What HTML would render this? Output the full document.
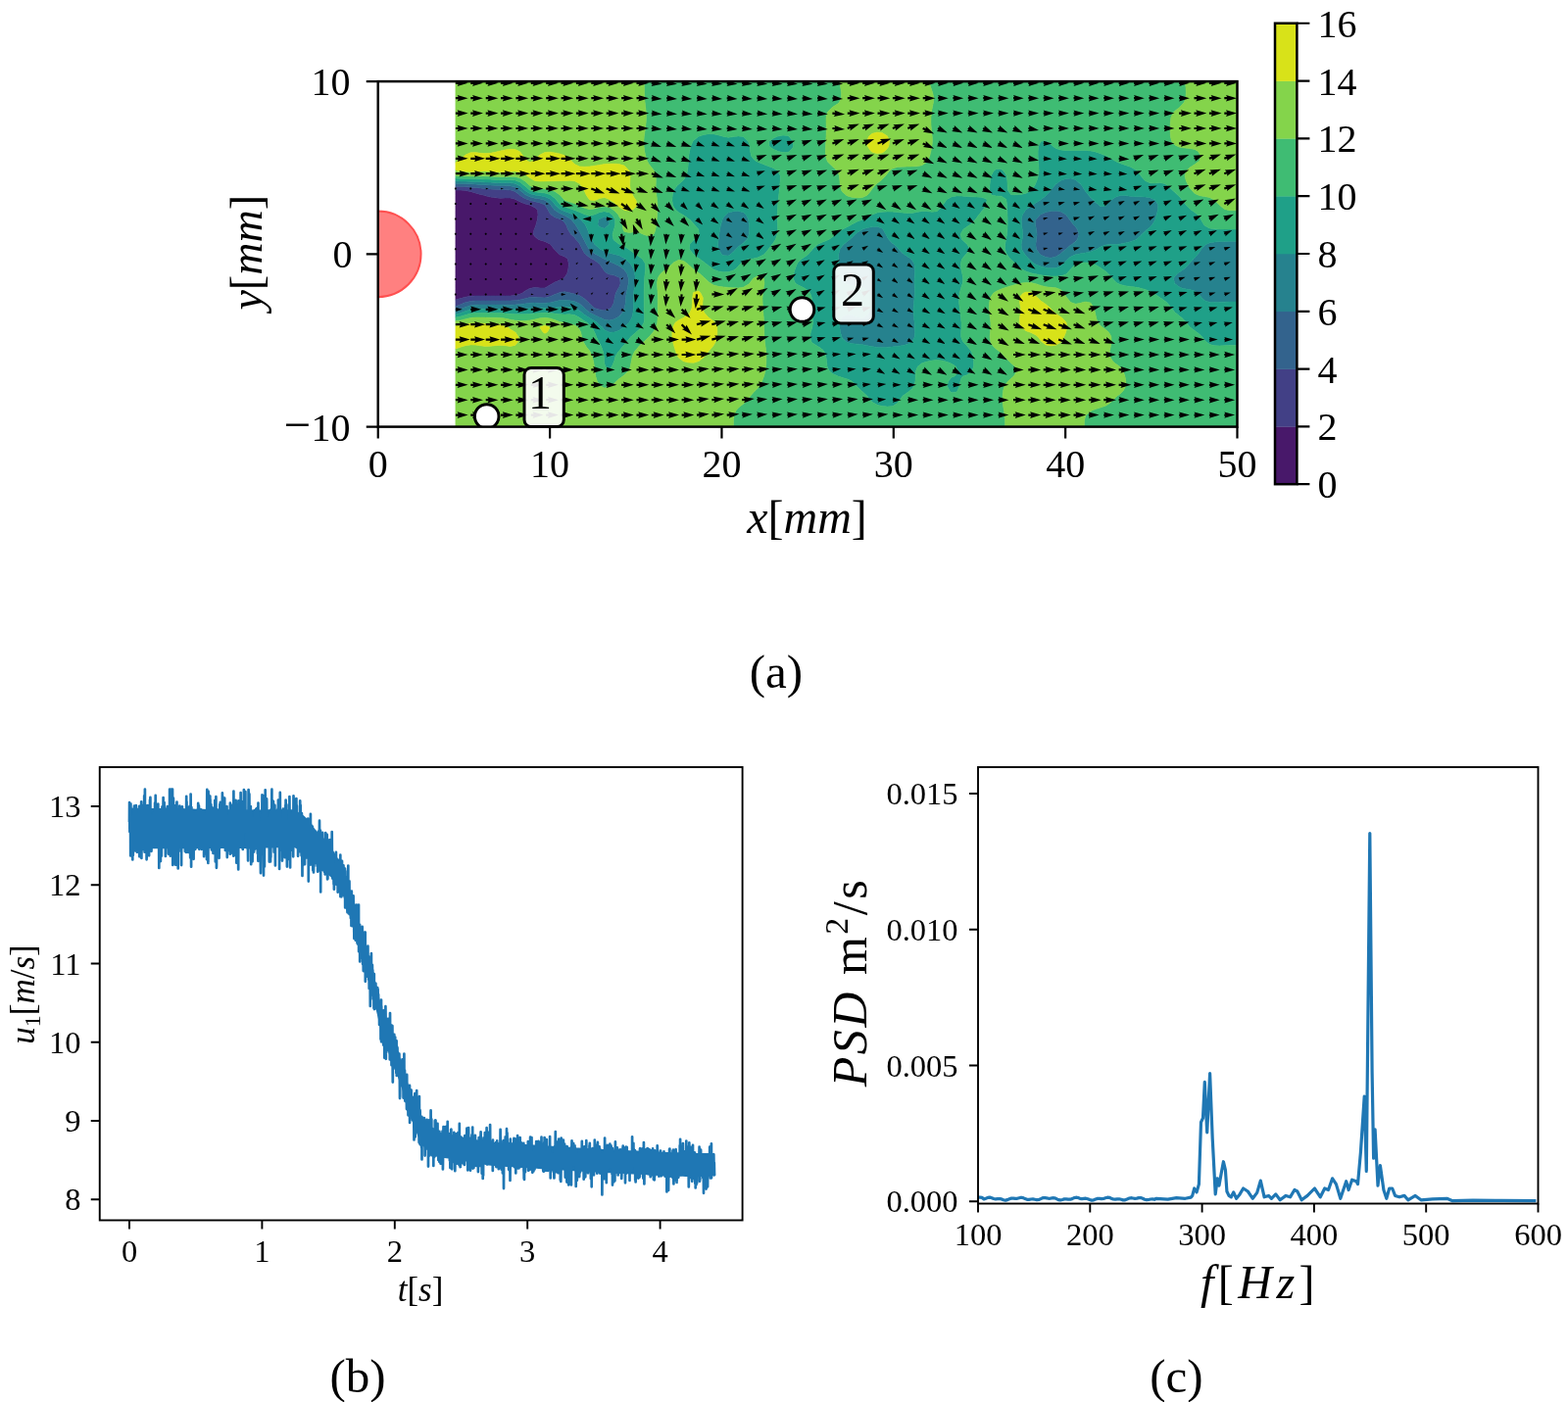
<!DOCTYPE html><html><head><meta charset="utf-8"><style>html,body{margin:0;padding:0;background:#fff;}svg{display:block;}text{font-family:'Liberation Serif','DejaVu Serif',serif;fill:#000;}</style></head><body>
<svg width="1600" height="1431" viewBox="0 0 1600 1431">
<rect width="1600" height="1431" fill="#fff"/>
<defs><clipPath id="ca"><rect x="385.75" y="83.10" width="876.75" height="352.50"/></clipPath></defs>
<g clip-path="url(#ca)">
<path fill="#48186a" stroke="#48186a" stroke-width="0.6" fill-rule="evenodd" d="M470.0 194.1L473.1 194.3L475.0 194.5L480.1 195.5L485.1 196.9L490.2 198.4L494.2 199.3L495.3 199.8L500.3 201.1L505.4 201.8L510.5 202.2L515.5 202.0L520.6 202.0L525.6 203.3L527.4 204.3L530.7 206.0L535.8 208.1L540.7 209.2L540.8 209.3L545.9 212.1L548.6 214.2L549.0 219.2L548.3 224.2L547.0 229.2L545.9 232.5L545.0 234.2L544.2 239.2L545.9 241.6L549.1 244.2L551.0 244.9L556.0 246.4L561.1 248.9L561.5 249.2L565.5 254.2L566.1 255.1L570.2 259.2L571.2 260.0L576.3 262.1L579.3 264.2L580.3 269.2L579.9 274.2L578.7 279.2L576.3 282.8L574.8 284.2L571.2 285.9L566.1 288.1L564.1 289.2L561.1 290.9L556.0 293.9L551.0 294.0L545.9 293.3L541.8 294.2L540.8 294.3L535.8 296.9L533.0 299.2L530.7 300.1L525.6 301.5L520.6 302.0L515.5 302.0L510.5 302.0L505.4 302.0L500.3 302.0L495.3 302.0L490.2 302.0L485.1 302.0L480.1 302.3L475.0 303.2L471.9 304.1L470.0 304.6L464.9 305.9L464.9 304.1L464.9 299.2L464.9 294.2L464.9 289.2L464.9 284.2L464.9 279.2L464.9 274.2L464.9 269.2L464.9 264.2L464.9 259.2L464.9 254.2L464.9 249.2L464.9 244.2L464.9 239.2L464.9 234.2L464.9 229.2L464.9 224.2L464.9 219.2L464.9 214.2L464.9 209.2L464.9 204.3L464.9 199.3L464.9 194.3L464.9 194.0Z"/><path fill="#424086" stroke="#424086" stroke-width="0.6" fill-rule="evenodd" d="M470.0 190.3L475.0 190.6L480.1 190.9L485.1 191.4L490.2 192.0L495.3 192.6L500.3 193.0L505.4 193.3L510.5 193.5L515.5 193.6L520.6 193.9L522.2 194.3L525.6 195.6L530.6 199.3L530.7 199.4L535.8 202.7L540.2 204.3L540.8 204.5L545.9 205.8L551.0 207.0L556.0 209.1L556.2 209.2L559.2 214.2L561.1 217.7L562.6 219.2L566.1 221.7L571.2 223.4L573.0 224.2L576.3 227.4L577.6 229.2L579.6 234.2L581.3 237.1L582.7 239.2L586.4 242.6L587.6 244.2L591.4 248.8L591.7 249.2L594.1 254.2L596.5 258.4L597.1 259.2L601.6 262.7L604.5 264.2L606.6 265.5L611.7 269.2L611.7 269.2L615.2 274.2L616.8 277.1L619.9 279.2L621.8 280.1L626.9 281.1L631.9 283.2L632.6 284.2L633.1 289.2L631.9 292.7L631.0 294.2L628.3 299.2L627.1 304.1L626.9 305.9L626.3 309.1L623.8 314.1L621.8 315.6L616.8 316.9L611.7 316.0L606.6 314.4L606.3 314.1L601.6 309.9L600.9 309.1L596.5 304.9L595.3 304.1L591.4 301.7L586.4 300.1L582.5 299.2L581.3 298.7L576.3 297.7L571.2 298.4L569.6 299.2L566.1 300.5L561.1 302.7L556.0 303.9L551.0 303.7L545.9 303.2L540.8 303.5L538.6 304.1L535.8 304.7L530.7 305.9L525.6 306.7L520.6 307.0L515.5 307.0L510.5 307.0L505.4 307.0L500.3 307.0L495.3 307.0L490.2 307.0L485.1 307.0L480.1 307.5L475.0 308.8L474.1 309.1L470.0 310.8L464.9 312.7L464.9 309.1L464.9 305.9L470.0 304.6L471.9 304.1L475.0 303.2L480.1 302.3L485.1 302.0L490.2 302.0L495.3 302.0L500.3 302.0L505.4 302.0L510.5 302.0L515.5 302.0L520.6 302.0L525.6 301.5L530.7 300.1L533.0 299.2L535.8 296.9L540.8 294.3L541.8 294.2L545.9 293.3L551.0 294.0L556.0 293.9L561.1 290.9L564.1 289.2L566.1 288.1L571.2 285.9L574.8 284.2L576.3 282.8L578.7 279.2L579.9 274.2L580.3 269.2L579.3 264.2L576.3 262.1L571.2 260.0L570.2 259.2L566.1 255.1L565.5 254.2L561.5 249.2L561.1 248.9L556.0 246.4L551.0 244.9L549.1 244.2L545.9 241.6L544.2 239.2L545.0 234.2L545.9 232.5L547.0 229.2L548.3 224.2L549.0 219.2L548.6 214.2L545.9 212.1L540.8 209.3L540.7 209.2L535.8 208.1L530.7 206.0L527.4 204.3L525.6 203.3L520.6 202.0L515.5 202.0L510.5 202.2L505.4 201.8L500.3 201.1L495.3 199.8L494.2 199.3L490.2 198.4L485.1 196.9L480.1 195.5L475.0 194.5L473.1 194.3L470.0 194.1L464.9 194.0L464.9 190.2Z"/><path fill="#33638d" stroke="#33638d" stroke-width="0.6" fill-rule="evenodd" d="M470.0 187.5L475.0 187.6L480.1 187.8L485.1 188.1L490.2 188.4L495.3 188.7L500.3 189.0L505.3 189.3L505.4 189.3L510.5 189.5L515.5 189.6L520.6 189.8L525.6 191.0L530.7 194.2L530.7 194.3L535.8 198.6L537.0 199.3L540.8 201.1L545.9 202.2L551.0 202.9L556.0 204.2L556.2 204.3L561.1 208.2L562.0 209.2L565.8 214.2L566.1 214.6L571.2 217.8L574.7 219.2L576.3 220.0L581.3 223.0L583.1 224.2L586.4 228.2L587.2 229.2L590.2 234.2L591.4 236.3L592.9 239.2L595.6 244.2L596.5 245.9L598.2 249.2L601.0 254.2L601.6 254.9L606.6 258.8L607.3 259.2L611.7 261.5L616.5 264.2L616.8 264.3L621.8 267.1L626.9 269.1L627.0 269.2L631.9 271.4L635.8 274.2L637.0 275.2L639.8 279.2L641.4 284.2L641.3 289.2L640.3 294.2L639.2 299.2L638.5 304.1L638.2 309.1L637.5 314.1L637.0 315.6L635.3 319.1L631.9 322.7L629.8 324.1L626.9 325.8L621.8 327.1L616.8 326.2L612.3 324.1L611.7 323.9L606.6 321.6L601.8 319.1L601.6 319.0L596.5 314.6L596.0 314.1L591.4 310.1L589.4 309.1L586.4 307.8L581.3 306.7L576.3 306.3L571.2 306.6L566.1 307.8L561.1 308.9L559.0 309.1L556.0 309.4L551.0 309.4L545.9 309.1L545.9 309.1L545.9 309.1L540.8 309.3L535.8 309.9L530.7 310.6L525.6 311.1L520.6 311.2L515.5 311.2L510.5 311.1L505.4 311.1L500.3 311.1L495.3 311.1L490.2 311.1L485.1 311.2L480.1 311.8L475.0 313.4L473.4 314.1L470.0 315.5L464.9 317.1L464.9 314.1L464.9 312.7L470.0 310.8L474.1 309.1L475.0 308.8L480.1 307.5L485.1 307.0L490.2 307.0L495.3 307.0L500.3 307.0L505.4 307.0L510.5 307.0L515.5 307.0L520.6 307.0L525.6 306.7L530.7 305.9L535.8 304.7L538.6 304.1L540.8 303.5L545.9 303.2L551.0 303.7L556.0 303.9L561.1 302.7L566.1 300.5L569.6 299.2L571.2 298.4L576.3 297.7L581.3 298.7L582.5 299.2L586.4 300.1L591.4 301.7L595.3 304.1L596.5 304.9L600.9 309.1L601.6 309.9L606.3 314.1L606.6 314.4L611.7 316.0L616.8 316.9L621.8 315.6L623.8 314.1L626.3 309.1L626.9 305.9L627.1 304.1L628.3 299.2L631.0 294.2L631.9 292.7L633.1 289.2L632.6 284.2L631.9 283.2L626.9 281.1L621.8 280.1L619.9 279.2L616.8 277.1L615.2 274.2L611.7 269.2L611.7 269.2L606.6 265.5L604.5 264.2L601.6 262.7L597.1 259.2L596.5 258.4L594.1 254.2L591.7 249.2L591.4 248.8L587.6 244.2L586.4 242.6L582.7 239.2L581.3 237.1L579.6 234.2L577.6 229.2L576.3 227.4L573.0 224.2L571.2 223.4L566.1 221.7L562.6 219.2L561.1 217.7L559.2 214.2L556.2 209.2L556.0 209.1L551.0 207.0L545.9 205.8L540.8 204.5L540.2 204.3L535.8 202.7L530.7 199.4L530.6 199.3L525.6 195.6L522.2 194.3L520.6 193.9L515.5 193.6L510.5 193.5L505.4 193.3L500.3 193.0L495.3 192.6L490.2 192.0L485.1 191.4L480.1 190.9L475.0 190.6L470.0 190.3L464.9 190.2L464.9 189.3L464.9 187.3ZM1062.2 218.7L1067.3 216.6L1072.3 215.6L1077.4 215.3L1082.4 216.0L1087.5 218.9L1087.8 219.2L1091.5 224.2L1092.6 225.8L1095.4 229.2L1097.6 231.7L1099.5 234.2L1101.0 239.2L1099.4 244.2L1097.6 246.2L1094.1 249.2L1092.6 250.1L1087.7 254.2L1087.5 254.3L1082.4 258.7L1081.8 259.2L1077.4 262.1L1072.3 263.2L1067.3 262.6L1062.2 260.3L1061.0 259.2L1057.5 254.2L1057.1 251.5L1056.9 249.2L1057.1 247.4L1057.6 244.2L1058.1 239.2L1057.5 234.2L1057.1 232.2L1056.6 229.2L1056.9 224.2L1057.1 223.9L1061.3 219.2Z"/><path fill="#26828e" stroke="#26828e" stroke-width="0.6" fill-rule="evenodd" d="M1082.4 184.2L1087.5 182.4L1092.6 182.1L1097.6 183.6L1098.4 184.3L1102.7 188.0L1103.7 189.3L1106.9 194.3L1107.7 195.6L1110.8 199.3L1112.8 201.5L1115.8 204.3L1117.9 206.5L1121.3 209.2L1122.9 210.7L1128.0 210.4L1128.9 209.2L1133.1 205.1L1133.8 204.3L1138.1 201.2L1143.2 199.6L1148.2 199.6L1153.3 200.2L1158.4 200.7L1163.4 200.8L1168.5 200.9L1173.5 201.7L1178.6 204.1L1178.8 204.3L1181.8 209.2L1181.5 214.2L1180.2 219.2L1178.7 224.2L1178.6 224.4L1175.9 229.2L1173.5 231.7L1170.4 234.2L1168.5 235.9L1165.1 239.2L1163.4 241.1L1159.5 244.2L1158.4 244.9L1153.3 246.8L1148.2 248.0L1143.2 249.1L1141.6 249.2L1138.1 249.6L1133.1 249.6L1128.0 250.1L1122.9 251.9L1119.4 254.2L1117.9 255.0L1112.8 256.9L1107.7 258.0L1102.7 258.8L1100.8 259.2L1097.6 259.8L1092.6 262.1L1089.9 264.2L1087.5 266.5L1084.9 269.2L1082.4 271.4L1077.4 273.5L1072.3 273.8L1067.3 273.2L1062.2 272.0L1057.1 270.0L1055.7 269.2L1052.1 266.3L1049.8 264.2L1047.0 260.9L1045.5 259.2L1042.4 254.2L1042.1 249.2L1043.1 244.2L1043.6 239.2L1043.2 234.2L1042.4 229.2L1042.2 224.2L1043.3 219.2L1046.7 214.2L1047.0 214.0L1052.1 210.4L1053.8 209.2L1057.1 207.1L1061.5 204.3L1062.2 203.7L1067.3 199.7L1067.8 199.3L1072.2 194.3L1072.3 194.1L1076.2 189.3L1077.4 188.0L1082.4 184.3ZM1061.3 219.2L1057.1 223.9L1056.9 224.2L1056.6 229.2L1057.1 232.2L1057.5 234.2L1058.1 239.2L1057.6 244.2L1057.1 247.4L1056.9 249.2L1057.1 251.5L1057.5 254.2L1061.0 259.2L1062.2 260.3L1067.3 262.6L1072.3 263.2L1077.4 262.1L1081.8 259.2L1082.4 258.7L1087.5 254.3L1087.7 254.2L1092.6 250.1L1094.1 249.2L1097.6 246.2L1099.4 244.2L1101.0 239.2L1099.5 234.2L1097.6 231.7L1095.4 229.2L1092.6 225.8L1091.5 224.2L1087.8 219.2L1087.5 218.9L1082.4 216.0L1077.4 215.3L1072.3 215.6L1067.3 216.6L1062.2 218.7ZM470.0 184.9L475.0 185.1L480.1 185.3L485.1 185.5L490.2 185.6L495.3 185.9L500.3 186.1L505.4 186.4L510.5 186.6L515.5 186.6L520.6 186.6L525.6 187.3L529.6 189.3L530.7 189.9L535.5 194.3L535.8 194.5L540.8 197.7L545.9 199.1L547.0 199.3L551.0 199.8L556.0 200.7L561.1 203.0L562.5 204.3L566.1 208.6L566.7 209.2L571.2 213.4L572.9 214.2L576.3 215.7L581.3 217.6L585.1 219.2L586.4 220.0L591.4 223.3L592.9 224.2L596.5 228.6L597.2 229.2L599.6 234.2L601.2 239.2L601.6 240.1L604.1 244.2L606.6 249.1L606.7 249.2L611.7 253.7L612.3 254.2L616.8 256.3L621.8 258.2L625.9 259.2L626.9 259.4L631.9 260.8L637.0 263.6L637.8 264.2L642.1 267.9L643.3 269.2L646.3 274.2L647.1 277.0L647.7 279.2L648.3 284.2L648.0 289.2L647.3 294.2L647.1 295.1L646.6 299.2L646.3 304.1L646.4 309.1L646.4 314.1L646.0 319.1L644.8 324.1L642.1 329.0L642.0 329.1L637.0 333.7L636.3 334.1L631.9 337.2L626.9 339.1L625.4 339.1L621.8 339.2L621.7 339.1L616.8 336.7L614.6 334.1L611.7 331.7L609.1 329.1L606.6 327.6L601.6 324.6L600.8 324.1L596.5 321.3L593.7 319.1L591.4 317.2L586.4 314.3L585.6 314.1L581.3 313.4L576.3 313.5L571.2 313.8L566.1 314.1L565.5 314.1L561.1 314.3L556.0 314.4L551.0 314.5L545.9 314.5L540.8 314.7L535.8 315.0L530.7 315.4L525.6 315.5L520.6 315.5L515.5 315.3L510.5 315.2L505.4 315.2L500.3 315.2L495.3 315.2L490.2 315.2L485.1 315.3L480.1 315.9L475.0 317.5L471.1 319.1L470.0 319.5L464.9 320.7L464.9 319.1L464.9 317.1L470.0 315.5L473.4 314.1L475.0 313.4L480.1 311.8L485.1 311.2L490.2 311.1L495.3 311.1L500.3 311.1L505.4 311.1L510.5 311.1L515.5 311.2L520.6 311.2L525.6 311.1L530.7 310.6L535.8 309.9L540.8 309.3L545.9 309.1L545.9 309.1L545.9 309.1L551.0 309.4L556.0 309.4L559.0 309.1L561.1 308.9L566.1 307.8L571.2 306.6L576.3 306.3L581.3 306.7L586.4 307.8L589.4 309.1L591.4 310.1L596.0 314.1L596.5 314.6L601.6 319.0L601.8 319.1L606.6 321.6L611.7 323.9L612.3 324.1L616.8 326.2L621.8 327.1L626.9 325.8L629.8 324.1L631.9 322.7L635.3 319.1L637.0 315.6L637.5 314.1L638.2 309.1L638.5 304.1L639.2 299.2L640.3 294.2L641.3 289.2L641.4 284.2L639.8 279.2L637.0 275.2L635.8 274.2L631.9 271.4L627.0 269.2L626.9 269.1L621.8 267.1L616.8 264.3L616.5 264.2L611.7 261.5L607.3 259.2L606.6 258.8L601.6 254.9L601.0 254.2L598.2 249.2L596.5 245.9L595.6 244.2L592.9 239.2L591.4 236.3L590.2 234.2L587.2 229.2L586.4 228.2L583.1 224.2L581.3 223.0L576.3 220.0L574.7 219.2L571.2 217.8L566.1 214.6L565.8 214.2L562.0 209.2L561.1 208.2L556.2 204.3L556.0 204.2L551.0 202.9L545.9 202.2L540.8 201.1L537.0 199.3L535.8 198.6L530.7 194.3L530.7 194.2L525.6 191.0L520.6 189.8L515.5 189.6L510.5 189.5L505.4 189.3L505.3 189.3L500.3 189.0L495.3 188.7L490.2 188.4L485.1 188.1L480.1 187.8L475.0 187.6L470.0 187.5L464.9 187.3L464.9 184.8ZM743.3 217.1L748.4 215.7L753.4 215.5L758.5 216.8L761.3 219.2L763.5 223.6L763.7 224.2L764.4 229.2L764.6 234.2L764.2 239.2L763.5 241.4L762.3 244.2L758.5 248.0L756.9 249.2L753.4 251.7L751.0 254.2L748.4 257.0L745.7 259.2L743.3 261.0L738.2 260.8L736.2 259.2L733.2 254.6L733.0 254.2L732.6 249.2L733.1 244.2L733.2 243.8L733.8 239.2L734.5 234.2L735.5 229.2L737.1 224.2L738.2 221.9L740.6 219.2ZM611.7 223.4L616.8 221.1L621.8 223.9L622.1 224.2L621.8 227.3L621.4 229.2L616.8 233.3L611.7 231.6L609.9 229.2L610.6 224.2ZM880.0 234.1L885.0 232.6L890.1 231.6L895.2 231.2L900.2 233.2L901.2 234.2L903.9 239.2L905.3 241.9L906.8 244.2L910.3 247.9L912.0 249.2L915.4 252.4L916.9 254.2L920.5 257.9L922.0 259.2L925.5 261.4L929.6 264.2L930.6 265.2L932.9 269.2L933.5 274.2L933.4 279.2L933.1 284.2L933.1 289.2L933.3 294.2L933.4 299.2L933.1 304.1L932.6 309.1L932.1 314.1L932.1 319.1L932.6 324.1L933.1 329.1L933.3 334.1L933.5 339.1L933.2 344.1L930.6 349.0L930.5 349.1L925.5 351.6L920.5 352.7L915.4 353.5L910.3 354.0L909.6 354.1L905.3 354.4L900.2 354.7L895.2 354.5L892.1 354.1L890.1 353.8L885.0 352.7L880.0 351.7L874.9 351.2L869.8 350.7L864.8 349.6L863.8 349.1L859.7 345.2L859.1 344.1L857.5 339.1L856.8 334.1L857.0 329.1L859.1 324.1L859.7 323.3L864.8 321.0L869.8 321.9L874.9 323.9L876.8 324.1L880.0 324.7L881.0 324.1L885.0 321.6L886.8 319.1L888.7 314.1L889.5 309.1L889.4 304.1L887.6 299.2L885.0 296.4L882.2 294.2L880.0 292.7L874.9 291.5L869.8 291.3L864.8 290.6L862.0 289.2L859.7 287.1L858.0 284.2L856.8 279.2L856.2 274.2L855.8 269.2L855.7 264.2L855.8 259.2L857.1 254.2L859.7 250.8L861.2 249.2L864.8 246.3L867.3 244.2L869.8 242.0L872.4 239.2L874.9 237.2L879.7 234.2ZM1234.3 247.8L1239.4 246.9L1244.4 246.6L1249.5 246.4L1254.5 246.3L1259.6 246.3L1264.7 246.3L1264.7 249.2L1264.7 254.2L1264.7 259.2L1264.7 264.2L1264.7 269.2L1264.7 274.2L1264.7 279.2L1264.7 284.2L1264.7 289.2L1264.7 294.2L1264.7 299.2L1264.7 304.1L1264.7 308.1L1259.6 308.1L1254.5 308.1L1249.5 308.2L1244.4 308.4L1239.4 308.6L1234.3 308.4L1229.2 306.7L1226.3 304.1L1224.2 301.5L1222.1 299.2L1219.1 297.0L1214.0 295.6L1209.0 294.8L1206.7 294.2L1203.9 293.3L1198.9 289.4L1198.7 289.2L1197.4 284.2L1198.9 282.1L1201.4 279.2L1203.9 277.5L1208.7 274.2L1209.0 273.9L1213.4 269.2L1214.0 268.4L1218.0 264.2L1219.1 263.2L1222.4 259.2L1224.2 256.9L1225.8 254.2L1229.2 250.5L1231.1 249.2Z"/><path fill="#1fa088" stroke="#1fa088" stroke-width="0.6" fill-rule="evenodd" d="M712.9 139.3L718.0 137.5L723.1 136.7L728.1 136.8L733.2 137.9L737.9 139.3L738.2 139.4L743.3 140.2L748.4 139.6L750.3 139.3L753.4 138.9L757.2 139.3L758.5 139.5L763.5 144.2L763.6 144.3L765.2 149.3L765.6 154.3L766.6 159.3L768.6 162.0L771.1 164.3L773.7 165.6L778.7 167.6L783.1 169.3L783.8 169.5L788.9 171.4L793.6 174.3L793.9 174.7L796.2 179.3L796.2 184.3L795.7 189.3L795.2 194.3L794.8 199.3L794.2 204.3L793.9 207.2L793.7 209.2L793.4 214.2L793.3 219.2L793.3 224.2L793.5 229.2L793.6 234.2L793.1 239.2L791.4 244.2L788.9 248.2L788.0 249.2L784.3 254.2L783.8 254.8L780.1 259.2L778.7 260.2L773.7 262.8L768.6 264.0L767.0 264.2L763.5 264.7L758.5 266.7L755.6 269.2L753.4 271.6L750.8 274.2L748.4 276.0L743.3 277.6L738.2 277.7L733.2 276.9L728.1 274.9L727.1 274.2L723.1 271.2L720.5 269.2L718.0 267.2L713.7 264.2L712.9 263.6L707.9 259.7L707.3 259.2L703.4 254.2L703.8 249.2L707.9 244.8L708.6 244.2L712.9 239.7L713.3 239.2L712.9 235.0L712.8 234.2L708.6 229.2L707.9 228.6L703.9 224.2L702.8 223.4L697.7 219.8L696.9 219.2L692.7 216.9L689.5 214.2L687.6 211.5L686.5 209.2L685.8 204.3L686.2 199.3L687.4 194.3L687.6 193.9L691.1 189.3L692.7 188.1L697.0 184.3L697.7 183.5L700.2 179.3L701.6 174.3L702.1 169.3L702.4 164.3L702.8 159.7L702.8 159.3L703.6 154.3L704.8 149.3L707.0 144.3L707.9 143.2L712.8 139.3ZM740.6 219.2L738.2 221.9L737.1 224.2L735.5 229.2L734.5 234.2L733.8 239.2L733.2 243.8L733.1 244.2L732.6 249.2L733.0 254.2L733.2 254.6L736.2 259.2L738.2 260.8L743.3 261.0L745.7 259.2L748.4 257.0L751.0 254.2L753.4 251.7L756.9 249.2L758.5 248.0L762.3 244.2L763.5 241.4L764.2 239.2L764.6 234.2L764.4 229.2L763.7 224.2L763.5 223.6L761.3 219.2L758.5 216.8L753.4 215.5L748.4 215.7L743.3 217.1ZM793.9 139.1L799.0 138.1L804.0 138.6L805.1 139.3L809.1 143.9L809.3 144.3L809.6 149.3L809.1 150.6L805.9 154.3L804.0 155.4L799.0 155.6L793.9 154.4L793.8 154.3L788.9 152.2L784.9 149.3L784.8 144.3L788.9 141.3L793.1 139.3ZM1062.2 144.2L1067.3 143.5L1068.6 144.3L1072.3 147.2L1074.5 149.3L1077.4 151.4L1082.4 153.1L1087.5 153.5L1092.6 153.5L1097.6 153.5L1102.7 153.4L1107.7 153.4L1112.8 153.9L1114.8 154.3L1117.9 155.0L1122.9 156.7L1128.0 158.7L1129.3 159.3L1133.1 161.5L1137.9 164.3L1138.1 164.4L1143.2 166.7L1148.2 168.5L1150.3 169.3L1153.3 170.3L1158.4 172.9L1159.9 174.3L1163.4 178.5L1164.0 179.3L1168.2 184.3L1168.5 184.5L1173.5 186.8L1178.6 187.0L1183.7 186.5L1188.7 187.4L1191.1 189.3L1193.8 191.4L1196.6 194.3L1198.9 196.3L1201.9 199.3L1203.9 201.1L1206.6 204.3L1209.0 207.4L1210.4 209.2L1214.0 213.1L1215.5 214.2L1219.1 216.7L1222.2 219.2L1224.2 221.8L1225.6 224.2L1228.4 229.2L1229.2 230.3L1234.3 233.1L1239.4 233.8L1244.4 233.9L1249.5 233.9L1254.5 233.9L1259.6 233.9L1264.7 233.9L1264.7 234.2L1264.7 239.2L1264.7 244.2L1264.7 246.3L1259.6 246.3L1254.5 246.3L1249.5 246.4L1244.4 246.6L1239.4 246.9L1234.3 247.8L1231.1 249.2L1229.2 250.5L1225.8 254.2L1224.2 256.9L1222.4 259.2L1219.1 263.2L1218.0 264.2L1214.0 268.4L1213.4 269.2L1209.0 273.9L1208.7 274.2L1203.9 277.5L1201.4 279.2L1198.9 282.1L1197.4 284.2L1198.7 289.2L1198.9 289.4L1203.9 293.3L1206.7 294.2L1209.0 294.8L1214.0 295.6L1219.1 297.0L1222.1 299.2L1224.2 301.5L1226.3 304.1L1229.2 306.7L1234.3 308.4L1239.4 308.6L1244.4 308.4L1249.5 308.2L1254.5 308.1L1259.6 308.1L1264.7 308.1L1264.7 309.1L1264.7 314.1L1264.7 319.1L1264.7 324.1L1264.7 329.1L1264.7 334.1L1264.7 339.1L1264.7 344.1L1264.7 349.1L1264.7 352.6L1259.6 352.6L1254.5 352.6L1249.5 352.7L1244.4 352.9L1239.4 352.8L1234.3 351.6L1231.1 349.1L1229.2 347.3L1226.8 344.1L1224.2 341.4L1221.3 339.1L1219.1 337.5L1214.4 334.1L1214.0 333.7L1210.4 329.1L1209.0 327.5L1205.5 324.1L1203.9 322.8L1199.2 319.1L1198.9 318.8L1195.1 314.1L1193.8 312.4L1190.9 309.1L1188.7 307.2L1184.2 304.1L1183.7 303.7L1178.6 300.3L1176.8 299.2L1173.5 297.4L1168.5 295.4L1164.0 294.2L1163.4 294.0L1158.4 293.1L1153.3 292.4L1148.2 291.7L1143.2 290.5L1140.5 289.2L1138.1 287.5L1135.1 284.2L1133.1 281.7L1130.7 279.2L1128.0 276.7L1124.2 274.2L1122.9 273.3L1117.9 270.3L1115.6 269.2L1112.8 268.5L1107.7 268.0L1102.7 268.2L1098.4 269.2L1097.6 269.5L1093.1 274.2L1092.6 274.8L1088.6 279.2L1087.5 279.9L1082.4 281.7L1077.4 282.1L1072.3 281.9L1067.3 281.5L1062.2 280.8L1057.1 279.8L1053.9 279.2L1052.1 278.7L1047.0 277.1L1041.9 274.5L1041.5 274.2L1036.9 270.0L1036.1 269.2L1031.8 265.1L1030.8 264.2L1027.1 259.2L1026.8 258.3L1025.5 254.2L1025.6 249.2L1026.5 244.2L1026.8 243.0L1027.4 239.2L1027.9 234.2L1028.1 229.2L1028.1 224.2L1028.0 219.2L1027.7 214.2L1027.4 209.2L1026.9 204.3L1026.8 203.4L1021.7 200.3L1016.6 200.0L1012.2 199.3L1011.6 199.0L1009.8 194.3L1009.9 189.3L1010.4 184.3L1011.3 179.3L1011.6 178.7L1014.2 174.3L1016.6 172.4L1021.7 172.6L1023.9 174.3L1026.8 178.6L1027.1 179.3L1027.9 184.3L1028.1 189.3L1028.4 194.3L1031.8 198.7L1036.9 198.8L1041.9 198.4L1047.0 197.3L1052.1 194.5L1052.3 194.3L1055.8 189.3L1057.1 186.4L1058.0 184.3L1059.5 179.3L1060.1 174.3L1059.9 169.3L1059.4 164.3L1059.1 159.3L1059.1 154.3L1059.6 149.3L1062.1 144.3ZM1082.4 184.3L1077.4 188.0L1076.2 189.3L1072.3 194.1L1072.2 194.3L1067.8 199.3L1067.3 199.7L1062.2 203.7L1061.5 204.3L1057.1 207.1L1053.8 209.2L1052.1 210.4L1047.0 214.0L1046.7 214.2L1043.3 219.2L1042.2 224.2L1042.4 229.2L1043.2 234.2L1043.6 239.2L1043.1 244.2L1042.1 249.2L1042.4 254.2L1045.5 259.2L1047.0 260.9L1049.8 264.2L1052.1 266.3L1055.7 269.2L1057.1 270.0L1062.2 272.0L1067.3 273.2L1072.3 273.8L1077.4 273.5L1082.4 271.4L1084.9 269.2L1087.5 266.5L1089.9 264.2L1092.6 262.1L1097.6 259.8L1100.8 259.2L1102.7 258.8L1107.7 258.0L1112.8 256.9L1117.9 255.0L1119.4 254.2L1122.9 251.9L1128.0 250.1L1133.1 249.6L1138.1 249.6L1141.6 249.2L1143.2 249.1L1148.2 248.0L1153.3 246.8L1158.4 244.9L1159.5 244.2L1163.4 241.1L1165.1 239.2L1168.5 235.9L1170.4 234.2L1173.5 231.7L1175.9 229.2L1178.6 224.4L1178.7 224.2L1180.2 219.2L1181.5 214.2L1181.8 209.2L1178.8 204.3L1178.6 204.1L1173.5 201.7L1168.5 200.9L1163.4 200.8L1158.4 200.7L1153.3 200.2L1148.2 199.6L1143.2 199.6L1138.1 201.2L1133.8 204.3L1133.1 205.1L1128.9 209.2L1128.0 210.4L1122.9 210.7L1121.3 209.2L1117.9 206.5L1115.8 204.3L1112.8 201.5L1110.8 199.3L1107.7 195.6L1106.9 194.3L1103.7 189.3L1102.7 188.0L1098.4 184.3L1097.6 183.6L1092.6 182.1L1087.5 182.4L1082.4 184.2ZM470.0 182.2L475.0 182.5L480.1 182.6L485.1 182.7L490.2 182.8L495.3 182.9L500.3 183.1L505.4 183.4L510.5 183.6L515.5 183.6L520.6 183.6L525.6 184.0L526.3 184.3L530.7 186.0L534.9 189.3L535.8 190.1L540.8 194.2L540.9 194.3L545.9 195.8L551.0 196.5L556.0 197.1L561.1 198.6L562.2 199.3L566.1 202.2L567.9 204.3L571.2 208.3L572.4 209.2L576.3 211.2L581.3 212.8L585.6 214.2L586.4 214.5L591.4 216.6L596.5 218.8L598.2 219.2L601.6 220.3L605.4 219.2L606.6 219.0L611.7 216.8L616.8 215.7L621.8 216.9L624.8 219.2L626.9 222.7L627.7 224.2L627.8 229.2L626.9 232.7L626.4 234.2L625.0 239.2L625.9 244.2L626.9 245.5L631.8 249.2L631.9 249.3L637.0 251.5L641.3 254.2L642.1 254.7L647.1 258.6L648.0 259.2L652.2 262.0L655.4 264.2L657.2 266.9L658.5 269.2L658.7 274.2L658.1 279.2L657.7 284.2L657.4 289.2L657.3 294.2L657.2 296.1L657.2 299.2L657.2 304.1L657.2 309.1L657.2 314.1L657.2 314.2L657.5 319.1L657.7 324.1L657.2 328.9L657.2 329.1L654.5 334.1L652.2 336.4L649.0 339.1L647.1 340.7L643.5 344.1L642.1 345.7L639.2 349.1L637.0 352.1L635.1 354.1L631.9 358.1L630.9 359.1L627.9 364.1L626.9 368.1L626.5 369.1L624.4 374.1L621.8 377.3L617.7 374.1L616.8 371.1L616.6 369.1L616.3 364.1L615.4 359.1L613.7 354.1L611.7 350.1L611.2 349.1L608.7 344.1L606.7 339.1L606.6 338.9L604.1 334.1L601.6 331.7L598.7 329.1L596.5 327.8L591.4 324.2L591.2 324.1L586.4 321.6L581.3 320.8L576.3 321.0L571.2 320.7L566.1 320.1L561.1 319.5L556.0 319.3L551.0 319.5L545.9 319.9L540.8 320.4L535.8 320.7L530.7 320.8L525.6 320.7L520.6 320.3L515.5 319.9L510.5 319.6L505.4 319.5L500.3 319.5L495.3 319.5L490.2 319.4L485.1 319.5L480.1 320.1L475.0 321.5L470.0 323.0L464.9 324.0L464.9 320.7L470.0 319.5L471.1 319.1L475.0 317.5L480.1 315.9L485.1 315.3L490.2 315.2L495.3 315.2L500.3 315.2L505.4 315.2L510.5 315.2L515.5 315.3L520.6 315.5L525.6 315.5L530.7 315.4L535.8 315.0L540.8 314.7L545.9 314.5L551.0 314.5L556.0 314.4L561.1 314.3L565.5 314.1L566.1 314.1L571.2 313.8L576.3 313.5L581.3 313.4L585.6 314.1L586.4 314.3L591.4 317.2L593.7 319.1L596.5 321.3L600.8 324.1L601.6 324.6L606.6 327.6L609.1 329.1L611.7 331.7L614.6 334.1L616.8 336.7L621.7 339.1L621.8 339.2L625.4 339.1L626.9 339.1L631.9 337.2L636.3 334.1L637.0 333.7L642.0 329.1L642.1 329.0L644.8 324.1L646.0 319.1L646.4 314.1L646.4 309.1L646.3 304.1L646.6 299.2L647.1 295.1L647.3 294.2L648.0 289.2L648.3 284.2L647.7 279.2L647.1 277.0L646.3 274.2L643.3 269.2L642.1 267.9L637.8 264.2L637.0 263.6L631.9 260.8L626.9 259.4L625.9 259.2L621.8 258.2L616.8 256.3L612.3 254.2L611.7 253.7L606.7 249.2L606.6 249.1L604.1 244.2L601.6 240.1L601.2 239.2L599.6 234.2L597.2 229.2L596.5 228.6L592.9 224.2L591.4 223.3L586.4 220.0L585.1 219.2L581.3 217.6L576.3 215.7L572.9 214.2L571.2 213.4L566.7 209.2L566.1 208.6L562.5 204.3L561.1 203.0L556.0 200.7L551.0 199.8L547.0 199.3L545.9 199.1L540.8 197.7L535.8 194.5L535.5 194.3L530.7 189.9L529.6 189.3L525.6 187.3L520.6 186.6L515.5 186.6L510.5 186.6L505.4 186.4L500.3 186.1L495.3 185.9L490.2 185.6L485.1 185.5L480.1 185.3L475.0 185.1L470.0 184.9L464.9 184.8L464.9 184.3L464.9 182.1ZM610.6 224.2L609.9 229.2L611.7 231.6L616.8 233.3L621.4 229.2L621.8 227.3L622.1 224.2L621.8 223.9L616.8 221.1L611.7 223.4ZM966.0 203.8L971.1 200.7L976.1 199.9L981.2 200.1L986.3 200.5L991.3 200.8L996.4 201.0L1001.4 201.3L1006.5 203.1L1007.1 204.3L1006.5 207.5L1006.3 209.2L1003.1 214.2L1001.4 216.1L998.9 219.2L996.4 222.6L995.2 224.2L991.3 228.2L990.0 229.2L986.3 231.8L982.9 234.2L981.2 237.1L980.1 239.2L981.2 243.4L981.4 244.2L986.3 248.8L986.8 249.2L989.9 254.2L986.3 258.7L985.9 259.2L981.7 264.2L981.2 265.6L980.3 269.2L980.7 274.2L981.2 276.7L981.8 279.2L982.7 284.2L982.2 289.2L981.2 292.1L980.6 294.2L979.1 299.2L978.6 304.1L978.7 309.1L979.2 314.1L979.8 319.1L980.5 324.1L981.0 329.1L981.1 334.1L980.7 339.1L980.7 344.1L981.2 345.3L982.8 349.1L986.3 352.6L987.6 354.1L991.3 358.7L991.5 359.1L993.1 364.1L993.6 369.1L993.5 374.1L991.8 379.1L991.3 379.7L986.3 382.9L982.8 384.1L981.2 385.6L980.0 389.1L979.1 394.0L976.9 399.0L976.1 400.0L971.1 400.8L969.1 399.0L966.4 394.0L967.6 389.1L971.1 385.1L974.0 384.1L976.1 382.0L977.8 379.1L976.1 375.7L975.4 374.1L971.1 371.2L966.0 369.3L965.1 369.1L961.0 368.0L955.9 367.5L950.8 368.1L946.1 369.1L945.8 369.1L940.7 370.8L936.6 374.1L935.6 375.9L934.5 379.1L934.2 384.1L934.0 389.1L932.7 394.0L930.6 396.9L928.2 399.0L925.5 401.0L921.3 404.0L920.5 405.0L917.5 409.0L915.4 411.7L911.9 414.0L910.3 414.7L905.3 415.1L900.2 414.5L897.9 414.0L895.2 413.3L890.1 410.5L888.6 409.0L885.0 404.5L884.6 404.0L880.0 399.7L879.2 399.0L874.9 394.8L874.2 394.0L869.8 389.6L869.1 389.1L864.8 387.0L859.7 385.4L855.4 384.1L854.7 383.8L849.6 381.5L846.5 379.1L844.5 375.3L844.1 374.1L843.5 369.1L842.9 364.1L841.1 359.1L839.5 357.1L835.5 354.1L834.4 353.4L829.3 350.2L828.1 349.1L826.4 344.1L827.3 339.1L828.8 334.1L829.3 330.0L829.5 329.1L829.3 327.2L829.1 324.1L828.4 319.1L828.0 314.1L828.3 309.1L828.3 304.1L826.7 299.2L824.3 296.6L821.0 294.2L819.2 293.2L814.2 290.8L811.7 289.2L809.3 284.2L809.9 279.2L811.4 274.2L813.4 269.2L814.2 268.0L818.0 264.2L819.2 263.4L824.3 259.9L825.1 259.2L829.3 254.2L829.3 254.1L834.4 249.3L834.7 249.2L839.5 247.0L844.5 245.1L846.1 244.2L849.6 241.8L852.7 239.2L854.7 237.4L859.4 234.2L859.7 234.1L864.8 231.4L868.9 229.2L869.8 228.7L874.9 226.1L879.9 224.2L880.0 224.2L885.0 221.4L889.6 219.2L890.1 219.0L895.2 217.0L900.2 216.2L905.3 216.0L910.3 216.1L915.4 216.5L920.5 217.1L925.5 217.6L930.6 217.4L935.6 216.5L940.7 215.6L945.8 215.6L950.8 216.3L955.9 215.8L957.9 214.2L961.0 211.2L962.1 209.2L965.6 204.3ZM879.7 234.2L874.9 237.2L872.4 239.2L869.8 242.0L867.3 244.2L864.8 246.3L861.2 249.2L859.7 250.8L857.1 254.2L855.8 259.2L855.7 264.2L855.8 269.2L856.2 274.2L856.8 279.2L858.0 284.2L859.7 287.1L862.0 289.2L864.8 290.6L869.8 291.3L874.9 291.5L880.0 292.7L882.2 294.2L885.0 296.4L887.6 299.2L889.4 304.1L889.5 309.1L888.7 314.1L886.8 319.1L885.0 321.6L881.0 324.1L880.0 324.7L876.8 324.1L874.9 323.9L869.8 321.9L864.8 321.0L859.7 323.3L859.1 324.1L857.0 329.1L856.8 334.1L857.5 339.1L859.1 344.1L859.7 345.2L863.8 349.1L864.8 349.6L869.8 350.7L874.9 351.2L880.0 351.7L885.0 352.7L890.1 353.8L892.1 354.1L895.2 354.5L900.2 354.7L905.3 354.4L909.6 354.1L910.3 354.0L915.4 353.5L920.5 352.7L925.5 351.6L930.5 349.1L930.6 349.0L933.2 344.1L933.5 339.1L933.3 334.1L933.1 329.1L932.6 324.1L932.1 319.1L932.1 314.1L932.6 309.1L933.1 304.1L933.4 299.2L933.3 294.2L933.1 289.2L933.1 284.2L933.4 279.2L933.5 274.2L932.9 269.2L930.6 265.2L929.6 264.2L925.5 261.4L922.0 259.2L920.5 257.9L916.9 254.2L915.4 252.4L912.0 249.2L910.3 247.9L906.8 244.2L905.3 241.9L903.9 239.2L901.2 234.2L900.2 233.2L895.2 231.2L890.1 231.6L885.0 232.6L880.0 234.1Z"/><path fill="#3fbc73" stroke="#3fbc73" stroke-width="0.6" fill-rule="evenodd" d="M662.3 69.4L667.4 69.4L672.4 69.4L677.5 69.4L682.6 69.4L687.6 69.4L692.7 69.4L697.7 69.4L702.8 69.4L707.9 69.4L712.9 69.4L718.0 69.4L723.1 69.4L728.1 69.4L733.2 69.4L738.2 69.4L743.3 69.4L748.4 69.4L753.4 69.4L758.5 69.4L763.5 69.4L768.6 69.4L773.7 69.4L778.7 69.4L783.8 69.4L788.9 69.4L793.9 69.4L799.0 69.4L804.0 69.4L809.1 69.4L814.2 69.4L819.2 69.4L824.3 69.4L829.3 69.4L834.4 69.4L839.5 69.4L844.5 69.4L849.6 69.4L854.7 69.4L856.8 69.4L856.8 74.4L856.8 79.4L857.1 84.4L857.8 89.4L858.5 94.4L858.5 99.4L856.4 104.4L854.7 106.0L849.6 109.3L849.4 109.4L844.5 114.2L844.4 114.4L843.1 119.3L843.0 124.3L843.2 129.3L843.2 134.3L843.0 139.3L842.8 144.3L842.5 149.3L842.3 154.3L842.6 159.3L844.1 164.3L844.5 164.9L848.8 169.3L849.6 170.0L854.2 174.3L854.7 175.1L856.4 179.3L856.9 184.3L857.3 189.3L858.6 194.3L859.7 195.9L863.5 199.3L864.8 200.0L869.8 201.4L874.9 201.9L880.0 201.6L884.9 199.3L885.0 199.2L889.0 194.3L890.1 192.6L892.7 189.3L895.2 187.1L898.9 184.3L900.2 183.1L903.8 179.3L905.3 177.2L907.8 174.3L910.3 172.2L915.4 170.6L920.5 170.2L925.5 170.0L930.6 169.9L935.6 169.8L938.3 169.3L940.7 168.8L945.8 165.3L946.5 164.3L948.7 159.3L949.9 154.3L950.8 149.4L950.9 149.3L951.4 144.3L951.2 139.3L950.8 136.6L950.6 134.3L950.1 129.3L949.9 124.3L950.0 119.3L950.5 114.4L950.8 112.4L951.4 109.4L952.4 104.4L952.7 99.4L951.6 94.4L950.8 92.1L949.9 89.4L948.4 84.4L947.8 79.4L947.7 74.4L947.7 69.4L950.8 69.4L955.9 69.4L961.0 69.4L966.0 69.4L971.1 69.4L976.1 69.4L981.2 69.4L986.3 69.4L991.3 69.4L996.4 69.4L1001.4 69.4L1006.5 69.4L1011.6 69.4L1016.6 69.4L1021.7 69.4L1026.8 69.4L1031.8 69.4L1036.9 69.4L1041.9 69.4L1047.0 69.4L1052.1 69.4L1057.1 69.4L1062.2 69.4L1067.3 69.4L1072.3 69.4L1077.4 69.4L1082.4 69.4L1087.5 69.4L1092.6 69.4L1097.6 69.4L1102.7 69.4L1107.7 69.4L1112.8 69.4L1117.9 69.4L1122.9 69.4L1128.0 69.4L1133.1 69.4L1138.1 69.4L1143.2 69.4L1148.2 69.4L1153.3 69.4L1158.4 69.4L1163.4 69.4L1168.5 69.4L1173.5 69.4L1178.6 69.4L1183.7 69.4L1188.7 69.4L1193.8 69.4L1198.9 69.4L1203.9 69.4L1209.0 69.4L1209.4 69.4L1209.4 74.4L1209.5 79.4L1209.6 84.4L1210.0 89.4L1210.3 94.4L1210.0 99.4L1209.0 102.7L1208.3 104.4L1203.9 109.3L1203.8 109.4L1198.9 113.3L1197.7 114.4L1195.0 119.3L1194.3 124.3L1194.1 129.3L1194.1 134.3L1194.4 139.3L1195.6 144.3L1198.9 147.9L1201.4 149.3L1203.9 150.2L1209.0 151.0L1214.0 151.5L1219.1 152.5L1222.3 154.3L1224.2 156.9L1225.2 159.3L1224.2 163.0L1223.8 164.3L1219.1 167.7L1216.8 169.3L1214.0 171.1L1210.6 174.3L1209.0 179.3L1210.2 184.3L1212.6 189.3L1214.0 191.7L1216.1 194.3L1219.1 197.4L1223.1 199.3L1224.2 199.7L1229.2 200.5L1234.3 201.6L1239.4 204.2L1239.5 204.3L1244.4 209.2L1244.4 209.3L1249.5 213.5L1252.5 214.2L1254.5 214.7L1259.6 214.8L1264.7 214.8L1264.7 219.2L1264.7 224.2L1264.7 229.2L1264.7 233.9L1259.6 233.9L1254.5 233.9L1249.5 233.9L1244.4 233.9L1239.4 233.8L1234.3 233.1L1229.2 230.3L1228.4 229.2L1225.6 224.2L1224.2 221.8L1222.2 219.2L1219.1 216.7L1215.5 214.2L1214.0 213.1L1210.4 209.2L1209.0 207.4L1206.6 204.3L1203.9 201.1L1201.9 199.3L1198.9 196.3L1196.6 194.3L1193.8 191.4L1191.1 189.3L1188.7 187.4L1183.7 186.5L1178.6 187.0L1173.5 186.8L1168.5 184.5L1168.2 184.3L1164.0 179.3L1163.4 178.5L1159.9 174.3L1158.4 172.9L1153.3 170.3L1150.3 169.3L1148.2 168.5L1143.2 166.7L1138.1 164.4L1137.9 164.3L1133.1 161.5L1129.3 159.3L1128.0 158.7L1122.9 156.7L1117.9 155.0L1114.8 154.3L1112.8 153.9L1107.7 153.4L1102.7 153.4L1097.6 153.5L1092.6 153.5L1087.5 153.5L1082.4 153.1L1077.4 151.4L1074.5 149.3L1072.3 147.2L1068.6 144.3L1067.3 143.5L1062.2 144.2L1062.1 144.3L1059.6 149.3L1059.1 154.3L1059.1 159.3L1059.4 164.3L1059.9 169.3L1060.1 174.3L1059.5 179.3L1058.0 184.3L1057.1 186.4L1055.8 189.3L1052.3 194.3L1052.1 194.5L1047.0 197.3L1041.9 198.4L1036.9 198.8L1031.8 198.7L1028.4 194.3L1028.1 189.3L1027.9 184.3L1027.1 179.3L1026.8 178.6L1023.9 174.3L1021.7 172.6L1016.6 172.4L1014.2 174.3L1011.6 178.7L1011.3 179.3L1010.4 184.3L1009.9 189.3L1009.8 194.3L1011.6 199.0L1012.2 199.3L1016.6 200.0L1021.7 200.3L1026.8 203.4L1026.9 204.3L1027.4 209.2L1027.7 214.2L1028.0 219.2L1028.1 224.2L1028.1 229.2L1027.9 234.2L1027.4 239.2L1026.8 243.0L1026.5 244.2L1025.6 249.2L1025.5 254.2L1026.8 258.3L1027.1 259.2L1030.8 264.2L1031.8 265.1L1036.1 269.2L1036.9 270.0L1041.5 274.2L1041.9 274.5L1047.0 277.1L1052.1 278.7L1053.9 279.2L1057.1 279.8L1062.2 280.8L1067.3 281.5L1072.3 281.9L1077.4 282.1L1082.4 281.7L1087.5 279.9L1088.6 279.2L1092.6 274.8L1093.1 274.2L1097.6 269.5L1098.4 269.2L1102.7 268.2L1107.7 268.0L1112.8 268.5L1115.6 269.2L1117.9 270.3L1122.9 273.3L1124.2 274.2L1128.0 276.7L1130.7 279.2L1133.1 281.7L1135.1 284.2L1138.1 287.5L1140.5 289.2L1143.2 290.5L1148.2 291.7L1153.3 292.4L1158.4 293.1L1163.4 294.0L1164.0 294.2L1168.5 295.4L1173.5 297.4L1176.8 299.2L1178.6 300.3L1183.7 303.7L1184.2 304.1L1188.7 307.2L1190.9 309.1L1193.8 312.4L1195.1 314.1L1198.9 318.8L1199.2 319.1L1203.9 322.8L1205.5 324.1L1209.0 327.5L1210.4 329.1L1214.0 333.7L1214.4 334.1L1219.1 337.5L1221.3 339.1L1224.2 341.4L1226.8 344.1L1229.2 347.3L1231.1 349.1L1234.3 351.6L1239.4 352.8L1244.4 352.9L1249.5 352.7L1254.5 352.6L1259.6 352.6L1264.7 352.6L1264.7 354.1L1264.7 359.1L1264.7 364.1L1264.7 369.1L1264.7 374.1L1264.7 379.1L1264.7 384.1L1264.7 389.1L1264.7 394.0L1264.7 399.0L1264.7 404.0L1264.7 409.0L1264.7 414.0L1264.7 419.0L1264.7 424.0L1264.7 429.0L1264.7 434.0L1264.7 439.0L1259.6 439.0L1254.5 439.0L1249.5 439.0L1244.4 439.0L1239.4 439.0L1234.3 439.0L1229.2 439.0L1224.2 439.0L1219.1 439.0L1214.0 439.0L1209.0 439.0L1203.9 439.0L1198.9 439.0L1193.8 439.0L1188.7 439.0L1183.7 439.0L1178.6 439.0L1173.5 439.0L1168.5 439.0L1163.4 439.0L1158.4 439.0L1153.3 439.0L1148.2 439.0L1143.2 439.0L1138.1 439.0L1133.1 439.0L1128.0 439.0L1122.9 439.0L1117.9 439.0L1112.8 439.0L1107.7 439.0L1106.3 439.0L1106.3 434.0L1106.5 429.0L1107.7 424.5L1107.9 424.0L1112.8 419.8L1114.2 419.0L1117.9 417.6L1122.9 416.0L1128.0 414.3L1128.6 414.0L1133.1 411.1L1135.2 409.0L1138.1 405.9L1140.2 404.0L1143.2 401.9L1146.1 399.0L1148.2 395.1L1148.6 394.0L1148.8 389.1L1148.2 385.7L1147.9 384.1L1146.1 379.1L1143.2 374.7L1142.4 374.1L1138.1 371.0L1135.8 369.1L1133.1 365.0L1132.6 364.1L1132.2 359.1L1133.1 354.7L1133.2 354.1L1134.1 349.1L1133.9 344.1L1133.1 342.1L1131.3 339.1L1128.0 336.2L1124.9 334.1L1122.9 332.6L1120.1 329.1L1118.5 324.1L1117.9 321.1L1117.5 319.1L1116.1 314.1L1112.8 309.1L1112.8 309.1L1107.7 308.0L1103.2 309.1L1102.7 309.3L1097.6 310.2L1094.0 309.1L1092.6 308.6L1088.7 304.1L1087.5 302.3L1085.6 299.2L1082.4 295.8L1078.8 294.2L1077.4 293.7L1072.3 293.3L1067.3 292.8L1062.2 291.4L1057.1 289.7L1054.8 289.2L1052.1 288.6L1047.0 288.4L1041.9 289.1L1041.6 289.2L1036.9 290.3L1031.8 291.7L1026.8 293.2L1023.8 294.2L1021.7 295.0L1016.6 297.2L1013.7 299.2L1011.6 302.2L1010.6 304.1L1009.6 309.1L1009.3 314.1L1009.6 319.1L1010.3 324.1L1010.9 329.1L1011.0 334.1L1010.5 339.1L1010.1 344.1L1010.9 349.1L1011.6 350.5L1014.0 354.1L1016.6 356.3L1020.2 359.1L1021.7 360.3L1025.2 364.1L1026.8 365.7L1030.2 369.1L1031.8 370.7L1035.7 374.1L1036.9 377.5L1037.4 379.1L1036.9 380.1L1034.4 384.1L1031.8 386.3L1028.7 389.1L1026.8 391.6L1025.0 394.0L1023.6 399.0L1023.1 404.0L1023.1 409.0L1023.6 414.0L1024.5 419.0L1025.3 424.0L1025.6 429.0L1025.7 434.0L1025.7 439.0L1021.7 439.0L1016.6 439.0L1011.6 439.0L1006.5 439.0L1001.4 439.0L996.4 439.0L991.3 439.0L986.3 439.0L981.2 439.0L976.1 439.0L971.1 439.0L966.0 439.0L961.0 439.0L955.9 439.0L950.8 439.0L945.8 439.0L940.7 439.0L935.6 439.0L930.6 439.0L925.5 439.0L920.5 439.0L915.4 439.0L910.3 439.0L905.3 439.0L900.2 439.0L895.2 439.0L890.1 439.0L885.0 439.0L880.0 439.0L874.9 439.0L869.8 439.0L864.8 439.0L859.7 439.0L854.7 439.0L849.6 439.0L844.5 439.0L839.5 439.0L834.4 439.0L829.3 439.0L824.3 439.0L819.2 439.0L814.2 439.0L809.1 439.0L804.0 439.0L799.0 439.0L793.9 439.0L788.9 439.0L783.8 439.0L778.7 439.0L773.7 439.0L768.6 439.0L763.5 439.0L758.5 439.0L753.4 439.0L748.4 439.0L748.3 439.0L748.3 434.0L748.4 432.9L748.4 429.0L749.0 424.0L751.0 419.0L753.4 416.2L756.2 414.0L758.5 412.2L762.1 409.0L763.5 407.2L765.9 404.0L768.6 400.8L770.3 399.0L773.7 395.7L774.8 394.0L777.5 389.1L778.7 386.2L779.5 384.1L780.8 379.1L781.5 374.1L781.8 369.1L781.9 364.1L781.7 359.1L781.1 354.1L780.4 349.1L779.9 344.1L779.7 339.1L779.6 334.1L779.5 329.1L779.2 324.1L778.8 319.1L778.7 318.6L778.4 314.1L778.1 309.1L778.0 304.1L778.3 299.2L778.7 296.4L779.1 294.2L779.9 289.2L779.3 284.2L778.7 283.4L773.7 281.3L768.6 284.2L768.6 284.2L764.8 289.2L763.5 290.3L758.5 293.2L753.4 293.9L748.4 293.8L743.3 293.4L738.2 292.9L733.2 292.3L728.1 290.9L725.3 289.2L723.1 287.7L719.5 284.2L718.0 282.7L713.9 279.2L712.9 278.4L707.9 274.9L706.9 274.2L702.8 270.4L701.5 269.2L697.7 266.4L692.7 265.3L687.6 267.8L686.2 269.2L682.6 272.5L680.5 274.2L677.5 276.3L674.3 279.2L672.4 281.7L671.2 284.2L670.5 289.2L670.8 294.2L671.2 299.2L671.3 304.1L671.3 309.1L671.2 314.1L671.2 319.1L671.2 324.1L670.8 329.1L669.5 334.1L667.4 337.8L666.5 339.1L662.3 343.8L661.9 344.1L657.2 348.7L656.7 349.1L652.2 353.3L651.5 354.1L647.4 359.1L647.1 359.5L645.2 364.1L644.2 369.1L643.3 374.1L642.1 376.9L641.0 379.1L637.0 382.7L635.5 384.1L631.9 386.6L629.2 389.1L626.9 391.3L623.4 394.0L621.8 395.3L616.8 396.1L612.9 394.0L611.7 393.0L609.3 389.1L607.8 384.1L607.0 379.1L606.6 375.5L606.4 374.1L605.6 369.1L604.4 364.1L602.2 359.1L601.6 358.0L598.3 354.1L596.5 351.1L595.3 349.1L593.7 344.1L592.6 339.1L591.4 336.6L589.8 334.1L586.4 331.9L581.3 330.7L576.3 330.1L574.1 329.1L571.2 328.5L566.1 326.5L561.1 324.9L556.0 324.3L551.0 324.8L545.9 325.9L540.8 327.0L535.8 327.5L530.7 327.5L525.6 327.1L520.6 326.2L515.5 325.1L510.5 324.4L505.4 324.2L500.3 324.2L495.3 324.1L495.2 324.1L490.2 324.0L485.1 324.0L483.8 324.1L480.1 324.5L475.0 325.7L470.0 326.9L464.9 327.6L464.9 324.1L464.9 324.0L470.0 323.0L475.0 321.5L480.1 320.1L485.1 319.5L490.2 319.4L495.3 319.5L500.3 319.5L505.4 319.5L510.5 319.6L515.5 319.9L520.6 320.3L525.6 320.7L530.7 320.8L535.8 320.7L540.8 320.4L545.9 319.9L551.0 319.5L556.0 319.3L561.1 319.5L566.1 320.1L571.2 320.7L576.3 321.0L581.3 320.8L586.4 321.6L591.2 324.1L591.4 324.2L596.5 327.8L598.7 329.1L601.6 331.7L604.1 334.1L606.6 338.9L606.7 339.1L608.7 344.1L611.2 349.1L611.7 350.1L613.7 354.1L615.4 359.1L616.3 364.1L616.6 369.1L616.8 371.1L617.7 374.1L621.8 377.3L624.4 374.1L626.5 369.1L626.9 368.1L627.9 364.1L630.9 359.1L631.9 358.1L635.1 354.1L637.0 352.1L639.2 349.1L642.1 345.7L643.5 344.1L647.1 340.7L649.0 339.1L652.2 336.4L654.5 334.1L657.2 329.1L657.2 328.9L657.7 324.1L657.5 319.1L657.2 314.2L657.2 314.1L657.2 309.1L657.2 304.1L657.2 299.2L657.2 296.1L657.3 294.2L657.4 289.2L657.7 284.2L658.1 279.2L658.7 274.2L658.5 269.2L657.2 266.9L655.4 264.2L652.2 262.0L648.0 259.2L647.1 258.6L642.1 254.7L641.3 254.2L637.0 251.5L631.9 249.3L631.8 249.2L626.9 245.5L625.9 244.2L625.0 239.2L626.4 234.2L626.9 232.7L627.8 229.2L627.7 224.2L626.9 222.7L624.8 219.2L621.8 216.9L616.8 215.7L611.7 216.8L606.6 219.0L605.4 219.2L601.6 220.3L598.2 219.2L596.5 218.8L591.4 216.6L586.4 214.5L585.6 214.2L581.3 212.8L576.3 211.2L572.4 209.2L571.2 208.3L567.9 204.3L566.1 202.2L562.2 199.3L561.1 198.6L556.0 197.1L551.0 196.5L545.9 195.8L540.9 194.3L540.8 194.2L535.8 190.1L534.9 189.3L530.7 186.0L526.3 184.3L525.6 184.0L520.6 183.6L515.5 183.6L510.5 183.6L505.4 183.4L500.3 183.1L495.3 182.9L490.2 182.8L485.1 182.7L480.1 182.6L475.0 182.5L470.0 182.2L464.9 182.1L464.9 179.3L470.0 179.5L475.0 179.7L480.1 179.9L485.1 179.9L490.2 179.8L495.3 179.8L500.3 180.0L505.4 180.3L510.5 180.5L515.5 180.4L520.6 180.2L525.6 180.4L530.7 181.8L534.7 184.3L535.8 185.0L540.5 189.3L540.8 189.5L545.9 191.7L551.0 192.4L556.0 192.9L561.1 193.8L562.8 194.3L566.1 195.2L571.2 198.9L571.7 199.3L576.0 204.3L576.3 204.5L581.3 206.1L586.4 207.7L589.2 209.2L591.4 210.0L596.5 212.2L601.6 213.7L606.6 213.1L611.7 211.5L616.8 210.7L621.8 211.6L625.9 214.2L626.9 215.0L631.0 219.2L631.9 221.2L634.1 224.2L635.3 229.2L635.9 234.2L637.0 236.4L642.1 237.5L647.1 236.7L652.2 237.2L656.5 239.2L657.2 239.6L662.3 241.0L666.6 239.2L667.4 238.5L668.9 234.2L669.6 229.2L670.1 224.2L670.6 219.2L670.8 214.2L670.9 209.2L670.5 204.3L669.9 199.3L669.2 194.3L669.1 189.3L669.3 184.3L669.2 179.3L667.4 174.3L667.4 174.2L663.6 169.3L662.3 167.7L660.4 164.3L658.7 159.3L657.7 154.3L657.2 150.7L657.1 149.3L656.9 144.3L657.2 139.5L657.3 139.3L658.0 134.3L658.7 129.3L659.2 124.3L659.5 119.3L659.3 114.4L658.7 109.4L658.1 104.4L657.7 99.4L657.5 94.4L657.4 89.4L657.3 84.4L657.3 79.4L657.3 74.4L657.3 69.4ZM712.8 139.3L707.9 143.2L707.0 144.3L704.8 149.3L703.6 154.3L702.8 159.3L702.8 159.7L702.4 164.3L702.1 169.3L701.6 174.3L700.2 179.3L697.7 183.5L697.0 184.3L692.7 188.1L691.1 189.3L687.6 193.9L687.4 194.3L686.2 199.3L685.8 204.3L686.5 209.2L687.6 211.5L689.5 214.2L692.7 216.9L696.9 219.2L697.7 219.8L702.8 223.4L703.9 224.2L707.9 228.6L708.6 229.2L712.8 234.2L712.9 235.0L713.3 239.2L712.9 239.7L708.6 244.2L707.9 244.8L703.8 249.2L703.4 254.2L707.3 259.2L707.9 259.7L712.9 263.6L713.7 264.2L718.0 267.2L720.5 269.2L723.1 271.2L727.1 274.2L728.1 274.9L733.2 276.9L738.2 277.7L743.3 277.6L748.4 276.0L750.8 274.2L753.4 271.6L755.6 269.2L758.5 266.7L763.5 264.7L767.0 264.2L768.6 264.0L773.7 262.8L778.7 260.2L780.1 259.2L783.8 254.8L784.3 254.2L788.0 249.2L788.9 248.2L791.4 244.2L793.1 239.2L793.6 234.2L793.5 229.2L793.3 224.2L793.3 219.2L793.4 214.2L793.7 209.2L793.9 207.2L794.2 204.3L794.8 199.3L795.2 194.3L795.7 189.3L796.2 184.3L796.2 179.3L793.9 174.7L793.6 174.3L788.9 171.4L783.8 169.5L783.1 169.3L778.7 167.6L773.7 165.6L771.1 164.3L768.6 162.0L766.6 159.3L765.6 154.3L765.2 149.3L763.6 144.3L763.5 144.2L758.5 139.5L757.2 139.3L753.4 138.9L750.3 139.3L748.4 139.6L743.3 140.2L738.2 139.4L737.9 139.3L733.2 137.9L728.1 136.8L723.1 136.7L718.0 137.5L712.9 139.3ZM793.1 139.3L788.9 141.3L784.8 144.3L784.9 149.3L788.9 152.2L793.8 154.3L793.9 154.4L799.0 155.6L804.0 155.4L805.9 154.3L809.1 150.6L809.6 149.3L809.3 144.3L809.1 143.9L805.1 139.3L804.0 138.6L799.0 138.1L793.9 139.1ZM965.6 204.3L962.1 209.2L961.0 211.2L957.9 214.2L955.9 215.8L950.8 216.3L945.8 215.6L940.7 215.6L935.6 216.5L930.6 217.4L925.5 217.6L920.5 217.1L915.4 216.5L910.3 216.1L905.3 216.0L900.2 216.2L895.2 217.0L890.1 219.0L889.6 219.2L885.0 221.4L880.0 224.2L879.9 224.2L874.9 226.1L869.8 228.7L868.9 229.2L864.8 231.4L859.7 234.1L859.4 234.2L854.7 237.4L852.7 239.2L849.6 241.8L846.1 244.2L844.5 245.1L839.5 247.0L834.7 249.2L834.4 249.3L829.3 254.1L829.3 254.2L825.1 259.2L824.3 259.9L819.2 263.4L818.0 264.2L814.2 268.0L813.4 269.2L811.4 274.2L809.9 279.2L809.3 284.2L811.7 289.2L814.2 290.8L819.2 293.2L821.0 294.2L824.3 296.6L826.7 299.2L828.3 304.1L828.3 309.1L828.0 314.1L828.4 319.1L829.1 324.1L829.3 327.2L829.5 329.1L829.3 330.0L828.8 334.1L827.3 339.1L826.4 344.1L828.1 349.1L829.3 350.2L834.4 353.4L835.5 354.1L839.5 357.1L841.1 359.1L842.9 364.1L843.5 369.1L844.1 374.1L844.5 375.3L846.5 379.1L849.6 381.5L854.7 383.8L855.4 384.1L859.7 385.4L864.8 387.0L869.1 389.1L869.8 389.6L874.2 394.0L874.9 394.8L879.2 399.0L880.0 399.7L884.6 404.0L885.0 404.5L888.6 409.0L890.1 410.5L895.2 413.3L897.9 414.0L900.2 414.5L905.3 415.1L910.3 414.7L911.9 414.0L915.4 411.7L917.5 409.0L920.5 405.0L921.3 404.0L925.5 401.0L928.2 399.0L930.6 396.9L932.7 394.0L934.0 389.1L934.2 384.1L934.5 379.1L935.6 375.9L936.6 374.1L940.7 370.8L945.8 369.1L946.1 369.1L950.8 368.1L955.9 367.5L961.0 368.0L965.1 369.1L966.0 369.3L971.1 371.2L975.4 374.1L976.1 375.7L977.8 379.1L976.1 382.0L974.0 384.1L971.1 385.1L967.6 389.1L966.4 394.0L969.1 399.0L971.1 400.8L976.1 400.0L976.9 399.0L979.1 394.0L980.0 389.1L981.2 385.6L982.8 384.1L986.3 382.9L991.3 379.7L991.8 379.1L993.5 374.1L993.6 369.1L993.1 364.1L991.5 359.1L991.3 358.7L987.6 354.1L986.3 352.6L982.8 349.1L981.2 345.3L980.7 344.1L980.7 339.1L981.1 334.1L981.0 329.1L980.5 324.1L979.8 319.1L979.2 314.1L978.7 309.1L978.6 304.1L979.1 299.2L980.6 294.2L981.2 292.1L982.2 289.2L982.7 284.2L981.8 279.2L981.2 276.7L980.7 274.2L980.3 269.2L981.2 265.6L981.7 264.2L985.9 259.2L986.3 258.7L989.9 254.2L986.8 249.2L986.3 248.8L981.4 244.2L981.2 243.4L980.1 239.2L981.2 237.1L982.9 234.2L986.3 231.8L990.0 229.2L991.3 228.2L995.2 224.2L996.4 222.6L998.9 219.2L1001.4 216.1L1003.1 214.2L1006.3 209.2L1006.5 207.5L1007.1 204.3L1006.5 203.1L1001.4 201.3L996.4 201.0L991.3 200.8L986.3 200.5L981.2 200.1L976.1 199.9L971.1 200.7L966.0 203.8Z"/><path fill="#84d44b" stroke="#84d44b" stroke-width="0.6" fill-rule="evenodd" d="M470.0 69.4L475.0 69.4L480.1 69.4L485.1 69.4L490.2 69.4L495.3 69.4L500.3 69.4L505.4 69.4L510.5 69.4L515.5 69.4L520.6 69.4L525.6 69.4L530.7 69.4L535.8 69.4L540.8 69.4L545.9 69.4L551.0 69.4L556.0 69.4L561.1 69.4L566.1 69.4L571.2 69.4L576.3 69.4L581.3 69.4L586.4 69.4L591.4 69.4L596.5 69.4L601.6 69.4L606.6 69.4L611.7 69.4L616.8 69.4L621.8 69.4L626.9 69.4L631.9 69.4L637.0 69.4L642.1 69.4L647.1 69.4L652.2 69.4L657.2 69.4L657.3 69.4L657.3 74.4L657.3 79.4L657.3 84.4L657.4 89.4L657.5 94.4L657.7 99.4L658.1 104.4L658.7 109.4L659.3 114.4L659.5 119.3L659.2 124.3L658.7 129.3L658.0 134.3L657.3 139.3L657.2 139.5L656.9 144.3L657.1 149.3L657.2 150.7L657.7 154.3L658.7 159.3L660.4 164.3L662.3 167.7L663.6 169.3L667.4 174.2L667.4 174.3L669.2 179.3L669.3 184.3L669.1 189.3L669.2 194.3L669.9 199.3L670.5 204.3L670.9 209.2L670.8 214.2L670.6 219.2L670.1 224.2L669.6 229.2L668.9 234.2L667.4 238.5L666.6 239.2L662.3 241.0L657.2 239.6L656.5 239.2L652.2 237.2L647.1 236.7L642.1 237.5L637.0 236.4L635.9 234.2L635.3 229.2L634.1 224.2L631.9 221.2L631.0 219.2L626.9 215.0L625.9 214.2L621.8 211.6L616.8 210.7L611.7 211.5L606.6 213.1L601.6 213.7L596.5 212.2L591.4 210.0L589.2 209.2L586.4 207.7L581.3 206.1L576.3 204.5L576.0 204.3L571.7 199.3L571.2 198.9L566.1 195.2L562.8 194.3L561.1 193.8L556.0 192.9L551.0 192.4L545.9 191.7L540.8 189.5L540.5 189.3L535.8 185.0L534.7 184.3L530.7 181.8L525.6 180.4L520.6 180.2L515.5 180.4L510.5 180.5L505.4 180.3L500.3 180.0L495.3 179.8L490.2 179.8L485.1 179.9L480.1 179.9L475.0 179.7L470.0 179.5L464.9 179.3L464.9 179.3L464.9 174.3L464.9 173.2L466.7 174.3L470.0 174.6L475.0 175.1L480.1 175.4L485.1 175.2L490.2 174.9L495.3 174.7L500.3 174.9L505.4 175.4L510.5 175.8L515.5 175.6L520.6 175.2L525.6 175.0L530.7 175.5L535.8 177.9L537.3 179.3L540.8 181.6L545.3 184.3L545.9 184.5L551.0 185.0L556.0 184.9L561.1 184.8L566.1 184.7L571.2 184.6L576.3 184.5L581.3 184.3L586.4 184.8L591.4 187.6L592.9 189.3L596.1 194.3L596.5 195.3L598.3 199.3L601.6 203.9L603.0 204.3L606.6 204.6L607.9 204.3L611.7 202.6L616.8 201.6L621.8 203.6L622.5 204.3L626.9 207.0L629.2 209.2L631.9 211.3L636.6 214.2L637.0 214.5L642.1 215.1L644.9 214.2L647.1 212.9L650.1 209.2L649.0 204.3L647.1 201.7L645.7 199.3L643.4 194.3L642.6 189.3L642.8 184.3L643.0 179.3L642.1 174.7L642.0 174.3L637.3 169.3L637.0 169.1L631.9 167.6L626.9 167.2L621.8 167.2L616.8 167.6L611.7 168.4L606.6 169.2L606.2 169.3L601.6 169.9L596.5 170.2L591.4 169.9L590.0 169.3L586.4 167.6L583.0 164.3L581.3 162.6L577.4 159.3L576.3 158.7L571.2 156.9L566.1 155.9L561.1 155.2L556.0 155.5L551.0 158.0L549.5 159.3L545.9 163.5L544.2 164.3L540.8 165.5L538.3 164.3L535.8 162.3L533.8 159.3L530.7 155.0L529.6 154.3L525.6 152.5L520.6 152.3L515.5 152.9L510.5 154.0L509.3 154.3L505.4 155.3L500.3 156.3L495.3 156.6L490.2 156.3L485.1 155.6L480.1 155.8L475.0 158.1L473.5 159.3L470.0 162.3L467.0 164.3L464.9 165.9L464.9 164.3L464.9 159.3L464.9 154.3L464.9 149.3L464.9 144.3L464.9 139.3L464.9 134.3L464.9 129.3L464.9 124.3L464.9 119.3L464.9 114.4L464.9 109.4L464.9 104.4L464.9 99.4L464.9 94.4L464.9 89.4L464.9 84.4L464.9 79.4L464.9 74.4L464.9 69.4ZM859.7 69.4L864.8 69.4L869.8 69.4L874.9 69.4L880.0 69.4L885.0 69.4L890.1 69.4L895.2 69.4L900.2 69.4L905.3 69.4L910.3 69.4L915.4 69.4L920.5 69.4L925.5 69.4L930.6 69.4L935.6 69.4L940.7 69.4L945.8 69.4L947.7 69.4L947.7 74.4L947.8 79.4L948.4 84.4L949.9 89.4L950.8 92.1L951.6 94.4L952.7 99.4L952.4 104.4L951.4 109.4L950.8 112.4L950.5 114.4L950.0 119.3L949.9 124.3L950.1 129.3L950.6 134.3L950.8 136.6L951.2 139.3L951.4 144.3L950.9 149.3L950.8 149.4L949.9 154.3L948.7 159.3L946.5 164.3L945.8 165.3L940.7 168.8L938.3 169.3L935.6 169.8L930.6 169.9L925.5 170.0L920.5 170.2L915.4 170.6L910.3 172.2L907.8 174.3L905.3 177.2L903.8 179.3L900.2 183.1L898.9 184.3L895.2 187.1L892.7 189.3L890.1 192.6L889.0 194.3L885.0 199.2L884.9 199.3L880.0 201.6L874.9 201.9L869.8 201.4L864.8 200.0L863.5 199.3L859.7 195.9L858.6 194.3L857.3 189.3L856.9 184.3L856.4 179.3L854.7 175.1L854.2 174.3L849.6 170.0L848.8 169.3L844.5 164.9L844.1 164.3L842.6 159.3L842.3 154.3L842.5 149.3L842.8 144.3L843.0 139.3L843.2 134.3L843.2 129.3L843.0 124.3L843.1 119.3L844.4 114.4L844.5 114.2L849.4 109.4L849.6 109.3L854.7 106.0L856.4 104.4L858.5 99.4L858.5 94.4L857.8 89.4L857.1 84.4L856.8 79.4L856.8 74.4L856.8 69.4ZM886.5 139.3L885.0 143.3L884.7 144.3L885.0 146.8L885.3 149.3L888.7 154.3L890.1 155.3L895.2 156.8L900.2 155.9L902.8 154.3L905.3 151.7L906.9 149.3L907.6 144.3L905.7 139.3L905.3 138.8L900.2 135.6L895.2 135.0L890.1 136.3ZM1214.0 69.4L1219.1 69.4L1224.2 69.4L1229.2 69.4L1234.3 69.4L1239.4 69.4L1244.4 69.4L1249.5 69.4L1254.5 69.4L1259.6 69.4L1264.7 69.4L1264.7 74.4L1264.7 79.4L1264.7 84.4L1264.7 89.4L1264.7 94.4L1264.7 99.4L1264.7 104.4L1264.7 109.4L1264.7 114.4L1264.7 119.3L1264.7 124.3L1264.7 129.3L1264.7 134.3L1264.7 139.3L1264.7 144.3L1264.7 149.3L1264.7 154.3L1264.7 159.3L1264.7 164.3L1264.7 169.3L1264.7 174.3L1264.7 179.3L1264.7 184.3L1264.7 189.3L1264.7 194.3L1264.7 199.3L1264.7 204.3L1264.7 209.2L1264.7 214.2L1264.7 214.8L1259.6 214.8L1254.5 214.7L1252.5 214.2L1249.5 213.5L1244.4 209.3L1244.4 209.2L1239.5 204.3L1239.4 204.2L1234.3 201.6L1229.2 200.5L1224.2 199.7L1223.1 199.3L1219.1 197.4L1216.1 194.3L1214.0 191.7L1212.6 189.3L1210.2 184.3L1209.0 179.3L1210.6 174.3L1214.0 171.1L1216.8 169.3L1219.1 167.7L1223.8 164.3L1224.2 163.0L1225.2 159.3L1224.2 156.9L1222.3 154.3L1219.1 152.5L1214.0 151.5L1209.0 151.0L1203.9 150.2L1201.4 149.3L1198.9 147.9L1195.6 144.3L1194.4 139.3L1194.1 134.3L1194.1 129.3L1194.3 124.3L1195.0 119.3L1197.7 114.4L1198.9 113.3L1203.8 109.4L1203.9 109.3L1208.3 104.4L1209.0 102.7L1210.0 99.4L1210.3 94.4L1210.0 89.4L1209.6 84.4L1209.5 79.4L1209.4 74.4L1209.4 69.4ZM687.6 267.8L692.7 265.3L697.7 266.4L701.5 269.2L702.8 270.4L706.9 274.2L707.9 274.9L712.9 278.4L713.9 279.2L718.0 282.7L719.5 284.2L723.1 287.7L725.3 289.2L728.1 290.9L733.2 292.3L738.2 292.9L743.3 293.4L748.4 293.8L753.4 293.9L758.5 293.2L763.5 290.3L764.8 289.2L768.6 284.2L768.6 284.2L773.7 281.3L778.7 283.4L779.3 284.2L779.9 289.2L779.1 294.2L778.7 296.4L778.3 299.2L778.0 304.1L778.1 309.1L778.4 314.1L778.7 318.6L778.8 319.1L779.2 324.1L779.5 329.1L779.6 334.1L779.7 339.1L779.9 344.1L780.4 349.1L781.1 354.1L781.7 359.1L781.9 364.1L781.8 369.1L781.5 374.1L780.8 379.1L779.5 384.1L778.7 386.2L777.5 389.1L774.8 394.0L773.7 395.7L770.3 399.0L768.6 400.8L765.9 404.0L763.5 407.2L762.1 409.0L758.5 412.2L756.2 414.0L753.4 416.2L751.0 419.0L749.0 424.0L748.4 429.0L748.4 432.9L748.3 434.0L748.3 439.0L743.3 439.0L738.2 439.0L733.2 439.0L728.1 439.0L723.1 439.0L718.0 439.0L712.9 439.0L707.9 439.0L702.8 439.0L697.7 439.0L692.7 439.0L687.6 439.0L682.6 439.0L677.5 439.0L672.4 439.0L667.4 439.0L662.3 439.0L657.2 439.0L652.2 439.0L647.1 439.0L642.1 439.0L637.0 439.0L631.9 439.0L626.9 439.0L621.8 439.0L616.8 439.0L611.7 439.0L606.6 439.0L601.6 439.0L596.5 439.0L591.4 439.0L586.4 439.0L581.3 439.0L576.3 439.0L571.2 439.0L566.1 439.0L561.1 439.0L556.0 439.0L551.0 439.0L545.9 439.0L540.8 439.0L535.8 439.0L530.7 439.0L525.6 439.0L520.6 439.0L515.5 439.0L510.5 439.0L505.4 439.0L500.3 439.0L495.3 439.0L490.2 439.0L485.1 439.0L480.1 439.0L475.0 439.0L470.0 439.0L464.9 439.0L464.9 434.0L464.9 429.0L464.9 424.0L464.9 419.0L464.9 414.0L464.9 409.0L464.9 404.0L464.9 399.0L464.9 394.0L464.9 389.1L464.9 384.1L464.9 379.1L464.9 374.1L464.9 369.1L464.9 364.1L464.9 359.1L464.9 355.9L470.0 354.3L470.5 354.1L475.0 352.7L480.1 351.9L485.1 352.1L490.2 352.8L495.3 353.4L500.3 353.3L505.4 352.7L510.5 352.4L515.5 352.7L520.6 353.4L525.6 352.4L528.5 349.1L529.1 344.1L525.9 339.1L525.6 339.0L520.6 335.9L518.5 334.1L515.5 332.9L510.5 331.4L505.4 330.7L500.3 330.6L495.3 330.5L490.2 330.2L485.1 330.0L480.1 330.2L475.0 331.3L470.0 332.2L464.9 332.8L464.9 329.1L464.9 327.6L470.0 326.9L475.0 325.7L480.1 324.5L483.8 324.1L485.1 324.0L490.2 324.0L495.2 324.1L495.3 324.1L500.3 324.2L505.4 324.2L510.5 324.4L515.5 325.1L520.6 326.2L525.6 327.1L530.7 327.5L535.8 327.5L540.8 327.0L545.9 325.9L551.0 324.8L556.0 324.3L561.1 324.9L566.1 326.5L571.2 328.5L574.1 329.1L576.3 330.1L581.3 330.7L586.4 331.9L589.8 334.1L591.4 336.6L592.6 339.1L593.7 344.1L595.3 349.1L596.5 351.1L598.3 354.1L601.6 358.0L602.2 359.1L604.4 364.1L605.6 369.1L606.4 374.1L606.6 375.5L607.0 379.1L607.8 384.1L609.3 389.1L611.7 393.0L612.9 394.0L616.8 396.1L621.8 395.3L623.4 394.0L626.9 391.3L629.2 389.1L631.9 386.6L635.5 384.1L637.0 382.7L641.0 379.1L642.1 376.9L643.3 374.1L644.2 369.1L645.2 364.1L647.1 359.5L647.4 359.1L651.5 354.1L652.2 353.3L656.7 349.1L657.2 348.7L661.9 344.1L662.3 343.8L666.5 339.1L667.4 337.8L669.5 334.1L670.8 329.1L671.2 324.1L671.2 319.1L671.2 314.1L671.3 309.1L671.3 304.1L671.2 299.2L670.8 294.2L670.5 289.2L671.2 284.2L672.4 281.7L674.3 279.2L677.5 276.3L680.5 274.2L682.6 272.5L686.2 269.2ZM707.4 299.2L706.6 304.1L706.5 309.1L706.1 314.1L704.0 319.1L702.8 320.4L697.9 324.1L697.7 324.2L692.7 326.7L689.3 329.1L687.6 331.8L686.7 334.1L685.9 339.1L685.9 344.1L686.7 349.1L687.6 352.4L688.1 354.1L689.6 359.1L691.8 364.1L692.7 365.3L697.7 368.9L698.3 369.1L702.8 370.1L707.9 370.2L711.8 369.1L712.9 368.7L718.0 364.8L718.6 364.1L722.5 359.1L723.1 358.4L727.0 354.1L728.1 352.5L730.1 349.1L731.4 344.1L731.9 339.1L731.6 334.1L729.5 329.1L728.1 327.8L723.1 324.1L723.0 324.1L718.5 319.1L718.0 317.6L716.7 314.1L716.9 309.1L717.3 304.1L715.0 299.2L712.9 297.1L707.9 298.3ZM550.8 334.1L551.0 334.4L554.1 339.1L556.0 340.2L558.4 339.1L561.1 334.4L561.1 334.1L561.1 334.1L556.0 332.1L551.0 334.0ZM1041.9 289.1L1047.0 288.4L1052.1 288.6L1054.8 289.2L1057.1 289.7L1062.2 291.4L1067.3 292.8L1072.3 293.3L1077.4 293.7L1078.8 294.2L1082.4 295.8L1085.6 299.2L1087.5 302.3L1088.7 304.1L1092.6 308.6L1094.0 309.1L1097.6 310.2L1102.7 309.3L1103.2 309.1L1107.7 308.0L1112.8 309.1L1112.8 309.1L1116.1 314.1L1117.5 319.1L1117.9 321.1L1118.5 324.1L1120.1 329.1L1122.9 332.6L1124.9 334.1L1128.0 336.2L1131.3 339.1L1133.1 342.1L1133.9 344.1L1134.1 349.1L1133.2 354.1L1133.1 354.7L1132.2 359.1L1132.6 364.1L1133.1 365.0L1135.8 369.1L1138.1 371.0L1142.4 374.1L1143.2 374.7L1146.1 379.1L1147.9 384.1L1148.2 385.7L1148.8 389.1L1148.6 394.0L1148.2 395.1L1146.1 399.0L1143.2 401.9L1140.2 404.0L1138.1 405.9L1135.2 409.0L1133.1 411.1L1128.6 414.0L1128.0 414.3L1122.9 416.0L1117.9 417.6L1114.2 419.0L1112.8 419.8L1107.9 424.0L1107.7 424.5L1106.5 429.0L1106.3 434.0L1106.3 439.0L1102.7 439.0L1097.6 439.0L1092.6 439.0L1087.5 439.0L1082.4 439.0L1077.4 439.0L1072.3 439.0L1067.3 439.0L1062.2 439.0L1057.1 439.0L1052.1 439.0L1047.0 439.0L1041.9 439.0L1036.9 439.0L1031.8 439.0L1026.8 439.0L1025.7 439.0L1025.7 434.0L1025.6 429.0L1025.3 424.0L1024.5 419.0L1023.6 414.0L1023.1 409.0L1023.1 404.0L1023.6 399.0L1025.0 394.0L1026.8 391.6L1028.7 389.1L1031.8 386.3L1034.4 384.1L1036.9 380.1L1037.4 379.1L1036.9 377.5L1035.7 374.1L1031.8 370.7L1030.2 369.1L1026.8 365.7L1025.2 364.1L1021.7 360.3L1020.2 359.1L1016.6 356.3L1014.0 354.1L1011.6 350.5L1010.9 349.1L1010.1 344.1L1010.5 339.1L1011.0 334.1L1010.9 329.1L1010.3 324.1L1009.6 319.1L1009.3 314.1L1009.6 309.1L1010.6 304.1L1011.6 302.2L1013.7 299.2L1016.6 297.2L1021.7 295.0L1023.8 294.2L1026.8 293.2L1031.8 291.7L1036.9 290.3L1041.6 289.2ZM1044.1 299.2L1041.9 301.4L1040.2 304.1L1040.6 309.1L1041.5 314.1L1041.4 319.1L1040.6 324.1L1040.3 329.1L1041.9 333.7L1042.1 334.1L1047.0 337.7L1050.8 339.1L1052.1 339.6L1057.1 342.1L1059.4 344.1L1062.2 347.9L1063.3 349.1L1067.3 352.0L1072.3 352.9L1077.4 352.3L1082.4 349.3L1082.6 349.1L1085.5 344.1L1087.5 339.5L1087.6 339.1L1088.9 334.1L1088.0 329.1L1087.5 328.5L1083.4 324.1L1082.4 323.4L1077.4 320.1L1076.0 319.1L1072.3 315.2L1071.4 314.1L1067.3 310.7L1065.1 309.1L1062.2 307.3L1059.0 304.1L1057.1 302.5L1053.3 299.2L1052.1 298.5L1047.0 298.1Z"/><path fill="#d8e219" stroke="#d8e219" stroke-width="0.6" fill-rule="evenodd" d="M890.1 136.3L895.2 135.0L900.2 135.6L905.3 138.8L905.7 139.3L907.6 144.3L906.9 149.3L905.3 151.7L902.8 154.3L900.2 155.9L895.2 156.8L890.1 155.3L888.7 154.3L885.3 149.3L885.0 146.8L884.7 144.3L885.0 143.3L886.5 139.3ZM510.5 154.0L515.5 152.9L520.6 152.3L525.6 152.5L529.6 154.3L530.7 155.0L533.8 159.3L535.8 162.3L538.3 164.3L540.8 165.5L544.2 164.3L545.9 163.5L549.5 159.3L551.0 158.0L556.0 155.5L561.1 155.2L566.1 155.9L571.2 156.9L576.3 158.7L577.4 159.3L581.3 162.6L583.0 164.3L586.4 167.6L590.0 169.3L591.4 169.9L596.5 170.2L601.6 169.9L606.2 169.3L606.6 169.2L611.7 168.4L616.8 167.6L621.8 167.2L626.9 167.2L631.9 167.6L637.0 169.1L637.3 169.3L642.0 174.3L642.1 174.7L643.0 179.3L642.8 184.3L642.6 189.3L643.4 194.3L645.7 199.3L647.1 201.7L649.0 204.3L650.1 209.2L647.1 212.9L644.9 214.2L642.1 215.1L637.0 214.5L636.6 214.2L631.9 211.3L629.2 209.2L626.9 207.0L622.5 204.3L621.8 203.6L616.8 201.6L611.7 202.6L607.9 204.3L606.6 204.6L603.0 204.3L601.6 203.9L598.3 199.3L596.5 195.3L596.1 194.3L592.9 189.3L591.4 187.6L586.4 184.8L581.3 184.3L576.3 184.5L571.2 184.6L566.1 184.7L561.1 184.8L556.0 184.9L551.0 185.0L545.9 184.5L545.3 184.3L540.8 181.6L537.3 179.3L535.8 177.9L530.7 175.5L525.6 175.0L520.6 175.2L515.5 175.6L510.5 175.8L505.4 175.4L500.3 174.9L495.3 174.7L490.2 174.9L485.1 175.2L480.1 175.4L475.0 175.1L470.0 174.6L466.7 174.3L464.9 173.2L464.9 169.3L464.9 165.9L467.0 164.3L470.0 162.3L473.5 159.3L475.0 158.1L480.1 155.8L485.1 155.6L490.2 156.3L495.3 156.6L500.3 156.3L505.4 155.3L509.3 154.3ZM707.9 298.3L712.9 297.1L715.0 299.2L717.3 304.1L716.9 309.1L716.7 314.1L718.0 317.6L718.5 319.1L723.0 324.1L723.1 324.1L728.1 327.8L729.5 329.1L731.6 334.1L731.9 339.1L731.4 344.1L730.1 349.1L728.1 352.5L727.0 354.1L723.1 358.4L722.5 359.1L718.6 364.1L718.0 364.8L712.9 368.7L711.8 369.1L707.9 370.2L702.8 370.1L698.3 369.1L697.7 368.9L692.7 365.3L691.8 364.1L689.6 359.1L688.1 354.1L687.6 352.4L686.7 349.1L685.9 344.1L685.9 339.1L686.7 334.1L687.6 331.8L689.3 329.1L692.7 326.7L697.7 324.2L697.9 324.1L702.8 320.4L704.0 319.1L706.1 314.1L706.5 309.1L706.6 304.1L707.4 299.2ZM1047.0 298.1L1052.1 298.5L1053.3 299.2L1057.1 302.5L1059.0 304.1L1062.2 307.3L1065.1 309.1L1067.3 310.7L1071.4 314.1L1072.3 315.2L1076.0 319.1L1077.4 320.1L1082.4 323.4L1083.4 324.1L1087.5 328.5L1088.0 329.1L1088.9 334.1L1087.6 339.1L1087.5 339.5L1085.5 344.1L1082.6 349.1L1082.4 349.3L1077.4 352.3L1072.3 352.9L1067.3 352.0L1063.3 349.1L1062.2 347.9L1059.4 344.1L1057.1 342.1L1052.1 339.6L1050.8 339.1L1047.0 337.7L1042.1 334.1L1041.9 333.7L1040.3 329.1L1040.6 324.1L1041.4 319.1L1041.5 314.1L1040.6 309.1L1040.2 304.1L1041.9 301.4L1044.1 299.2ZM470.0 332.2L475.0 331.3L480.1 330.2L485.1 330.0L490.2 330.2L495.3 330.5L500.3 330.6L505.4 330.7L510.5 331.4L515.5 332.9L518.5 334.1L520.6 335.9L525.6 339.0L525.9 339.1L529.1 344.1L528.5 349.1L525.6 352.4L520.6 353.4L515.5 352.7L510.5 352.4L505.4 352.7L500.3 353.3L495.3 353.4L490.2 352.8L485.1 352.1L480.1 351.9L475.0 352.7L470.5 354.1L470.0 354.3L464.9 355.9L464.9 354.1L464.9 349.1L464.9 344.1L464.9 339.1L464.9 334.1L464.9 332.8ZM551.0 334.0L556.0 332.1L561.1 334.1L561.1 334.1L561.1 334.4L558.4 339.1L556.0 340.2L554.1 339.1L551.0 334.4L550.8 334.1Z"/>
<path fill="#000" d="M464.9 70.5L467.7 70.5L466.6 72.7L477.6 69.4L466.6 66.1L467.7 68.3L464.9 68.3ZM480.3 70.5L483.1 70.5L482.0 72.7L493.0 69.4L482.0 66.1L483.1 68.3L480.3 68.3ZM495.7 70.5L498.5 70.5L497.4 72.7L508.4 69.4L497.4 66.1L498.5 68.3L495.7 68.3ZM511.0 70.5L513.9 70.5L512.8 72.7L523.8 69.4L512.8 66.1L513.9 68.3L511.0 68.3ZM526.4 70.5L529.3 70.5L528.2 72.7L539.2 69.4L528.2 66.1L529.3 68.3L526.4 68.3ZM541.8 70.5L544.6 70.5L543.5 72.7L554.5 69.4L543.5 66.1L544.6 68.3L541.8 68.3ZM557.2 70.5L560.0 70.5L558.9 72.7L569.9 69.4L558.9 66.1L560.0 68.3L557.2 68.3ZM572.6 70.5L575.4 70.5L574.3 72.7L585.3 69.4L574.3 66.1L575.4 68.3L572.6 68.3ZM587.9 70.5L590.8 70.5L589.7 72.7L600.7 69.4L589.7 66.1L590.8 68.3L587.9 68.3ZM603.3 70.5L606.2 70.5L605.1 72.7L616.1 69.4L605.1 66.1L606.2 68.3L603.3 68.3ZM618.7 70.5L621.5 70.5L620.4 72.7L631.4 69.4L620.4 66.1L621.5 68.3L618.7 68.3ZM634.1 70.5L636.9 70.5L635.8 72.7L646.8 69.4L635.8 66.1L636.9 68.3L634.1 68.3ZM649.5 70.5L652.3 70.5L651.2 72.7L662.2 69.4L651.2 66.1L652.3 68.3L649.5 68.3ZM664.7 70.5L665.8 70.6L664.6 72.6L675.6 70.3L665.1 66.2L666.0 68.4L664.9 68.3ZM680.1 70.5L681.2 70.6L679.9 72.6L691.0 70.3L680.5 66.2L681.4 68.4L680.3 68.3ZM695.5 70.5L696.6 70.6L695.3 72.6L706.3 70.3L695.9 66.2L696.8 68.4L695.7 68.3ZM710.9 70.5L712.0 70.6L710.7 72.6L721.7 70.3L711.3 66.2L712.1 68.4L711.1 68.3ZM726.3 70.5L727.3 70.6L726.1 72.6L737.1 70.3L726.6 66.2L727.5 68.4L726.5 68.3ZM741.6 70.5L742.7 70.6L741.5 72.6L752.5 70.3L742.0 66.2L742.9 68.4L741.8 68.3ZM757.0 70.5L758.1 70.6L756.8 72.6L767.9 70.3L757.4 66.2L758.3 68.4L757.2 68.3ZM772.4 70.5L773.5 70.6L772.2 72.6L783.2 70.3L772.8 66.2L773.7 68.4L772.6 68.3ZM787.8 70.5L788.9 70.6L787.6 72.6L798.6 70.3L788.2 66.2L789.0 68.4L788.0 68.3ZM803.2 70.5L804.2 70.6L803.0 72.6L814.0 70.3L803.5 66.2L804.4 68.4L803.4 68.3ZM818.5 70.5L819.6 70.6L818.4 72.6L829.4 70.3L818.9 66.2L819.8 68.4L818.7 68.3ZM833.9 70.5L835.0 70.6L833.7 72.6L844.8 70.3L834.3 66.2L835.2 68.4L834.1 68.3ZM849.3 70.5L850.4 70.6L849.1 72.6L860.1 70.3L849.7 66.2L850.6 68.4L849.5 68.3ZM864.8 70.5L867.6 70.5L866.5 72.7L877.5 69.4L866.5 66.1L867.6 68.3L864.8 68.3ZM880.2 70.5L883.0 70.5L881.9 72.7L892.9 69.4L881.9 66.1L883.0 68.3L880.2 68.3ZM895.5 70.5L898.4 70.5L897.3 72.7L908.3 69.4L897.3 66.1L898.4 68.3L895.5 68.3ZM910.9 70.5L913.8 70.5L912.7 72.7L923.7 69.4L912.7 66.1L913.8 68.3L910.9 68.3ZM926.3 70.5L929.1 70.5L928.0 72.7L939.0 69.4L928.0 66.1L929.1 68.3L926.3 68.3ZM941.7 70.5L944.5 70.5L943.4 72.7L954.4 69.4L943.4 66.1L944.5 68.3L941.7 68.3ZM957.1 70.5L958.1 70.5L957.1 72.6L967.8 69.4L957.1 66.2L958.1 68.3L957.1 68.3ZM972.4 70.5L973.5 70.5L972.4 72.6L983.2 69.4L972.4 66.2L973.5 68.3L972.4 68.3ZM987.8 70.5L988.9 70.5L987.8 72.6L998.6 69.4L987.8 66.2L988.9 68.3L987.8 68.3ZM1003.2 70.5L1004.3 70.5L1003.2 72.6L1014.0 69.4L1003.2 66.2L1004.3 68.3L1003.2 68.3ZM1018.6 70.5L1019.7 70.5L1018.6 72.6L1029.4 69.4L1018.6 66.2L1019.7 68.3L1018.6 68.3ZM1034.0 70.5L1035.0 70.5L1034.0 72.6L1044.7 69.4L1034.0 66.2L1035.0 68.3L1034.0 68.3ZM1049.3 70.5L1050.4 70.5L1049.3 72.6L1060.1 69.4L1049.3 66.2L1050.4 68.3L1049.3 68.3ZM1064.7 70.5L1065.8 70.5L1064.7 72.6L1075.5 69.4L1064.7 66.2L1065.8 68.3L1064.7 68.3ZM1080.1 70.5L1081.2 70.5L1080.1 72.6L1090.9 69.4L1080.1 66.2L1081.2 68.3L1080.1 68.3ZM1095.5 70.5L1096.6 70.5L1095.5 72.6L1106.3 69.4L1095.5 66.2L1096.6 68.3L1095.5 68.3ZM1110.9 70.5L1111.9 70.5L1110.9 72.6L1121.6 69.4L1110.9 66.2L1111.9 68.3L1110.9 68.3ZM1126.2 70.5L1127.3 70.5L1126.2 72.6L1137.0 69.4L1126.2 66.2L1127.3 68.3L1126.2 68.3ZM1141.6 70.5L1142.7 70.5L1141.6 72.6L1152.4 69.4L1141.6 66.2L1142.7 68.3L1141.6 68.3ZM1157.0 70.5L1158.1 70.5L1157.0 72.6L1167.8 69.4L1157.0 66.2L1158.1 68.3L1157.0 68.3ZM1172.4 70.5L1173.5 70.5L1172.4 72.6L1183.2 69.4L1172.4 66.2L1173.5 68.3L1172.4 68.3ZM1187.8 70.5L1188.8 70.5L1187.8 72.6L1198.5 69.4L1187.8 66.2L1188.8 68.3L1187.8 68.3ZM1203.1 70.5L1204.2 70.5L1203.1 72.6L1213.9 69.4L1203.1 66.2L1204.2 68.3L1203.1 68.3ZM1218.5 70.5L1221.4 70.5L1220.3 72.7L1231.3 69.4L1220.3 66.1L1221.4 68.3L1218.5 68.3ZM1233.9 70.5L1236.7 70.5L1235.6 72.7L1246.6 69.4L1235.6 66.1L1236.7 68.3L1233.9 68.3ZM1249.3 70.5L1252.1 70.5L1251.0 72.7L1262.0 69.4L1251.0 66.1L1252.1 68.3L1249.3 68.3ZM1264.7 70.5L1267.5 70.5L1266.4 72.7L1277.4 69.4L1266.4 66.1L1267.5 68.3L1264.7 68.3ZM464.9 85.9L467.7 85.9L466.6 88.1L477.6 84.8L466.6 81.5L467.7 83.7L464.9 83.7ZM480.3 85.9L483.1 85.9L482.0 88.1L493.0 84.8L482.0 81.5L483.1 83.7L480.3 83.7ZM495.7 85.9L498.5 85.9L497.4 88.1L508.4 84.8L497.4 81.5L498.5 83.7L495.7 83.7ZM511.0 85.9L513.9 85.9L512.8 88.1L523.8 84.8L512.8 81.5L513.9 83.7L511.0 83.7ZM526.4 85.9L529.3 85.9L528.2 88.1L539.2 84.8L528.2 81.5L529.3 83.7L526.4 83.7ZM541.8 85.9L544.6 85.9L543.5 88.1L554.5 84.8L543.5 81.5L544.6 83.7L541.8 83.7ZM557.2 85.9L560.0 85.9L558.9 88.1L569.9 84.8L558.9 81.5L560.0 83.7L557.2 83.7ZM572.6 85.9L575.4 85.9L574.3 88.1L585.3 84.8L574.3 81.5L575.4 83.7L572.6 83.7ZM587.9 85.9L590.8 85.9L589.7 88.1L600.7 84.8L589.7 81.5L590.8 83.7L587.9 83.7ZM603.3 85.9L606.2 85.9L605.1 88.1L616.1 84.8L605.1 81.5L606.2 83.7L603.3 83.7ZM618.7 85.9L621.5 85.9L620.4 88.1L631.4 84.8L620.4 81.5L621.5 83.7L618.7 83.7ZM634.1 85.9L636.9 85.9L635.8 88.1L646.8 84.8L635.8 81.5L636.9 83.7L634.1 83.7ZM649.5 85.9L652.3 85.9L651.2 88.1L662.2 84.8L651.2 81.5L652.3 83.7L649.5 83.7ZM664.7 85.9L665.8 86.0L664.6 88.0L675.6 85.7L665.1 81.6L666.0 83.8L664.9 83.7ZM680.1 85.9L681.2 86.0L679.9 88.0L691.0 85.7L680.5 81.6L681.4 83.8L680.3 83.7ZM695.5 85.9L696.6 86.0L695.3 88.0L706.3 85.7L695.9 81.6L696.8 83.8L695.7 83.7ZM710.9 85.9L712.0 86.0L710.7 88.0L721.7 85.7L711.3 81.6L712.1 83.8L711.1 83.7ZM726.3 85.9L727.3 86.0L726.1 88.0L737.1 85.7L726.6 81.6L727.5 83.8L726.5 83.7ZM741.6 85.9L742.7 86.0L741.5 88.0L752.5 85.7L742.0 81.6L742.9 83.8L741.8 83.7ZM757.0 85.9L758.1 86.0L756.8 88.0L767.9 85.7L757.4 81.6L758.3 83.8L757.2 83.7ZM772.4 85.9L773.5 86.0L772.2 88.0L783.2 85.7L772.8 81.6L773.7 83.8L772.6 83.7ZM787.8 85.9L788.9 86.0L787.6 88.0L798.6 85.7L788.2 81.6L789.0 83.8L788.0 83.7ZM803.2 85.9L804.2 86.0L803.0 88.0L814.0 85.7L803.5 81.6L804.4 83.8L803.4 83.7ZM818.5 85.9L819.6 86.0L818.4 88.0L829.4 85.7L818.9 81.6L819.8 83.8L818.7 83.7ZM833.9 85.9L835.0 86.0L833.7 88.0L844.8 85.7L834.3 81.6L835.2 83.8L834.1 83.7ZM849.3 85.9L850.4 86.0L849.1 88.0L860.1 85.7L849.7 81.6L850.6 83.8L849.5 83.7ZM864.8 85.9L867.6 85.9L866.5 88.1L877.5 84.8L866.5 81.5L867.6 83.7L864.8 83.7ZM880.2 85.9L883.0 85.9L881.9 88.1L892.9 84.8L881.9 81.5L883.0 83.7L880.2 83.7ZM895.5 85.9L898.4 85.9L897.3 88.1L908.3 84.8L897.3 81.5L898.4 83.7L895.5 83.7ZM910.9 85.9L913.8 85.9L912.7 88.1L923.7 84.8L912.7 81.5L913.8 83.7L910.9 83.7ZM926.3 85.9L929.1 85.9L928.0 88.1L939.0 84.8L928.0 81.5L929.1 83.7L926.3 83.7ZM941.7 85.9L944.5 85.9L943.4 88.1L954.4 84.8L943.4 81.5L944.5 83.7L941.7 83.7ZM957.1 85.9L958.1 85.9L957.1 88.0L967.8 84.8L957.1 81.6L958.1 83.7L957.1 83.7ZM972.4 85.9L973.5 85.9L972.4 88.0L983.2 84.8L972.4 81.6L973.5 83.7L972.4 83.7ZM987.8 85.9L988.9 85.9L987.8 88.0L998.6 84.8L987.8 81.6L988.9 83.7L987.8 83.7ZM1003.2 85.9L1004.3 85.9L1003.2 88.0L1014.0 84.8L1003.2 81.6L1004.3 83.7L1003.2 83.7ZM1018.6 85.9L1019.7 85.9L1018.6 88.0L1029.4 84.8L1018.6 81.6L1019.7 83.7L1018.6 83.7ZM1034.0 85.9L1035.0 85.9L1034.0 88.0L1044.7 84.8L1034.0 81.6L1035.0 83.7L1034.0 83.7ZM1049.3 85.9L1050.4 85.9L1049.3 88.0L1060.1 84.8L1049.3 81.6L1050.4 83.7L1049.3 83.7ZM1064.7 85.9L1065.8 85.9L1064.7 88.0L1075.5 84.8L1064.7 81.6L1065.8 83.7L1064.7 83.7ZM1080.1 85.9L1081.2 85.9L1080.1 88.0L1090.9 84.8L1080.1 81.6L1081.2 83.7L1080.1 83.7ZM1095.5 85.9L1096.6 85.9L1095.5 88.0L1106.3 84.8L1095.5 81.6L1096.6 83.7L1095.5 83.7ZM1110.9 85.9L1111.9 85.9L1110.9 88.0L1121.6 84.8L1110.9 81.6L1111.9 83.7L1110.9 83.7ZM1126.2 85.9L1127.3 85.9L1126.2 88.0L1137.0 84.8L1126.2 81.6L1127.3 83.7L1126.2 83.7ZM1141.6 85.9L1142.7 85.9L1141.6 88.0L1152.4 84.8L1141.6 81.6L1142.7 83.7L1141.6 83.7ZM1157.0 85.9L1158.1 85.9L1157.0 88.0L1167.8 84.8L1157.0 81.6L1158.1 83.7L1157.0 83.7ZM1172.4 85.9L1173.5 85.9L1172.4 88.0L1183.2 84.8L1172.4 81.6L1173.5 83.7L1172.4 83.7ZM1187.8 85.9L1188.8 85.9L1187.8 88.0L1198.5 84.8L1187.8 81.6L1188.8 83.7L1187.8 83.7ZM1203.1 85.9L1204.2 85.9L1203.1 88.0L1213.9 84.8L1203.1 81.6L1204.2 83.7L1203.1 83.7ZM1218.5 85.9L1221.4 85.9L1220.3 88.1L1231.3 84.8L1220.3 81.5L1221.4 83.7L1218.5 83.7ZM1233.9 85.9L1236.7 85.9L1235.6 88.1L1246.6 84.8L1235.6 81.5L1236.7 83.7L1233.9 83.7ZM1249.3 85.9L1252.1 85.9L1251.0 88.1L1262.0 84.8L1251.0 81.5L1252.1 83.7L1249.3 83.7ZM1264.7 85.9L1267.5 85.9L1266.4 88.1L1277.4 84.8L1266.4 81.5L1267.5 83.7L1264.7 83.7ZM464.9 101.3L467.7 101.3L466.6 103.5L477.6 100.2L466.6 96.9L467.7 99.1L464.9 99.1ZM480.3 101.3L483.1 101.3L482.0 103.5L493.0 100.2L482.0 96.9L483.1 99.1L480.3 99.1ZM495.7 101.3L498.5 101.3L497.4 103.5L508.4 100.2L497.4 96.9L498.5 99.1L495.7 99.1ZM511.0 101.3L513.9 101.3L512.8 103.5L523.8 100.2L512.8 96.9L513.9 99.1L511.0 99.1ZM526.4 101.3L529.3 101.3L528.2 103.5L539.2 100.2L528.2 96.9L529.3 99.1L526.4 99.1ZM541.8 101.3L544.6 101.3L543.5 103.5L554.5 100.2L543.5 96.9L544.6 99.1L541.8 99.1ZM557.2 101.3L560.0 101.3L558.9 103.5L569.9 100.2L558.9 96.9L560.0 99.1L557.2 99.1ZM572.6 101.3L575.4 101.3L574.3 103.5L585.3 100.2L574.3 96.9L575.4 99.1L572.6 99.1ZM587.9 101.3L590.8 101.3L589.7 103.5L600.7 100.2L589.7 96.9L590.8 99.1L587.9 99.1ZM603.3 101.3L606.2 101.3L605.1 103.5L616.1 100.2L605.1 96.9L606.2 99.1L603.3 99.1ZM618.7 101.3L621.5 101.3L620.4 103.5L631.4 100.2L620.4 96.9L621.5 99.1L618.7 99.1ZM634.1 101.3L636.9 101.3L635.8 103.5L646.8 100.2L635.8 96.9L636.9 99.1L634.1 99.1ZM649.5 101.3L652.3 101.3L651.2 103.5L662.2 100.2L651.2 96.9L652.3 99.1L649.5 99.1ZM664.7 101.3L665.8 101.4L664.6 103.4L675.6 101.1L665.1 97.0L666.0 99.2L664.9 99.1ZM680.1 101.3L681.2 101.4L679.9 103.4L691.0 101.1L680.5 97.0L681.4 99.2L680.3 99.1ZM695.5 101.3L696.6 101.4L695.3 103.4L706.3 101.1L695.9 97.0L696.8 99.2L695.7 99.1ZM710.9 101.3L712.0 101.4L710.7 103.4L721.7 101.1L711.3 97.0L712.1 99.2L711.1 99.1ZM726.3 101.3L727.3 101.4L726.1 103.4L737.1 101.1L726.6 97.0L727.5 99.2L726.5 99.1ZM741.6 101.3L742.7 101.4L741.5 103.4L752.5 101.1L742.0 97.0L742.9 99.2L741.8 99.1ZM757.0 101.3L758.1 101.4L756.8 103.4L767.9 101.1L757.4 97.0L758.3 99.2L757.2 99.1ZM772.4 101.3L773.5 101.4L772.2 103.4L783.2 101.1L772.8 97.0L773.7 99.2L772.6 99.1ZM787.8 101.3L788.9 101.4L787.6 103.4L798.6 101.1L788.2 97.0L789.0 99.2L788.0 99.1ZM803.2 101.3L804.2 101.4L803.0 103.4L814.0 101.1L803.5 97.0L804.4 99.2L803.4 99.1ZM818.5 101.3L819.6 101.4L818.4 103.4L829.4 101.1L818.9 97.0L819.8 99.2L818.7 99.1ZM833.9 101.3L835.0 101.4L833.7 103.4L844.8 101.1L834.3 97.0L835.2 99.2L834.1 99.1ZM849.3 101.3L850.4 101.4L849.1 103.4L860.1 101.1L849.7 97.0L850.6 99.2L849.5 99.1ZM864.8 101.3L867.6 101.3L866.5 103.5L877.5 100.2L866.5 96.9L867.6 99.1L864.8 99.1ZM880.2 101.3L883.0 101.3L881.9 103.5L892.9 100.2L881.9 96.9L883.0 99.1L880.2 99.1ZM895.5 101.3L898.4 101.3L897.3 103.5L908.3 100.2L897.3 96.9L898.4 99.1L895.5 99.1ZM910.9 101.3L913.8 101.3L912.7 103.5L923.7 100.2L912.7 96.9L913.8 99.1L910.9 99.1ZM926.3 101.3L929.1 101.3L928.0 103.5L939.0 100.2L928.0 96.9L929.1 99.1L926.3 99.1ZM941.7 101.3L944.5 101.3L943.4 103.5L954.4 100.2L943.4 96.9L944.5 99.1L941.7 99.1ZM957.1 101.3L958.1 101.3L957.1 103.4L967.8 100.2L957.1 97.0L958.1 99.1L957.1 99.1ZM972.4 101.3L973.5 101.3L972.4 103.4L983.2 100.2L972.4 97.0L973.5 99.1L972.4 99.1ZM987.8 101.3L988.9 101.3L987.8 103.4L998.6 100.2L987.8 97.0L988.9 99.1L987.8 99.1ZM1003.2 101.3L1004.3 101.3L1003.2 103.4L1014.0 100.2L1003.2 97.0L1004.3 99.1L1003.2 99.1ZM1018.6 101.3L1019.7 101.3L1018.6 103.4L1029.4 100.2L1018.6 97.0L1019.7 99.1L1018.6 99.1ZM1034.0 101.3L1035.0 101.3L1034.0 103.4L1044.7 100.2L1034.0 97.0L1035.0 99.1L1034.0 99.1ZM1049.3 101.3L1050.4 101.3L1049.3 103.4L1060.1 100.2L1049.3 97.0L1050.4 99.1L1049.3 99.1ZM1064.7 101.3L1065.8 101.3L1064.7 103.4L1075.5 100.2L1064.7 97.0L1065.8 99.1L1064.7 99.1ZM1080.1 101.3L1081.2 101.3L1080.1 103.4L1090.9 100.2L1080.1 97.0L1081.2 99.1L1080.1 99.1ZM1095.5 101.3L1096.6 101.3L1095.5 103.4L1106.3 100.2L1095.5 97.0L1096.6 99.1L1095.5 99.1ZM1110.9 101.3L1111.9 101.3L1110.9 103.4L1121.6 100.2L1110.9 97.0L1111.9 99.1L1110.9 99.1ZM1126.2 101.3L1127.3 101.3L1126.2 103.4L1137.0 100.2L1126.2 97.0L1127.3 99.1L1126.2 99.1ZM1141.6 101.3L1142.7 101.3L1141.6 103.4L1152.4 100.2L1141.6 97.0L1142.7 99.1L1141.6 99.1ZM1157.0 101.3L1158.1 101.3L1157.0 103.4L1167.8 100.2L1157.0 97.0L1158.1 99.1L1157.0 99.1ZM1172.4 101.3L1173.5 101.3L1172.4 103.4L1183.2 100.2L1172.4 97.0L1173.5 99.1L1172.4 99.1ZM1187.8 101.3L1188.8 101.3L1187.8 103.4L1198.5 100.2L1187.8 97.0L1188.8 99.1L1187.8 99.1ZM1203.1 101.3L1204.2 101.3L1203.1 103.4L1213.9 100.2L1203.1 97.0L1204.2 99.1L1203.1 99.1ZM1218.5 101.3L1221.4 101.3L1220.3 103.5L1231.3 100.2L1220.3 96.9L1221.4 99.1L1218.5 99.1ZM1233.9 101.3L1236.7 101.3L1235.6 103.5L1246.6 100.2L1235.6 96.9L1236.7 99.1L1233.9 99.1ZM1249.3 101.3L1252.1 101.3L1251.0 103.5L1262.0 100.2L1251.0 96.9L1252.1 99.1L1249.3 99.1ZM1264.7 101.3L1267.5 101.3L1266.4 103.5L1277.4 100.2L1266.4 96.9L1267.5 99.1L1264.7 99.1ZM464.9 116.7L467.7 116.7L466.6 118.9L477.6 115.6L466.6 112.3L467.7 114.5L464.9 114.5ZM480.3 116.7L483.1 116.7L482.0 118.9L493.0 115.6L482.0 112.3L483.1 114.5L480.3 114.5ZM495.7 116.7L498.5 116.7L497.4 118.9L508.4 115.6L497.4 112.3L498.5 114.5L495.7 114.5ZM511.0 116.7L513.9 116.7L512.8 118.9L523.8 115.6L512.8 112.3L513.9 114.5L511.0 114.5ZM526.4 116.7L529.3 116.7L528.2 118.9L539.2 115.6L528.2 112.3L529.3 114.5L526.4 114.5ZM541.8 116.7L544.6 116.7L543.5 118.9L554.5 115.6L543.5 112.3L544.6 114.5L541.8 114.5ZM557.2 116.7L560.0 116.7L558.9 118.9L569.9 115.6L558.9 112.3L560.0 114.5L557.2 114.5ZM572.6 116.7L575.4 116.7L574.3 118.9L585.3 115.6L574.3 112.3L575.4 114.5L572.6 114.5ZM587.9 116.7L590.8 116.7L589.7 118.9L600.7 115.6L589.7 112.3L590.8 114.5L587.9 114.5ZM603.3 116.7L606.2 116.7L605.1 118.9L616.1 115.6L605.1 112.3L606.2 114.5L603.3 114.5ZM618.7 116.7L621.5 116.7L620.4 118.9L631.4 115.6L620.4 112.3L621.5 114.5L618.7 114.5ZM634.1 116.7L636.9 116.7L635.8 118.9L646.8 115.6L635.8 112.3L636.9 114.5L634.1 114.5ZM649.5 116.7L652.3 116.7L651.2 118.9L662.2 115.6L651.2 112.3L652.3 114.5L649.5 114.5ZM664.7 116.7L665.8 116.8L664.6 118.8L675.6 116.5L665.1 112.4L666.0 114.6L664.9 114.5ZM680.1 116.7L681.2 116.8L679.9 118.8L691.0 116.5L680.5 112.4L681.4 114.6L680.3 114.5ZM695.5 116.7L696.6 116.8L695.3 118.8L706.3 116.5L695.9 112.4L696.8 114.6L695.7 114.5ZM710.9 116.7L712.0 116.8L710.7 118.8L721.7 116.5L711.3 112.4L712.1 114.6L711.1 114.5ZM726.3 116.7L727.3 116.8L726.1 118.8L737.1 116.5L726.6 112.4L727.5 114.6L726.5 114.5ZM741.6 116.7L742.7 116.8L741.5 118.8L752.5 116.5L742.0 112.4L742.9 114.6L741.8 114.5ZM757.0 116.7L758.1 116.8L756.8 118.8L767.9 116.5L757.4 112.4L758.3 114.6L757.2 114.5ZM772.4 116.7L773.5 116.8L772.2 118.8L783.2 116.5L772.8 112.4L773.7 114.6L772.6 114.5ZM787.8 116.7L788.9 116.8L787.6 118.8L798.6 116.5L788.2 112.4L789.0 114.6L788.0 114.5ZM803.2 116.7L804.2 116.8L803.0 118.8L814.0 116.5L803.5 112.4L804.4 114.6L803.4 114.5ZM818.5 116.7L819.6 116.8L818.4 118.8L829.4 116.5L818.9 112.4L819.8 114.6L818.7 114.5ZM833.9 116.7L835.0 116.8L833.7 118.8L844.8 116.5L834.3 112.4L835.2 114.6L834.1 114.5ZM849.3 116.7L852.1 116.9L850.8 119.0L862.1 116.7L851.4 112.5L852.3 114.8L849.5 114.5ZM864.8 116.7L867.6 116.7L866.5 118.9L877.5 115.6L866.5 112.3L867.6 114.5L864.8 114.5ZM880.2 116.7L883.0 116.7L881.9 118.9L892.9 115.6L881.9 112.3L883.0 114.5L880.2 114.5ZM895.5 116.7L898.4 116.7L897.3 118.9L908.3 115.6L897.3 112.3L898.4 114.5L895.5 114.5ZM910.9 116.7L913.8 116.7L912.7 118.9L923.7 115.6L912.7 112.3L913.8 114.5L910.9 114.5ZM926.3 116.7L929.1 116.7L928.0 118.9L939.0 115.6L928.0 112.3L929.1 114.5L926.3 114.5ZM941.7 116.7L944.5 116.7L943.4 118.9L954.4 115.6L943.4 112.3L944.5 114.5L941.7 114.5ZM957.1 116.7L958.1 116.7L957.1 118.8L967.8 115.6L957.1 112.4L958.1 114.5L957.1 114.5ZM972.4 116.7L973.5 116.7L972.4 118.8L983.2 115.6L972.4 112.4L973.5 114.5L972.4 114.5ZM987.8 116.7L988.9 116.7L987.8 118.8L998.6 115.6L987.8 112.4L988.9 114.5L987.8 114.5ZM1003.2 116.7L1004.3 116.7L1003.2 118.8L1014.0 115.6L1003.2 112.4L1004.3 114.5L1003.2 114.5ZM1018.6 116.7L1019.7 116.7L1018.6 118.8L1029.4 115.6L1018.6 112.4L1019.7 114.5L1018.6 114.5ZM1034.0 116.7L1035.0 116.7L1034.0 118.8L1044.7 115.6L1034.0 112.4L1035.0 114.5L1034.0 114.5ZM1049.3 116.7L1050.4 116.7L1049.3 118.8L1060.1 115.6L1049.3 112.4L1050.4 114.5L1049.3 114.5ZM1064.7 116.7L1065.8 116.7L1064.7 118.8L1075.5 115.6L1064.7 112.4L1065.8 114.5L1064.7 114.5ZM1080.1 116.7L1081.2 116.7L1080.1 118.8L1090.9 115.6L1080.1 112.4L1081.2 114.5L1080.1 114.5ZM1095.5 116.7L1096.6 116.7L1095.5 118.8L1106.3 115.6L1095.5 112.4L1096.6 114.5L1095.5 114.5ZM1110.9 116.7L1111.9 116.7L1110.9 118.8L1121.6 115.6L1110.9 112.4L1111.9 114.5L1110.9 114.5ZM1126.2 116.7L1127.3 116.7L1126.2 118.8L1137.0 115.6L1126.2 112.4L1127.3 114.5L1126.2 114.5ZM1141.6 116.7L1142.7 116.7L1141.6 118.8L1152.4 115.6L1141.6 112.4L1142.7 114.5L1141.6 114.5ZM1157.0 116.7L1158.1 116.7L1157.0 118.8L1167.8 115.6L1157.0 112.4L1158.1 114.5L1157.0 114.5ZM1172.4 116.7L1173.5 116.7L1172.4 118.8L1183.2 115.6L1172.4 112.4L1173.5 114.5L1172.4 114.5ZM1187.8 116.7L1188.8 116.7L1187.8 118.8L1198.5 115.6L1187.8 112.4L1188.8 114.5L1187.8 114.5ZM1203.1 116.7L1206.0 116.7L1204.9 118.9L1215.9 115.6L1204.9 112.3L1206.0 114.5L1203.1 114.5ZM1218.5 116.7L1221.4 116.7L1220.3 118.9L1231.3 115.6L1220.3 112.3L1221.4 114.5L1218.5 114.5ZM1233.9 116.7L1236.7 116.7L1235.6 118.9L1246.6 115.6L1235.6 112.3L1236.7 114.5L1233.9 114.5ZM1249.3 116.7L1252.1 116.7L1251.0 118.9L1262.0 115.6L1251.0 112.3L1252.1 114.5L1249.3 114.5ZM1264.7 116.7L1267.5 116.7L1266.4 118.9L1277.4 115.6L1266.4 112.3L1267.5 114.5L1264.7 114.5ZM464.9 132.1L467.7 132.1L466.6 134.3L477.6 131.0L466.6 127.7L467.7 129.9L464.9 129.9ZM480.3 132.1L483.1 132.1L482.0 134.3L493.0 131.0L482.0 127.7L483.1 129.9L480.3 129.9ZM495.7 132.1L498.5 132.1L497.4 134.3L508.4 131.0L497.4 127.7L498.5 129.9L495.7 129.9ZM511.0 132.1L513.9 132.1L512.8 134.3L523.8 131.0L512.8 127.7L513.9 129.9L511.0 129.9ZM526.4 132.1L529.3 132.1L528.2 134.3L539.2 131.0L528.2 127.7L529.3 129.9L526.4 129.9ZM541.8 132.1L544.6 132.1L543.5 134.3L554.5 131.0L543.5 127.7L544.6 129.9L541.8 129.9ZM557.2 132.1L560.0 132.1L558.9 134.3L569.9 131.0L558.9 127.7L560.0 129.9L557.2 129.9ZM572.6 132.1L575.4 132.1L574.3 134.3L585.3 131.0L574.3 127.7L575.4 129.9L572.6 129.9ZM587.9 132.1L590.8 132.1L589.7 134.3L600.7 131.0L589.7 127.7L590.8 129.9L587.9 129.9ZM603.3 132.1L606.2 132.1L605.1 134.3L616.1 131.0L605.1 127.7L606.2 129.9L603.3 129.9ZM618.7 132.1L621.5 132.1L620.4 134.3L631.4 131.0L620.4 127.7L621.5 129.9L618.7 129.9ZM634.1 132.1L636.9 132.1L635.8 134.3L646.8 131.0L635.8 127.7L636.9 129.9L634.1 129.9ZM649.5 132.1L652.3 132.1L651.2 134.3L662.2 131.0L651.2 127.7L652.3 129.9L649.5 129.9ZM664.7 132.1L665.8 132.2L664.6 134.2L675.6 131.9L665.1 127.8L666.0 130.0L664.9 129.9ZM680.1 132.1L681.2 132.2L679.9 134.2L691.0 131.9L680.5 127.8L681.4 130.0L680.3 129.9ZM695.5 132.1L696.6 132.2L695.3 134.2L706.3 131.9L695.9 127.8L696.8 130.0L695.7 129.9ZM710.9 132.1L712.0 132.2L710.7 134.2L721.7 131.9L711.3 127.8L712.1 130.0L711.1 129.9ZM726.3 132.1L727.3 132.2L726.1 134.2L737.1 131.9L726.6 127.8L727.5 130.0L726.5 129.9ZM741.6 132.1L742.7 132.2L741.5 134.2L752.5 131.9L742.0 127.8L742.9 130.0L741.8 129.9ZM757.0 132.1L758.1 132.2L756.8 134.2L767.9 131.9L757.4 127.8L758.3 130.0L757.2 129.9ZM772.4 132.1L773.5 132.2L772.2 134.2L783.2 131.9L772.8 127.8L773.7 130.0L772.6 129.9ZM787.8 132.1L788.9 132.2L787.6 134.2L798.6 131.9L788.2 127.8L789.0 130.0L788.0 129.9ZM803.2 132.1L804.2 132.2L803.0 134.2L814.0 131.9L803.5 127.8L804.4 130.0L803.4 129.9ZM818.5 132.1L819.6 132.2L818.4 134.2L829.4 131.9L818.9 127.8L819.8 130.0L818.7 129.9ZM833.9 132.1L835.0 132.2L833.7 134.2L844.8 131.9L834.3 127.8L835.2 130.0L834.1 129.9ZM849.3 132.1L852.1 132.3L850.8 134.4L862.1 132.1L851.4 127.9L852.3 130.2L849.5 129.9ZM865.2 132.0L867.8 131.1L867.5 133.5L876.8 126.6L865.3 127.3L867.1 129.0L864.4 130.0ZM880.5 132.0L883.2 131.1L882.9 133.5L892.1 126.6L880.7 127.3L882.5 129.0L879.8 130.0ZM895.9 132.0L898.6 131.1L898.3 133.5L907.5 126.6L896.0 127.3L897.8 129.0L895.2 130.0ZM911.3 132.0L914.0 131.1L913.7 133.5L922.9 126.6L911.4 127.3L913.2 129.0L910.5 130.0ZM926.7 132.0L929.3 131.1L929.1 133.5L938.3 126.6L926.8 127.3L928.6 129.0L925.9 130.0ZM941.2 132.0L943.8 133.2L941.9 134.7L953.2 136.4L944.7 128.7L944.7 131.2L942.1 130.0ZM956.6 132.0L957.6 132.4L955.7 133.9L966.8 135.6L958.4 128.1L958.5 130.5L957.5 130.0ZM972.0 132.0L973.0 132.4L971.1 133.9L982.2 135.6L973.8 128.1L973.9 130.5L972.9 130.0ZM987.4 132.0L988.3 132.4L986.5 133.9L997.6 135.6L989.2 128.1L989.3 130.5L988.3 130.0ZM1002.7 132.0L1003.7 132.4L1001.8 133.9L1013.0 135.6L1004.6 128.1L1004.6 130.5L1003.7 130.0ZM1018.1 132.0L1019.1 132.4L1017.2 133.9L1028.3 135.6L1019.9 128.1L1020.0 130.5L1019.0 130.0ZM1033.5 132.0L1034.5 132.4L1032.6 133.9L1043.7 135.6L1035.3 128.1L1035.4 130.5L1034.4 130.0ZM1049.2 132.1L1050.2 132.2L1048.8 134.2L1060.0 132.9L1049.9 127.8L1050.6 130.1L1049.5 129.9ZM1064.7 132.1L1065.8 132.1L1064.7 134.2L1075.5 131.0L1064.7 127.8L1065.8 129.9L1064.7 129.9ZM1080.1 132.1L1081.2 132.1L1080.1 134.2L1090.9 131.0L1080.1 127.8L1081.2 129.9L1080.1 129.9ZM1095.5 132.1L1096.6 132.1L1095.5 134.2L1106.3 131.0L1095.5 127.8L1096.6 129.9L1095.5 129.9ZM1110.9 132.1L1111.9 132.1L1110.9 134.2L1121.6 131.0L1110.9 127.8L1111.9 129.9L1110.9 129.9ZM1126.2 132.1L1127.3 132.1L1126.2 134.2L1137.0 131.0L1126.2 127.8L1127.3 129.9L1126.2 129.9ZM1141.6 132.1L1142.7 132.1L1141.6 134.2L1152.4 131.0L1141.6 127.8L1142.7 129.9L1141.6 129.9ZM1157.0 132.1L1158.1 132.1L1157.0 134.2L1167.8 131.0L1157.0 127.8L1158.1 129.9L1157.0 129.9ZM1172.4 132.1L1173.5 132.1L1172.4 134.2L1183.2 131.0L1172.4 127.8L1173.5 129.9L1172.4 129.9ZM1187.8 132.1L1188.8 132.1L1187.8 134.2L1198.5 131.0L1187.8 127.8L1188.8 129.9L1187.8 129.9ZM1203.1 132.1L1206.0 132.1L1204.9 134.3L1215.9 131.0L1204.9 127.7L1206.0 129.9L1203.1 129.9ZM1218.5 132.1L1221.4 132.1L1220.3 134.3L1231.3 131.0L1220.3 127.7L1221.4 129.9L1218.5 129.9ZM1233.9 132.1L1236.7 132.1L1235.6 134.3L1246.6 131.0L1235.6 127.7L1236.7 129.9L1233.9 129.9ZM1249.3 132.1L1252.1 132.1L1251.0 134.3L1262.0 131.0L1251.0 127.7L1252.1 129.9L1249.3 129.9ZM1264.7 132.1L1267.5 132.1L1266.4 134.3L1277.4 131.0L1266.4 127.7L1267.5 129.9L1264.7 129.9ZM464.9 147.5L467.7 147.5L466.6 149.7L477.6 146.4L466.6 143.1L467.7 145.3L464.9 145.3ZM480.3 147.5L483.1 147.5L482.0 149.7L493.0 146.4L482.0 143.1L483.1 145.3L480.3 145.3ZM495.7 147.5L498.5 147.5L497.4 149.7L508.4 146.4L497.4 143.1L498.5 145.3L495.7 145.3ZM511.0 147.5L513.9 147.5L512.8 149.7L523.8 146.4L512.8 143.1L513.9 145.3L511.0 145.3ZM526.4 147.5L529.3 147.5L528.2 149.7L539.2 146.4L528.2 143.1L529.3 145.3L526.4 145.3ZM541.8 147.5L544.6 147.5L543.5 149.7L554.5 146.4L543.5 143.1L544.6 145.3L541.8 145.3ZM557.2 147.5L560.0 147.5L558.9 149.7L569.9 146.4L558.9 143.1L560.0 145.3L557.2 145.3ZM572.6 147.5L575.4 147.5L574.3 149.7L585.3 146.4L574.3 143.1L575.4 145.3L572.6 145.3ZM587.9 147.5L590.8 147.5L589.7 149.7L600.7 146.4L589.7 143.1L590.8 145.3L587.9 145.3ZM603.3 147.5L606.2 147.5L605.1 149.7L616.1 146.4L605.1 143.1L606.2 145.3L603.3 145.3ZM618.7 147.5L621.5 147.5L620.4 149.7L631.4 146.4L620.4 143.1L621.5 145.3L618.7 145.3ZM634.1 147.5L636.9 147.5L635.8 149.7L646.8 146.4L635.8 143.1L636.9 145.3L634.1 145.3ZM649.5 147.5L652.3 147.5L651.2 149.7L662.2 146.4L651.2 143.1L652.3 145.3L649.5 145.3ZM664.5 147.4L665.5 147.8L663.7 149.4L675.0 150.1L665.9 143.4L666.2 145.8L665.2 145.4ZM679.9 147.4L680.9 147.8L679.1 149.4L690.3 150.1L681.3 143.4L681.6 145.8L680.6 145.4ZM695.2 147.4L696.2 147.8L694.5 149.4L705.7 150.1L696.7 143.4L697.0 145.8L696.0 145.4ZM710.7 147.2L711.5 147.5L710.1 148.9L719.3 149.4L711.9 143.9L712.1 145.9L711.3 145.6ZM726.1 147.2L726.9 147.5L725.5 148.9L734.6 149.4L727.3 143.9L727.5 145.9L726.7 145.6ZM741.4 147.2L742.3 147.5L740.8 148.9L750.0 149.4L742.6 143.9L742.9 145.9L742.0 145.6ZM756.8 147.2L757.6 147.5L756.2 148.9L765.4 149.4L758.0 143.9L758.3 145.9L757.4 145.6ZM772.9 147.4L773.9 147.0L773.6 149.4L782.6 142.7L771.4 143.4L773.1 145.0L772.1 145.4ZM788.2 147.4L789.3 147.0L789.0 149.4L798.0 142.7L786.8 143.4L788.5 145.0L787.5 145.4ZM803.6 147.2L804.4 146.9L804.2 148.9L811.5 143.4L802.4 143.9L803.8 145.3L803.0 145.6ZM819.0 147.4L820.0 147.0L819.7 149.4L828.8 142.7L817.5 143.4L819.3 145.0L818.3 145.4ZM834.4 147.4L835.4 147.0L835.1 149.4L844.1 142.7L832.9 143.4L834.7 145.0L833.7 145.4ZM849.8 147.4L852.4 146.5L852.2 148.9L861.4 142.0L849.9 142.7L851.7 144.4L849.0 145.4ZM865.2 147.4L867.8 146.5L867.5 148.9L876.8 142.0L865.3 142.7L867.1 144.4L864.4 145.4ZM880.5 147.4L883.2 146.5L882.9 148.9L892.1 142.0L880.7 142.7L882.5 144.4L879.8 145.4ZM895.9 147.4L900.4 145.8L900.1 148.2L909.4 141.4L897.9 142.0L899.7 143.7L895.2 145.4ZM911.3 147.4L914.0 146.5L913.7 148.9L922.9 142.0L911.4 142.7L913.2 144.4L910.5 145.4ZM926.7 147.4L929.3 146.5L929.1 148.9L938.3 142.0L926.8 142.7L928.6 144.4L925.9 145.4ZM941.2 147.4L943.8 148.6L941.9 150.1L953.2 151.8L944.7 144.1L944.7 146.6L942.1 145.4ZM956.6 147.4L957.6 147.8L955.7 149.3L966.8 151.0L958.4 143.5L958.5 145.9L957.5 145.4ZM972.0 147.4L973.0 147.8L971.1 149.3L982.2 151.0L973.8 143.5L973.9 145.9L972.9 145.4ZM987.4 147.4L988.3 147.8L986.5 149.3L997.6 151.0L989.2 143.5L989.3 145.9L988.3 145.4ZM1002.7 147.4L1003.7 147.8L1001.8 149.3L1013.0 151.0L1004.6 143.5L1004.6 145.9L1003.7 145.4ZM1018.1 147.4L1019.1 147.8L1017.2 149.3L1028.3 151.0L1019.9 143.5L1020.0 145.9L1019.0 145.4ZM1033.5 147.4L1034.5 147.8L1032.6 149.3L1043.7 151.0L1035.3 143.5L1035.4 145.9L1034.4 145.4ZM1049.2 147.5L1050.2 147.6L1048.8 149.6L1060.0 148.3L1049.9 143.2L1050.6 145.5L1049.5 145.3ZM1064.7 147.3L1065.6 147.3L1064.7 149.0L1073.5 146.4L1064.7 143.8L1065.6 145.5L1064.7 145.5ZM1080.1 147.5L1081.2 147.5L1080.1 149.6L1090.9 146.4L1080.1 143.2L1081.2 145.3L1080.1 145.3ZM1095.5 147.5L1096.6 147.5L1095.5 149.6L1106.3 146.4L1095.5 143.2L1096.6 145.3L1095.5 145.3ZM1110.9 147.5L1111.9 147.5L1110.9 149.6L1121.6 146.4L1110.9 143.2L1111.9 145.3L1110.9 145.3ZM1126.2 147.5L1127.3 147.5L1126.2 149.6L1137.0 146.4L1126.2 143.2L1127.3 145.3L1126.2 145.3ZM1141.6 147.5L1142.7 147.5L1141.6 149.6L1152.4 146.4L1141.6 143.2L1142.7 145.3L1141.6 145.3ZM1157.0 147.5L1158.1 147.5L1157.0 149.6L1167.8 146.4L1157.0 143.2L1158.1 145.3L1157.0 145.3ZM1172.4 147.5L1173.5 147.5L1172.4 149.6L1183.2 146.4L1172.4 143.2L1173.5 145.3L1172.4 145.3ZM1187.8 147.5L1188.8 147.5L1187.8 149.6L1198.5 146.4L1187.8 143.2L1188.8 145.3L1187.8 145.3ZM1203.1 147.5L1206.0 147.5L1204.9 149.7L1215.9 146.4L1204.9 143.1L1206.0 145.3L1203.1 145.3ZM1218.5 147.5L1221.4 147.5L1220.3 149.7L1231.3 146.4L1220.3 143.1L1221.4 145.3L1218.5 145.3ZM1233.9 147.5L1236.7 147.5L1235.6 149.7L1246.6 146.4L1235.6 143.1L1236.7 145.3L1233.9 145.3ZM1249.3 147.5L1252.1 147.5L1251.0 149.7L1262.0 146.4L1251.0 143.1L1252.1 145.3L1249.3 145.3ZM1264.7 147.5L1267.5 147.5L1266.4 149.7L1277.4 146.4L1266.4 143.1L1267.5 145.3L1264.7 145.3ZM464.9 162.9L467.7 162.9L466.6 165.1L477.6 161.8L466.6 158.5L467.7 160.7L464.9 160.7ZM480.3 162.9L485.1 162.9L484.0 165.1L495.0 161.8L484.0 158.5L485.1 160.7L480.3 160.7ZM495.7 162.9L500.5 162.9L499.4 165.1L510.4 161.8L499.4 158.5L500.5 160.7L495.7 160.7ZM511.0 162.9L515.8 162.9L514.7 165.1L525.7 161.8L514.7 158.5L515.8 160.7L511.0 160.7ZM526.4 162.9L531.2 162.9L530.1 165.1L541.1 161.8L530.1 158.5L531.2 160.7L526.4 160.7ZM541.8 162.9L544.6 162.9L543.5 165.1L554.5 161.8L543.5 158.5L544.6 160.7L541.8 160.7ZM557.2 162.9L562.0 162.9L560.9 165.1L571.9 161.8L560.9 158.5L562.0 160.7L557.2 160.7ZM572.6 162.9L577.4 162.9L576.3 165.1L587.3 161.8L576.3 158.5L577.4 160.7L572.6 160.7ZM587.9 162.9L590.8 162.9L589.7 165.1L600.7 161.8L589.7 158.5L590.8 160.7L587.9 160.7ZM603.3 162.9L606.2 162.9L605.1 165.1L616.1 161.8L605.1 158.5L606.2 160.7L603.3 160.7ZM618.7 162.9L621.5 162.9L620.4 165.1L631.4 161.8L620.4 158.5L621.5 160.7L618.7 160.7ZM634.1 162.9L636.9 162.9L635.8 165.1L646.8 161.8L635.8 158.5L636.9 160.7L634.1 160.7ZM649.5 162.9L652.3 162.9L651.2 165.1L662.2 161.8L651.2 158.5L652.3 160.7L649.5 160.7ZM664.5 162.8L665.5 163.2L663.7 164.8L675.0 165.5L665.9 158.8L666.2 161.2L665.2 160.8ZM679.9 162.8L680.9 163.2L679.1 164.8L690.3 165.5L681.3 158.8L681.6 161.2L680.6 160.8ZM695.2 162.8L696.2 163.2L694.5 164.8L705.7 165.5L696.7 158.8L697.0 161.2L696.0 160.8ZM710.7 162.6L711.5 162.9L710.1 164.3L719.3 164.8L711.9 159.3L712.1 161.3L711.3 161.0ZM726.1 162.6L726.9 162.9L725.5 164.3L734.6 164.8L727.3 159.3L727.5 161.3L726.7 161.0ZM741.4 162.6L742.3 162.9L740.8 164.3L750.0 164.8L742.6 159.3L742.9 161.3L742.0 161.0ZM756.8 162.6L757.6 162.9L756.2 164.3L765.4 164.8L758.0 159.3L758.3 161.3L757.4 161.0ZM772.9 162.8L773.9 162.4L773.6 164.8L782.6 158.1L771.4 158.8L773.1 160.4L772.1 160.8ZM788.2 162.8L789.3 162.4L789.0 164.8L798.0 158.1L786.8 158.8L788.5 160.4L787.5 160.8ZM803.6 162.8L804.6 162.4L804.4 164.8L813.4 158.1L802.2 158.8L803.9 160.4L802.9 160.8ZM819.0 162.8L820.0 162.4L819.7 164.8L828.8 158.1L817.5 158.8L819.3 160.4L818.3 160.8ZM834.4 162.8L835.4 162.4L835.1 164.8L844.1 158.1L832.9 158.8L834.7 160.4L833.7 160.8ZM849.8 162.8L852.4 161.9L852.2 164.3L861.4 157.4L849.9 158.1L851.7 159.8L849.0 160.8ZM865.2 162.8L867.8 161.9L867.5 164.3L876.8 157.4L865.3 158.1L867.1 159.8L864.4 160.8ZM880.5 162.8L883.2 161.9L882.9 164.3L892.1 157.4L880.7 158.1L882.5 159.8L879.8 160.8ZM895.9 162.8L898.6 161.9L898.3 164.3L907.5 157.4L896.0 158.1L897.8 159.8L895.2 160.8ZM911.3 162.8L914.0 161.9L913.7 164.3L922.9 157.4L911.4 158.1L913.2 159.8L910.5 160.8ZM926.7 162.8L929.3 161.9L929.1 164.3L938.3 157.4L926.8 158.1L928.6 159.8L925.9 160.8ZM941.2 162.8L943.8 164.0L941.9 165.5L953.2 167.2L944.7 159.5L944.7 162.0L942.1 160.8ZM956.6 162.8L957.6 163.2L955.7 164.7L966.8 166.4L958.4 158.9L958.5 161.3L957.5 160.8ZM972.0 162.8L973.0 163.2L971.1 164.7L982.2 166.4L973.8 158.9L973.9 161.3L972.9 160.8ZM987.4 162.8L988.3 163.2L986.5 164.7L997.6 166.4L989.2 158.9L989.3 161.3L988.3 160.8ZM1002.7 162.8L1003.7 163.2L1001.8 164.7L1013.0 166.4L1004.6 158.9L1004.6 161.3L1003.7 160.8ZM1018.1 162.8L1019.1 163.2L1017.2 164.7L1028.3 166.4L1019.9 158.9L1020.0 161.3L1019.0 160.8ZM1033.5 162.8L1034.5 163.2L1032.6 164.7L1043.7 166.4L1035.3 158.9L1035.4 161.3L1034.4 160.8ZM1049.2 162.9L1050.2 163.0L1048.8 165.0L1060.0 163.7L1049.9 158.6L1050.6 160.9L1049.5 160.7ZM1064.7 162.7L1065.6 162.7L1064.6 164.4L1073.5 162.3L1064.9 159.2L1065.6 161.0L1064.8 160.9ZM1080.1 162.7L1080.9 162.7L1080.0 164.4L1088.9 162.3L1080.2 159.2L1081.0 161.0L1080.1 160.9ZM1095.4 162.7L1096.3 162.7L1095.3 164.4L1104.3 162.3L1095.6 159.2L1096.4 161.0L1095.5 160.9ZM1110.8 162.7L1111.7 162.7L1110.7 164.4L1119.7 162.3L1111.0 159.2L1111.8 161.0L1110.9 160.9ZM1126.2 162.7L1127.1 162.7L1126.1 164.4L1135.0 162.3L1126.4 159.2L1127.2 161.0L1126.3 160.9ZM1141.6 162.9L1142.6 162.9L1141.5 165.0L1152.4 162.4L1141.8 158.6L1142.8 160.8L1141.7 160.7ZM1157.4 162.8L1158.4 162.4L1158.1 164.8L1167.1 158.1L1155.9 158.8L1157.6 160.4L1156.6 160.8ZM1172.7 162.8L1173.8 162.4L1173.5 164.8L1182.5 158.1L1171.3 158.8L1173.0 160.4L1172.0 160.8ZM1188.1 162.8L1189.1 162.4L1188.9 164.8L1197.9 158.1L1186.7 158.8L1188.4 160.4L1187.4 160.8ZM1203.5 162.8L1204.5 162.4L1204.2 164.8L1213.3 158.1L1202.0 158.8L1203.8 160.4L1202.8 160.8ZM1218.9 162.8L1219.9 162.4L1219.6 164.8L1228.6 158.1L1217.4 158.8L1219.2 160.4L1218.2 160.8ZM1234.3 162.8L1236.9 161.9L1236.7 164.3L1245.9 157.4L1234.4 158.1L1236.2 159.8L1233.5 160.8ZM1249.7 162.8L1252.3 161.9L1252.0 164.3L1261.3 157.4L1249.8 158.1L1251.6 159.8L1248.9 160.8ZM1265.0 162.8L1267.7 161.9L1267.4 164.3L1276.6 157.4L1265.2 158.1L1267.0 159.8L1264.3 160.8ZM464.9 178.3L469.7 178.3L468.6 180.5L479.6 177.2L468.6 173.9L469.7 176.1L464.9 176.1ZM480.3 178.3L485.1 178.3L484.0 180.5L495.0 177.2L484.0 173.9L485.1 176.1L480.3 176.1ZM495.7 178.3L500.5 178.3L499.4 180.5L510.4 177.2L499.4 173.9L500.5 176.1L495.7 176.1ZM511.0 178.3L515.8 178.3L514.7 180.5L525.7 177.2L514.7 173.9L515.8 176.1L511.0 176.1ZM526.4 178.3L531.2 178.3L530.1 180.5L541.1 177.2L530.1 173.9L531.2 176.1L526.4 176.1ZM541.8 178.3L546.6 178.3L545.5 180.5L556.5 177.2L545.5 173.9L546.6 176.1L541.8 176.1ZM557.2 178.3L562.0 178.3L560.9 180.5L571.9 177.2L560.9 173.9L562.0 176.1L557.2 176.1ZM572.6 178.3L577.4 178.3L576.3 180.5L587.3 177.2L576.3 173.9L577.4 176.1L572.6 176.1ZM587.9 178.3L592.7 178.3L591.6 180.5L602.6 177.2L591.6 173.9L592.7 176.1L587.9 176.1ZM603.3 178.3L608.1 178.3L607.0 180.5L618.0 177.2L607.0 173.9L608.1 176.1L603.3 176.1ZM618.7 178.3L623.5 178.3L622.4 180.5L633.4 177.2L622.4 173.9L623.5 176.1L618.7 176.1ZM634.1 178.3L638.9 178.3L637.8 180.5L648.8 177.2L637.8 173.9L638.9 176.1L634.1 176.1ZM649.5 178.3L652.3 178.3L651.2 180.5L662.2 177.2L651.2 173.9L652.3 176.1L649.5 176.1ZM664.5 178.2L667.1 179.2L665.3 180.9L676.8 181.6L667.6 174.7L667.9 177.1L665.2 176.2ZM679.9 178.2L680.9 178.6L679.1 180.2L690.3 180.9L681.3 174.2L681.6 176.6L680.6 176.2ZM695.2 178.2L696.2 178.6L694.5 180.2L705.7 180.9L696.7 174.2L697.0 176.6L696.0 176.2ZM710.7 178.0L711.5 178.3L710.1 179.7L719.3 180.2L711.9 174.7L712.1 176.7L711.3 176.4ZM726.1 178.0L726.9 178.3L725.5 179.7L734.6 180.2L727.3 174.7L727.5 176.7L726.7 176.4ZM741.4 178.0L742.3 178.3L740.8 179.7L750.0 180.2L742.6 174.7L742.9 176.7L742.0 176.4ZM756.8 178.0L757.6 178.3L756.2 179.7L765.4 180.2L758.0 174.7L758.3 176.7L757.4 176.4ZM772.8 178.0L773.6 177.7L773.4 179.7L780.8 174.2L771.6 174.7L773.0 176.1L772.2 176.4ZM788.2 178.0L789.0 177.7L788.8 179.7L796.2 174.2L787.0 174.7L788.4 176.1L787.6 176.4ZM803.6 178.2L804.6 177.8L804.4 180.2L813.4 173.5L802.2 174.2L803.9 175.8L802.9 176.2ZM819.0 178.2L820.0 177.8L819.7 180.2L828.8 173.5L817.5 174.2L819.3 175.8L818.3 176.2ZM834.4 178.2L835.4 177.8L835.1 180.2L844.1 173.5L832.9 174.2L834.7 175.8L833.7 176.2ZM849.8 178.2L850.8 177.8L850.5 180.2L859.5 173.5L848.3 174.2L850.0 175.8L849.0 176.2ZM865.2 178.2L867.8 177.3L867.5 179.7L876.8 172.8L865.3 173.5L867.1 175.2L864.4 176.2ZM880.5 178.2L883.2 177.3L882.9 179.7L892.1 172.8L880.7 173.5L882.5 175.2L879.8 176.2ZM895.9 178.2L898.6 177.3L898.3 179.7L907.5 172.8L896.0 173.5L897.8 175.2L895.2 176.2ZM911.3 178.2L912.3 177.8L912.0 180.2L921.0 173.5L909.8 174.2L911.6 175.8L910.6 176.2ZM926.7 178.2L927.7 177.8L927.4 180.2L936.4 173.5L925.2 174.2L926.9 175.8L925.9 176.2ZM941.2 178.2L942.2 178.6L940.3 180.1L951.4 181.8L943.0 174.3L943.1 176.7L942.1 176.2ZM956.6 178.2L957.6 178.6L955.7 180.1L966.8 181.8L958.4 174.3L958.5 176.7L957.5 176.2ZM972.0 178.2L973.0 178.6L971.1 180.1L982.2 181.8L973.8 174.3L973.9 176.7L972.9 176.2ZM987.4 178.2L988.3 178.6L986.5 180.1L997.6 181.8L989.2 174.3L989.3 176.7L988.3 176.2ZM1002.7 178.2L1003.7 178.6L1001.8 180.1L1013.0 181.8L1004.6 174.3L1004.6 176.7L1003.7 176.2ZM1018.2 178.0L1019.0 178.4L1017.5 179.6L1026.6 180.9L1019.7 174.8L1019.8 176.8L1019.0 176.4ZM1033.5 178.2L1034.5 178.6L1032.6 180.1L1043.7 181.8L1035.3 174.3L1035.4 176.7L1034.4 176.2ZM1049.2 178.3L1050.2 178.4L1048.8 180.4L1060.0 179.1L1049.9 174.0L1050.6 176.3L1049.5 176.1ZM1064.7 178.1L1065.6 178.1L1064.6 179.8L1073.5 177.7L1064.9 174.6L1065.6 176.4L1064.8 176.3ZM1080.1 178.1L1080.9 178.1L1080.0 179.8L1088.9 177.7L1080.2 174.6L1081.0 176.4L1080.1 176.3ZM1095.4 178.1L1096.3 178.1L1095.3 179.8L1104.3 177.7L1095.6 174.6L1096.4 176.4L1095.5 176.3ZM1110.8 178.1L1111.7 178.1L1110.7 179.8L1119.7 177.7L1111.0 174.6L1111.8 176.4L1110.9 176.3ZM1126.2 178.1L1127.1 178.1L1126.1 179.8L1135.0 177.7L1126.4 174.6L1127.2 176.4L1126.3 176.3ZM1141.6 178.1L1142.5 178.1L1141.5 179.8L1150.4 177.7L1141.8 174.6L1142.5 176.4L1141.7 176.3ZM1157.3 178.0L1158.1 177.7L1157.9 179.7L1165.3 174.2L1156.1 174.7L1157.5 176.1L1156.7 176.4ZM1172.7 178.2L1173.8 177.8L1173.5 180.2L1182.5 173.5L1171.3 174.2L1173.0 175.8L1172.0 176.2ZM1188.1 178.2L1189.1 177.8L1188.9 180.2L1197.9 173.5L1186.7 174.2L1188.4 175.8L1187.4 176.2ZM1203.5 178.2L1204.5 177.8L1204.2 180.2L1213.3 173.5L1202.0 174.2L1203.8 175.8L1202.8 176.2ZM1218.9 178.2L1221.6 177.3L1221.3 179.7L1230.5 172.8L1219.0 173.5L1220.8 175.2L1218.1 176.2ZM1234.3 178.2L1236.9 177.3L1236.7 179.7L1245.9 172.8L1234.4 173.5L1236.2 175.2L1233.5 176.2ZM1249.7 178.2L1252.3 177.3L1252.0 179.7L1261.3 172.8L1249.8 173.5L1251.6 175.2L1248.9 176.2ZM1265.0 178.2L1267.7 177.3L1267.4 179.7L1276.6 172.8L1265.2 173.5L1267.0 175.2L1264.3 176.2ZM466.0 192.6L465.4 193.6L464.3 193.6L463.8 192.6L464.3 191.6L465.4 191.6ZM481.4 192.6L480.8 193.6L479.7 193.6L479.2 192.6L479.7 191.6L480.8 191.6ZM495.7 192.9L496.0 192.9L495.7 193.5L498.6 192.6L495.7 191.7L496.0 192.3L495.7 192.3ZM511.0 192.9L511.3 192.9L511.0 193.5L514.0 192.6L511.0 191.7L511.3 192.3L511.0 192.3ZM526.4 192.9L526.7 192.9L526.4 193.5L529.4 192.6L526.4 191.7L526.7 192.3L526.4 192.3ZM541.8 193.7L544.6 193.7L543.5 195.9L554.5 192.6L543.5 189.3L544.6 191.5L541.8 191.5ZM557.2 193.7L560.0 193.7L558.9 195.9L569.9 192.6L558.9 189.3L560.0 191.5L557.2 191.5ZM572.6 193.7L575.4 193.7L574.3 195.9L585.3 192.6L574.3 189.3L575.4 191.5L572.6 191.5ZM587.9 193.7L590.8 193.7L589.7 195.9L600.7 192.6L589.7 189.3L590.8 191.5L587.9 191.5ZM602.9 193.6L607.5 195.3L605.7 197.0L617.1 197.6L607.9 190.8L608.2 193.2L603.7 191.6ZM618.3 193.6L622.8 195.3L621.0 197.0L632.5 197.6L623.3 190.8L623.6 193.2L619.1 191.6ZM633.7 193.6L638.2 195.3L636.4 197.0L647.9 197.6L638.7 190.8L639.0 193.2L634.5 191.6ZM649.1 193.6L651.8 194.6L650.0 196.3L661.4 197.0L652.2 190.1L652.5 192.5L649.8 191.6ZM664.5 193.6L667.1 194.6L665.3 196.3L676.8 197.0L667.6 190.1L667.9 192.5L665.2 191.6ZM679.9 193.6L680.9 194.0L679.1 195.6L690.3 196.3L681.3 189.6L681.6 192.0L680.6 191.6ZM695.3 193.4L696.1 193.7L694.7 195.1L703.9 195.6L696.5 190.1L696.7 192.1L695.9 191.8ZM710.7 193.4L711.5 193.7L710.1 195.1L719.3 195.6L711.9 190.1L712.1 192.1L711.3 191.8ZM726.1 193.4L726.9 193.7L725.5 195.1L734.6 195.6L727.3 190.1L727.5 192.1L726.7 191.8ZM741.4 193.4L742.3 193.7L740.8 195.1L750.0 195.6L742.6 190.1L742.9 192.1L742.0 191.8ZM756.8 193.4L757.6 193.7L756.2 195.1L765.4 195.6L758.0 190.1L758.3 192.1L757.4 191.8ZM772.8 193.4L773.6 193.1L773.4 195.1L780.8 189.6L771.6 190.1L773.0 191.5L772.2 191.8ZM788.2 193.4L789.0 193.1L788.8 195.1L796.2 189.6L787.0 190.1L788.4 191.5L787.6 191.8ZM803.6 193.6L804.6 193.2L804.4 195.6L813.4 188.9L802.2 189.6L803.9 191.2L802.9 191.6ZM819.0 193.6L820.0 193.2L819.7 195.6L828.8 188.9L817.5 189.6L819.3 191.2L818.3 191.6ZM834.4 193.6L835.4 193.2L835.1 195.6L844.1 188.9L832.9 189.6L834.7 191.2L833.7 191.6ZM849.8 193.6L850.8 193.2L850.5 195.6L859.5 188.9L848.3 189.6L850.0 191.2L849.0 191.6ZM865.2 193.6L867.8 192.7L867.5 195.1L876.8 188.2L865.3 188.9L867.1 190.6L864.4 191.6ZM880.5 193.6L883.2 192.7L882.9 195.1L892.1 188.2L880.7 188.9L882.5 190.6L879.8 191.6ZM895.9 193.6L896.9 193.2L896.6 195.6L905.7 188.9L894.4 189.6L896.2 191.2L895.2 191.6ZM911.3 193.6L912.3 193.2L912.0 195.6L921.0 188.9L909.8 189.6L911.6 191.2L910.6 191.6ZM926.7 193.6L927.7 193.2L927.4 195.6L936.4 188.9L925.2 189.6L926.9 191.2L925.9 191.6ZM941.2 193.6L942.2 194.0L940.3 195.5L951.4 197.2L943.0 189.7L943.1 192.1L942.1 191.6ZM956.6 193.6L957.6 194.0L955.7 195.5L966.8 197.2L958.4 189.7L958.5 192.1L957.5 191.6ZM972.0 193.6L973.0 194.0L971.1 195.5L982.2 197.2L973.8 189.7L973.9 192.1L972.9 191.6ZM987.4 193.6L988.3 194.0L986.5 195.5L997.6 197.2L989.2 189.7L989.3 192.1L988.3 191.6ZM1002.7 193.6L1003.7 194.0L1001.8 195.5L1013.0 197.2L1004.6 189.7L1004.6 192.1L1003.7 191.6ZM1018.2 193.4L1019.0 193.8L1017.5 195.0L1026.6 196.3L1019.7 190.2L1019.8 192.2L1019.0 191.8ZM1033.5 193.6L1034.5 194.0L1032.6 195.5L1043.7 197.2L1035.3 189.7L1035.4 192.1L1034.4 191.6ZM1049.2 193.7L1050.2 193.8L1048.8 195.8L1060.0 194.5L1049.9 189.4L1050.6 191.7L1049.5 191.5ZM1064.6 193.5L1065.4 193.6L1064.3 195.2L1073.4 194.1L1065.2 190.0L1065.7 191.9L1064.9 191.7ZM1080.0 193.3L1080.7 193.4L1079.7 194.6L1086.9 193.8L1080.5 190.6L1080.9 192.0L1080.2 191.9ZM1095.4 193.3L1096.0 193.4L1095.1 194.6L1102.2 193.8L1095.8 190.6L1096.3 192.0L1095.6 191.9ZM1110.7 193.5L1111.6 193.6L1110.4 195.2L1119.5 194.1L1111.3 190.0L1111.9 191.9L1111.0 191.7ZM1126.1 193.5L1127.0 193.6L1125.8 195.2L1134.9 194.1L1126.7 190.0L1127.3 191.9L1126.4 191.7ZM1141.5 193.5L1142.3 193.6L1141.2 195.2L1150.3 194.1L1142.1 190.0L1142.6 191.9L1141.8 191.7ZM1157.3 193.4L1158.1 193.1L1157.9 195.1L1165.3 189.6L1156.1 190.1L1157.5 191.5L1156.7 191.8ZM1172.7 193.4L1173.5 193.1L1173.3 195.1L1180.7 189.6L1171.5 190.1L1172.9 191.5L1172.1 191.8ZM1188.1 193.4L1188.9 193.1L1188.7 195.1L1196.0 189.6L1186.9 190.1L1188.3 191.5L1187.5 191.8ZM1203.5 193.6L1204.5 193.2L1204.2 195.6L1213.3 188.9L1202.0 189.6L1203.8 191.2L1202.8 191.6ZM1218.9 193.6L1221.6 192.7L1221.3 195.1L1230.5 188.2L1219.0 188.9L1220.8 190.6L1218.1 191.6ZM1234.3 193.6L1236.9 192.7L1236.7 195.1L1245.9 188.2L1234.4 188.9L1236.2 190.6L1233.5 191.6ZM1249.7 193.6L1252.3 192.7L1252.0 195.1L1261.3 188.2L1249.8 188.9L1251.6 190.6L1248.9 191.6ZM1265.0 193.6L1267.7 192.7L1267.4 195.1L1276.6 188.2L1265.2 188.9L1267.0 190.6L1264.3 191.6ZM466.0 208.0L465.4 209.0L464.3 209.0L463.8 208.0L464.3 207.0L465.4 207.0ZM481.4 208.0L480.8 209.0L479.7 209.0L479.2 208.0L479.7 207.0L480.8 207.0ZM496.8 208.0L496.2 209.0L495.1 209.0L494.6 208.0L495.1 207.0L496.2 207.0ZM512.1 208.0L511.6 209.0L510.5 209.0L509.9 208.0L510.5 207.0L511.6 207.0ZM527.5 208.0L527.0 209.0L525.9 209.0L525.3 208.0L525.9 207.0L527.0 207.0ZM542.9 208.0L542.3 209.0L541.2 209.0L540.7 208.0L541.2 207.0L542.3 207.0ZM557.2 208.3L557.5 208.3L557.2 208.9L560.1 208.0L557.2 207.1L557.5 207.7L557.2 207.7ZM572.4 209.1L575.2 209.6L573.7 211.6L585.1 210.2L574.8 205.1L575.5 207.4L572.8 206.9ZM587.7 209.1L590.5 209.6L589.1 211.6L600.5 210.2L590.2 205.1L590.9 207.4L588.1 206.9ZM603.1 209.1L607.9 209.9L606.4 211.9L617.8 210.6L607.5 205.4L608.2 207.8L603.5 206.9ZM618.5 209.1L621.3 209.6L619.8 211.6L631.2 210.2L621.0 205.1L621.7 207.4L618.9 206.9ZM633.4 208.9L637.4 211.7L635.2 212.8L646.1 216.4L639.0 207.4L638.6 209.9L634.7 207.1ZM648.8 208.9L651.2 210.5L649.0 211.7L659.9 215.3L652.8 206.3L652.4 208.7L650.1 207.1ZM664.1 208.8L666.1 210.8L663.7 211.6L673.8 217.0L668.4 206.9L667.6 209.2L665.6 207.2ZM679.5 208.8L680.2 209.5L677.9 210.3L687.8 215.6L682.5 205.7L681.7 208.0L681.0 207.2ZM695.0 208.6L695.6 209.2L693.7 209.9L701.8 214.2L697.5 206.1L696.8 208.0L696.2 207.4ZM710.4 208.6L711.0 209.2L709.1 209.9L717.2 214.2L712.9 206.1L712.2 208.0L711.6 207.4ZM725.9 208.7L726.6 209.2L724.8 210.2L733.6 213.1L727.9 205.8L727.6 207.8L726.9 207.3ZM741.2 208.7L742.0 209.2L740.2 210.2L749.0 213.1L743.3 205.8L743.0 207.8L742.2 207.3ZM756.6 208.7L757.3 209.2L755.6 210.2L764.3 213.1L758.6 205.8L758.3 207.8L757.6 207.3ZM772.0 208.7L772.7 209.2L771.0 210.2L779.7 213.1L774.0 205.8L773.7 207.8L773.0 207.3ZM788.3 208.8L789.1 208.4L789.0 210.4L795.9 204.3L786.8 205.6L788.3 206.8L787.5 207.2ZM803.7 209.0L804.7 208.5L804.6 210.9L813.0 203.4L801.9 205.1L803.8 206.6L802.8 207.0ZM819.1 209.0L820.1 208.5L820.0 210.9L828.4 203.4L817.3 205.1L819.2 206.6L818.2 207.0ZM834.5 209.0L835.5 208.5L835.4 210.9L843.8 203.4L832.7 205.1L834.5 206.6L833.6 207.0ZM849.9 209.0L850.8 208.5L850.8 210.9L859.2 203.4L848.0 205.1L849.9 206.6L848.9 207.0ZM865.2 209.0L866.2 208.5L866.1 210.9L874.5 203.4L863.4 205.1L865.3 206.6L864.3 207.0ZM880.6 209.0L881.6 208.5L881.5 210.9L889.9 203.4L878.8 205.1L880.7 206.6L879.7 207.0ZM894.9 208.9L895.8 209.5L893.7 210.6L904.4 214.2L897.4 205.4L897.0 207.7L896.2 207.1ZM910.3 208.9L911.2 209.5L909.1 210.6L919.8 214.2L912.8 205.4L912.4 207.7L911.5 207.1ZM925.7 208.9L926.6 209.5L924.4 210.6L935.1 214.2L928.2 205.4L927.8 207.7L926.9 207.1ZM941.1 208.9L941.9 209.5L939.8 210.6L950.5 214.2L943.5 205.4L943.2 207.7L942.3 207.1ZM956.4 208.9L957.3 209.5L955.2 210.6L965.9 214.2L958.9 205.4L958.6 207.7L957.7 207.1ZM971.9 208.7L972.7 209.2L970.9 210.2L979.7 213.1L974.0 205.8L973.7 207.8L972.9 207.3ZM987.3 208.7L988.0 209.2L986.3 210.2L995.0 213.1L989.3 205.8L989.0 207.8L988.3 207.3ZM1002.7 208.7L1003.4 209.2L1001.7 210.2L1010.4 213.1L1004.7 205.8L1004.4 207.8L1003.7 207.3ZM1018.0 208.9L1018.8 209.5L1016.7 210.6L1027.4 214.2L1020.4 205.4L1020.1 207.7L1019.2 207.1ZM1033.5 208.7L1034.2 209.2L1032.4 210.2L1041.2 213.1L1035.5 205.8L1035.2 207.8L1034.5 207.3ZM1048.8 208.7L1049.6 209.2L1047.8 210.2L1056.6 213.1L1050.9 205.8L1050.6 207.8L1049.8 207.3ZM1064.9 208.7L1065.6 208.5L1065.3 210.0L1071.3 206.2L1064.2 206.0L1065.2 207.2L1064.5 207.3ZM1080.3 208.7L1080.9 208.5L1080.6 210.0L1086.7 206.2L1079.6 206.0L1080.6 207.2L1079.9 207.3ZM1095.7 208.7L1096.3 208.5L1096.0 210.0L1102.1 206.2L1094.9 206.0L1096.0 207.2L1095.3 207.3ZM1111.1 208.6L1111.8 208.3L1111.7 209.9L1117.1 205.1L1110.0 206.1L1111.2 207.1L1110.6 207.4ZM1126.6 208.8L1127.4 208.4L1127.4 210.4L1134.2 204.3L1125.1 205.6L1126.7 206.8L1125.9 207.2ZM1141.9 208.6L1142.5 208.3L1142.5 209.9L1147.8 205.1L1140.8 206.1L1142.0 207.1L1141.3 207.4ZM1157.3 208.6L1157.9 208.3L1157.9 209.9L1163.2 205.1L1156.1 206.1L1157.3 207.1L1156.7 207.4ZM1172.7 208.6L1173.3 208.3L1173.2 209.9L1178.6 205.1L1171.5 206.1L1172.7 207.1L1172.1 207.4ZM1188.1 208.8L1188.9 208.4L1188.9 210.4L1195.8 204.3L1186.6 205.6L1188.2 206.8L1187.4 207.2ZM1203.5 208.8L1204.3 208.4L1204.3 210.4L1211.1 204.3L1202.0 205.6L1203.6 206.8L1202.8 207.2ZM1219.0 209.0L1220.0 208.5L1219.9 210.9L1228.3 203.4L1217.2 205.1L1219.0 206.6L1218.1 207.0ZM1234.4 209.0L1235.3 208.5L1235.3 210.9L1243.7 203.4L1232.5 205.1L1234.4 206.6L1233.4 207.0ZM1249.7 209.0L1252.3 207.8L1252.3 210.3L1260.8 202.6L1249.5 204.3L1251.4 205.8L1248.8 207.0ZM1265.1 209.0L1267.7 207.8L1267.6 210.3L1276.2 202.6L1264.8 204.3L1266.8 205.8L1264.2 207.0ZM466.0 223.4L465.4 224.4L464.3 224.4L463.8 223.4L464.3 222.4L465.4 222.4ZM481.4 223.4L480.8 224.4L479.7 224.4L479.2 223.4L479.7 222.4L480.8 222.4ZM496.8 223.4L496.2 224.4L495.1 224.4L494.6 223.4L495.1 222.4L496.2 222.4ZM512.1 223.4L511.6 224.4L510.5 224.4L509.9 223.4L510.5 222.4L511.6 222.4ZM527.5 223.4L527.0 224.4L525.9 224.4L525.3 223.4L525.9 222.4L527.0 222.4ZM542.9 223.4L542.3 224.4L541.2 224.4L540.7 223.4L541.2 222.4L542.3 222.4ZM557.2 223.7L557.5 223.7L557.2 224.3L560.1 223.4L557.2 222.5L557.5 223.1L557.2 223.1ZM572.6 223.7L572.9 223.7L572.6 224.3L575.5 223.4L572.6 222.5L572.9 223.1L572.6 223.1ZM588.5 223.1L588.2 222.5L589.7 222.4L584.5 217.5L586.2 224.4L587.0 223.1L587.3 223.7ZM603.3 222.5L602.4 222.5L603.3 220.8L594.5 223.4L603.3 226.0L602.4 224.3L603.3 224.3ZM618.7 224.1L619.4 224.1L618.7 225.5L625.6 223.4L618.7 221.3L619.4 222.7L618.7 222.7ZM633.1 223.9L634.5 226.4L632.1 226.6L640.4 234.4L637.8 223.3L636.5 225.3L635.0 222.8ZM648.5 223.9L649.9 226.4L647.5 226.6L655.8 234.4L653.2 223.3L651.8 225.3L650.4 222.8ZM664.1 224.2L666.1 226.2L663.7 227.0L673.8 232.4L668.4 222.3L667.6 224.6L665.6 222.6ZM679.5 224.2L680.2 224.9L677.9 225.7L687.8 231.0L682.5 221.1L681.7 223.4L681.0 222.6ZM694.8 224.2L695.6 224.9L693.3 225.7L703.2 231.0L697.9 221.1L697.1 223.4L696.4 222.6ZM710.4 224.0L711.0 224.6L709.1 225.3L717.2 229.6L712.9 221.5L712.2 223.4L711.6 222.8ZM725.9 224.1L726.6 224.6L724.8 225.6L733.6 228.5L727.9 221.2L727.6 223.2L726.9 222.7ZM741.3 224.0L741.9 224.4L740.6 225.1L747.4 227.3L742.9 221.7L742.7 223.2L742.1 222.8ZM756.7 224.0L757.3 224.4L755.9 225.1L762.7 227.3L758.3 221.7L758.1 223.2L757.5 222.8ZM772.0 224.1L772.7 224.6L771.0 225.6L779.7 228.5L774.0 221.2L773.7 223.2L773.0 222.7ZM788.3 224.2L789.1 223.8L789.0 225.8L795.9 219.7L786.8 221.0L788.3 222.2L787.5 222.6ZM803.7 224.4L804.7 223.9L804.6 226.3L813.0 218.8L801.9 220.5L803.8 222.0L802.8 222.4ZM819.1 224.4L820.1 223.9L820.0 226.3L828.4 218.8L817.3 220.5L819.2 222.0L818.2 222.4ZM834.5 224.4L835.5 223.9L835.4 226.3L843.8 218.8L832.7 220.5L834.5 222.0L833.6 222.4ZM849.9 224.4L850.8 223.9L850.8 226.3L859.2 218.8L848.0 220.5L849.9 222.0L848.9 222.4ZM865.2 224.4L866.2 223.9L866.1 226.3L874.5 218.8L863.4 220.5L865.3 222.0L864.3 222.4ZM880.6 224.4L881.6 223.9L881.5 226.3L889.9 218.8L878.8 220.5L880.7 222.0L879.7 222.4ZM895.0 224.1L895.8 224.6L894.0 225.6L902.8 228.5L897.1 221.2L896.8 223.2L896.0 222.7ZM910.4 224.1L911.1 224.6L909.4 225.6L918.1 228.5L912.4 221.2L912.1 223.2L911.4 222.7ZM925.8 224.1L926.5 224.6L924.8 225.6L933.5 228.5L927.8 221.2L927.5 223.2L926.8 222.7ZM941.2 224.1L941.9 224.6L940.2 225.6L948.9 228.5L943.2 221.2L942.9 223.2L942.2 222.7ZM956.6 224.1L957.3 224.6L955.5 225.6L964.3 228.5L958.6 221.2L958.3 223.2L957.6 222.7ZM971.9 224.1L972.7 224.6L970.9 225.6L979.7 228.5L974.0 221.2L973.7 223.2L972.9 222.7ZM987.3 224.1L988.0 224.6L986.3 225.6L995.0 228.5L989.3 221.2L989.0 223.2L988.3 222.7ZM1002.6 224.3L1003.5 224.9L1001.3 226.0L1012.0 229.6L1005.1 220.8L1004.7 223.1L1003.8 222.5ZM1018.0 224.3L1018.8 224.9L1016.7 226.0L1027.4 229.6L1020.4 220.8L1020.1 223.1L1019.2 222.5ZM1033.5 224.1L1034.2 224.6L1032.4 225.6L1041.2 228.5L1035.5 221.2L1035.2 223.2L1034.5 222.7ZM1048.9 224.0L1049.5 224.4L1048.2 225.1L1055.0 227.3L1050.5 221.7L1050.3 223.2L1049.7 222.8ZM1064.8 223.9L1065.3 223.7L1065.1 224.8L1069.5 222.1L1064.3 222.0L1065.1 222.8L1064.6 222.9ZM1080.2 223.9L1080.7 223.7L1080.5 224.8L1084.8 222.1L1079.7 222.0L1080.4 222.8L1080.0 222.9ZM1095.7 224.1L1096.3 223.9L1096.0 225.4L1102.1 221.6L1094.9 221.4L1096.0 222.6L1095.3 222.7ZM1111.1 224.0L1111.8 223.7L1111.7 225.3L1117.1 220.5L1110.0 221.5L1111.2 222.5L1110.6 222.8ZM1126.5 224.0L1127.2 223.7L1127.1 225.3L1132.5 220.5L1125.4 221.5L1126.6 222.5L1126.0 222.8ZM1141.9 224.0L1142.5 223.7L1142.5 225.3L1147.8 220.5L1140.8 221.5L1142.0 222.5L1141.3 222.8ZM1157.3 224.0L1157.9 223.7L1157.9 225.3L1163.2 220.5L1156.1 221.5L1157.3 222.5L1156.7 222.8ZM1172.7 224.0L1173.3 223.7L1173.2 225.3L1178.6 220.5L1171.5 221.5L1172.7 222.5L1172.1 222.8ZM1188.1 224.2L1188.9 223.8L1188.9 225.8L1195.8 219.7L1186.6 221.0L1188.2 222.2L1187.4 222.6ZM1203.5 224.2L1204.3 223.8L1204.3 225.8L1211.1 219.7L1202.0 221.0L1203.6 222.2L1202.8 222.6ZM1218.9 224.2L1219.7 223.8L1219.6 225.8L1226.5 219.7L1217.4 221.0L1218.9 222.2L1218.1 222.6ZM1234.4 224.4L1235.3 223.9L1235.3 226.3L1243.7 218.8L1232.5 220.5L1234.4 222.0L1233.4 222.4ZM1249.7 224.4L1250.7 223.9L1250.6 226.3L1259.0 218.8L1247.9 220.5L1249.8 222.0L1248.8 222.4ZM1265.1 224.4L1266.1 223.9L1266.0 226.3L1274.4 218.8L1263.3 220.5L1265.2 222.0L1264.2 222.4ZM466.0 238.8L465.4 239.8L464.3 239.8L463.8 238.8L464.3 237.8L465.4 237.8ZM481.4 238.8L480.8 239.8L479.7 239.8L479.2 238.8L479.7 237.8L480.8 237.8ZM496.8 238.8L496.2 239.8L495.1 239.8L494.6 238.8L495.1 237.8L496.2 237.8ZM512.1 238.8L511.6 239.8L510.5 239.8L509.9 238.8L510.5 237.8L511.6 237.8ZM527.5 238.8L527.0 239.8L525.9 239.8L525.3 238.8L525.9 237.8L527.0 237.8ZM542.9 238.8L542.3 239.8L541.2 239.8L540.7 238.8L541.2 237.8L542.3 237.8ZM557.2 239.1L557.5 239.1L557.2 239.7L560.1 238.8L557.2 237.9L557.5 238.5L557.2 238.5ZM572.6 239.1L572.9 239.1L572.6 239.7L575.5 238.8L572.6 237.9L572.9 238.5L572.6 238.5ZM588.4 238.6L588.1 238.1L589.2 238.1L585.5 234.6L586.7 239.5L587.3 238.6L587.5 239.0ZM602.4 238.8L602.4 239.7L600.7 238.8L603.3 247.6L606.0 238.8L604.2 239.7L604.2 238.8ZM617.8 238.8L617.8 239.7L616.1 238.8L618.7 247.6L621.3 238.8L619.6 239.7L619.6 238.8ZM633.0 239.0L633.5 241.8L631.1 241.1L636.3 251.3L637.6 239.9L635.7 241.4L635.2 238.6ZM650.5 238.4L650.1 237.4L652.5 237.7L645.8 228.7L646.4 239.9L648.1 238.2L648.4 239.2ZM663.7 238.7L663.5 241.5L661.4 240.2L663.7 251.5L668.0 240.8L665.7 241.7L665.9 238.9ZM679.1 238.7L679.1 239.8L677.0 238.5L679.3 249.5L683.4 239.1L681.2 240.0L681.3 238.9ZM694.5 238.7L694.4 239.8L692.4 238.5L694.7 249.5L698.8 239.1L696.6 240.0L696.7 238.9ZM709.9 238.7L709.8 239.8L707.8 238.5L710.0 249.5L714.2 239.1L712.0 240.0L712.1 238.9ZM725.9 239.5L726.6 240.0L724.8 241.0L733.6 243.9L727.9 236.6L727.6 238.6L726.9 238.1ZM741.3 239.4L741.9 239.8L740.6 240.5L747.4 242.7L742.9 237.1L742.7 238.6L742.1 238.2ZM756.7 239.4L757.3 239.8L755.9 240.5L762.7 242.7L758.3 237.1L758.1 238.6L757.5 238.2ZM772.0 239.5L772.7 240.0L771.0 241.0L779.7 243.9L774.0 236.6L773.7 238.6L773.0 238.1ZM788.3 239.6L789.1 239.2L789.0 241.2L795.9 235.1L786.8 236.4L788.3 237.6L787.5 238.0ZM803.7 239.8L804.7 239.3L804.6 241.7L813.0 234.2L801.9 235.9L803.8 237.4L802.8 237.8ZM819.1 239.8L820.1 239.3L820.0 241.7L828.4 234.2L817.3 235.9L819.2 237.4L818.2 237.8ZM834.5 239.8L835.5 239.3L835.4 241.7L843.8 234.2L832.7 235.9L834.5 237.4L833.6 237.8ZM849.9 239.8L850.8 239.3L850.8 241.7L859.2 234.2L848.0 235.9L849.9 237.4L848.9 237.8ZM865.2 239.6L866.0 239.2L865.9 241.2L872.8 235.1L863.7 236.4L865.2 237.6L864.4 238.0ZM880.4 239.4L881.1 239.1L881.0 240.7L886.4 235.9L879.3 236.9L880.5 237.9L879.9 238.2ZM895.1 239.4L895.7 239.8L894.4 240.5L901.2 242.7L896.7 237.1L896.5 238.6L895.9 238.2ZM910.4 239.5L911.1 240.0L909.4 241.0L918.1 243.9L912.4 236.6L912.1 238.6L911.4 238.1ZM925.8 239.5L926.5 240.0L924.8 241.0L933.5 243.9L927.8 236.6L927.5 238.6L926.8 238.1ZM941.2 239.5L941.9 240.0L940.2 241.0L948.9 243.9L943.2 236.6L942.9 238.6L942.2 238.1ZM956.6 239.5L957.3 240.0L955.5 241.0L964.3 243.9L958.6 236.6L958.3 238.6L957.6 238.1ZM971.9 239.5L972.7 240.0L970.9 241.0L979.7 243.9L974.0 236.6L973.7 238.6L972.9 238.1ZM987.2 239.7L988.1 240.3L986.0 241.4L996.7 245.0L989.7 236.2L989.3 238.5L988.4 237.9ZM1002.6 239.7L1003.5 240.3L1001.3 241.4L1012.0 245.0L1005.1 236.2L1004.7 238.5L1003.8 237.9ZM1018.0 239.7L1018.8 240.3L1016.7 241.4L1027.4 245.0L1020.4 236.2L1020.1 238.5L1019.2 237.9ZM1033.5 239.5L1034.2 240.0L1032.4 241.0L1041.2 243.9L1035.5 236.6L1035.2 238.6L1034.5 238.1ZM1048.9 239.4L1049.5 239.8L1048.2 240.5L1055.0 242.7L1050.5 237.1L1050.3 238.6L1049.7 238.2ZM1064.8 239.3L1065.3 239.1L1065.1 240.2L1069.5 237.5L1064.3 237.4L1065.1 238.2L1064.6 238.3ZM1080.2 239.3L1080.7 239.1L1080.5 240.2L1084.8 237.5L1079.7 237.4L1080.4 238.2L1080.0 238.3ZM1095.6 239.3L1096.1 239.1L1095.9 240.2L1100.2 237.5L1095.1 237.4L1095.8 238.2L1095.4 238.3ZM1111.1 239.4L1111.8 239.1L1111.7 240.7L1117.1 235.9L1110.0 236.9L1111.2 237.9L1110.6 238.2ZM1126.5 239.4L1127.2 239.1L1127.1 240.7L1132.5 235.9L1125.4 236.9L1126.6 237.9L1126.0 238.2ZM1141.9 239.4L1142.5 239.1L1142.5 240.7L1147.8 235.9L1140.8 236.9L1142.0 237.9L1141.3 238.2ZM1157.3 239.4L1157.9 239.1L1157.9 240.7L1163.2 235.9L1156.1 236.9L1157.3 237.9L1156.7 238.2ZM1172.8 239.6L1173.6 239.2L1173.5 241.2L1180.4 235.1L1171.3 236.4L1172.8 237.6L1172.0 238.0ZM1188.1 239.6L1188.9 239.2L1188.9 241.2L1195.8 235.1L1186.6 236.4L1188.2 237.6L1187.4 238.0ZM1203.5 239.6L1204.3 239.2L1204.3 241.2L1211.1 235.1L1202.0 236.4L1203.6 237.6L1202.8 238.0ZM1218.9 239.6L1219.7 239.2L1219.6 241.2L1226.5 235.1L1217.4 236.4L1218.9 237.6L1218.1 238.0ZM1234.3 239.6L1235.1 239.2L1235.0 241.2L1241.9 235.1L1232.8 236.4L1234.3 237.6L1233.5 238.0ZM1249.7 239.6L1250.5 239.2L1250.4 241.2L1257.3 235.1L1248.2 236.4L1249.7 237.6L1248.9 238.0ZM1265.0 239.6L1265.8 239.2L1265.8 241.2L1272.7 235.1L1263.5 236.4L1265.1 237.6L1264.3 238.0ZM466.0 254.2L465.4 255.2L464.3 255.2L463.8 254.2L464.3 253.2L465.4 253.2ZM481.4 254.2L480.8 255.2L479.7 255.2L479.2 254.2L479.7 253.2L480.8 253.2ZM496.8 254.2L496.2 255.2L495.1 255.2L494.6 254.2L495.1 253.2L496.2 253.2ZM512.1 254.2L511.6 255.2L510.5 255.2L509.9 254.2L510.5 253.2L511.6 253.2ZM527.5 254.2L527.0 255.2L525.9 255.2L525.3 254.2L525.9 253.2L527.0 253.2ZM542.9 254.2L542.3 255.2L541.2 255.2L540.7 254.2L541.2 253.2L542.3 253.2ZM558.3 254.2L557.7 255.2L556.6 255.2L556.1 254.2L556.6 253.2L557.7 253.2ZM572.6 254.5L572.9 254.5L572.6 255.1L575.5 254.2L572.6 253.3L572.9 253.9L572.6 253.9ZM589.0 254.2L588.5 255.2L587.4 255.2L586.8 254.2L587.4 253.2L588.5 253.2ZM602.6 254.2L602.6 254.9L601.3 254.2L603.3 261.1L605.4 254.2L604.0 254.9L604.0 254.2ZM617.8 254.2L617.8 255.1L616.1 254.2L618.7 263.0L621.3 254.2L619.6 255.1L619.6 254.2ZM634.8 254.6L635.3 253.9L636.4 255.5L638.5 246.6L631.8 252.9L633.8 253.0L633.3 253.8ZM648.4 254.0L648.2 255.1L646.3 253.6L647.6 264.8L652.6 254.8L650.3 255.4L650.5 254.4ZM663.8 254.1L663.7 255.2L661.6 253.9L663.9 264.9L668.1 254.5L665.8 255.4L665.9 254.3ZM679.1 254.1L679.1 255.2L677.0 253.9L679.3 264.9L683.4 254.5L681.2 255.4L681.3 254.3ZM694.5 254.1L694.4 255.2L692.4 253.9L694.7 264.9L698.8 254.5L696.6 255.4L696.7 254.3ZM710.1 254.1L710.0 255.0L708.3 254.0L710.2 263.0L713.6 254.4L711.8 255.2L711.9 254.3ZM726.4 255.1L727.2 255.1L726.4 256.8L735.2 254.2L726.4 251.6L727.2 253.3L726.4 253.3ZM742.1 254.8L742.7 254.5L742.8 256.0L747.7 250.8L740.7 252.4L742.0 253.3L741.4 253.6ZM757.6 255.0L758.3 254.5L758.4 256.5L764.8 249.8L755.8 251.9L757.4 253.0L756.7 253.4ZM772.9 255.0L773.7 254.5L773.8 256.5L780.1 249.8L771.2 251.9L772.8 253.0L772.1 253.4ZM788.4 255.1L789.4 254.6L789.5 257.0L797.2 248.8L786.3 251.4L788.3 252.7L787.3 253.3ZM803.8 255.1L804.7 254.6L804.9 257.0L812.6 248.8L801.6 251.4L803.7 252.7L802.7 253.3ZM819.2 255.1L820.1 254.6L820.3 257.0L828.0 248.8L817.0 251.4L819.0 252.7L818.1 253.3ZM834.5 255.0L835.2 254.5L835.3 256.5L841.7 249.8L832.7 251.9L834.3 253.0L833.6 253.4ZM849.8 255.0L850.6 254.5L850.7 256.5L857.0 249.8L848.1 251.9L849.7 253.0L849.0 253.4ZM865.1 254.8L865.7 254.5L865.8 256.0L870.7 250.8L863.8 252.4L865.0 253.3L864.4 253.6ZM880.5 254.8L881.1 254.5L881.2 256.0L886.1 250.8L879.1 252.4L880.4 253.3L879.8 253.6ZM895.1 254.8L895.7 255.2L894.4 255.9L901.2 258.1L896.7 252.5L896.5 254.0L895.9 253.6ZM910.5 254.8L911.1 255.2L909.7 255.9L916.5 258.1L912.1 252.5L911.9 254.0L911.3 253.6ZM925.8 254.9L926.5 255.4L924.8 256.4L933.5 259.3L927.8 252.0L927.5 254.0L926.8 253.5ZM941.2 254.9L941.9 255.4L940.2 256.4L948.9 259.3L943.2 252.0L942.9 254.0L942.2 253.5ZM956.6 254.9L957.3 255.4L955.5 256.4L964.3 259.3L958.6 252.0L958.3 254.0L957.6 253.5ZM971.9 254.9L972.7 255.4L970.9 256.4L979.7 259.3L974.0 252.0L973.7 254.0L972.9 253.5ZM987.3 254.9L988.0 255.4L986.3 256.4L995.0 259.3L989.3 252.0L989.0 254.0L988.3 253.5ZM1002.6 255.1L1003.5 255.7L1001.3 256.8L1012.0 260.4L1005.1 251.6L1004.7 253.9L1003.8 253.3ZM1018.0 255.1L1018.8 255.7L1016.7 256.8L1027.4 260.4L1020.4 251.6L1020.1 253.9L1019.2 253.3ZM1033.5 254.9L1034.2 255.4L1032.4 256.4L1041.2 259.3L1035.5 252.0L1035.2 254.0L1034.5 253.5ZM1048.9 254.8L1049.5 255.2L1048.2 255.9L1055.0 258.1L1050.5 252.5L1050.3 254.0L1049.7 253.6ZM1064.8 254.7L1065.3 254.5L1065.1 255.6L1069.5 252.9L1064.3 252.8L1065.1 253.6L1064.6 253.7ZM1080.2 254.7L1080.7 254.5L1080.5 255.6L1084.8 252.9L1079.7 252.8L1080.4 253.6L1080.0 253.7ZM1095.7 254.9L1096.3 254.7L1096.0 256.2L1102.1 252.4L1094.9 252.2L1096.0 253.4L1095.3 253.5ZM1111.1 254.8L1111.7 254.6L1111.6 256.1L1117.3 251.9L1110.2 252.3L1111.3 253.3L1110.6 253.6ZM1126.5 255.0L1127.4 254.7L1127.1 256.7L1134.5 251.2L1125.3 251.7L1126.8 253.1L1125.9 253.4ZM1141.9 255.0L1142.8 254.7L1142.5 256.7L1149.9 251.2L1140.7 251.7L1142.1 253.1L1141.3 253.4ZM1157.3 255.0L1158.1 254.7L1157.9 256.7L1165.3 251.2L1156.1 251.7L1157.5 253.1L1156.7 253.4ZM1172.7 255.0L1173.5 254.7L1173.3 256.7L1180.7 251.2L1171.5 251.7L1172.9 253.1L1172.1 253.4ZM1188.1 255.0L1188.9 254.7L1188.7 256.7L1196.0 251.2L1186.9 251.7L1188.3 253.1L1187.5 253.4ZM1203.4 255.0L1204.3 254.7L1204.0 256.7L1211.4 251.2L1202.2 251.7L1203.7 253.1L1202.8 253.4ZM1218.8 255.0L1219.7 254.7L1219.4 256.7L1226.8 251.2L1217.6 251.7L1219.0 253.1L1218.2 253.4ZM1234.1 254.8L1234.8 254.6L1234.6 256.1L1240.3 251.9L1233.2 252.3L1234.3 253.3L1233.7 253.6ZM1249.5 254.8L1250.2 254.6L1250.0 256.1L1255.7 251.9L1248.6 252.3L1249.7 253.3L1249.0 253.6ZM1264.9 254.8L1265.5 254.6L1265.4 256.1L1271.1 251.9L1264.0 252.3L1265.1 253.3L1264.4 253.6ZM466.0 269.6L465.4 270.6L464.3 270.6L463.8 269.6L464.3 268.6L465.4 268.6ZM481.4 269.6L480.8 270.6L479.7 270.6L479.2 269.6L479.7 268.6L480.8 268.6ZM496.8 269.6L496.2 270.6L495.1 270.6L494.6 269.6L495.1 268.6L496.2 268.6ZM512.1 269.6L511.6 270.6L510.5 270.6L509.9 269.6L510.5 268.6L511.6 268.6ZM527.5 269.6L527.0 270.6L525.9 270.6L525.3 269.6L525.9 268.6L527.0 268.6ZM542.9 269.6L542.3 270.6L541.2 270.6L540.7 269.6L541.2 268.6L542.3 268.6ZM558.3 269.6L557.7 270.6L556.6 270.6L556.1 269.6L556.6 268.6L557.7 268.6ZM573.7 269.6L573.1 270.6L572.0 270.6L571.5 269.6L572.0 268.6L573.1 268.6ZM588.1 269.8L588.4 269.6L588.6 270.2L590.0 267.5L587.3 269.0L587.9 269.2L587.7 269.4ZM604.1 268.8L604.4 269.9L603.6 270.7L602.5 270.4L602.3 269.3L603.0 268.5ZM619.0 269.9L619.4 269.6L619.7 270.6L622.2 266.1L617.7 268.6L618.7 268.9L618.4 269.3ZM634.6 270.1L635.1 269.6L635.5 271.1L638.9 264.7L632.6 268.1L634.1 268.6L633.6 269.1ZM648.6 269.4L648.4 270.3L646.9 269.1L647.9 278.3L652.1 270.1L650.2 270.6L650.3 269.8ZM663.8 269.5L663.7 270.6L661.6 269.3L663.9 280.3L668.1 269.9L665.8 270.8L665.9 269.7ZM679.1 269.5L679.1 270.6L677.0 269.3L679.3 280.3L683.4 269.9L681.2 270.8L681.3 269.7ZM694.5 269.5L694.3 272.3L692.2 271.0L694.5 282.3L698.7 271.6L696.4 272.5L696.7 269.7ZM709.9 269.5L709.8 270.6L707.8 269.3L710.0 280.3L714.2 269.9L712.0 270.8L712.1 269.7ZM726.4 270.5L727.2 270.5L726.4 272.2L735.2 269.6L726.4 267.0L727.2 268.7L726.4 268.7ZM742.2 270.4L742.9 269.9L743.1 271.9L749.4 265.2L740.4 267.3L742.1 268.4L741.3 268.8ZM757.7 270.5L758.6 270.0L758.7 272.4L766.5 264.2L755.5 266.8L757.5 268.1L756.6 268.7ZM773.0 270.5L774.0 270.0L774.1 272.4L781.8 264.2L770.9 266.8L772.9 268.1L772.0 268.7ZM788.4 270.5L789.4 270.0L789.5 272.4L797.2 264.2L786.3 266.8L788.3 268.1L787.3 268.7ZM803.8 270.5L804.7 270.0L804.9 272.4L812.6 264.2L801.6 266.8L803.7 268.1L802.7 268.7ZM819.1 270.4L819.8 269.9L820.0 271.9L826.3 265.2L817.3 267.3L819.0 268.4L818.2 268.8ZM834.5 270.4L835.2 269.9L835.3 271.9L841.7 265.2L832.7 267.3L834.3 268.4L833.6 268.8ZM849.8 270.4L850.6 269.9L850.7 271.9L857.0 265.2L848.1 267.3L849.7 268.4L849.0 268.8ZM865.1 270.2L865.7 269.9L865.8 271.4L870.7 266.2L863.8 267.8L865.0 268.7L864.4 269.0ZM880.5 270.2L881.1 269.9L881.2 271.4L886.1 266.2L879.1 267.8L880.4 268.7L879.8 269.0ZM895.1 270.2L895.7 270.6L894.4 271.3L901.2 273.5L896.7 267.9L896.5 269.4L895.9 269.0ZM910.5 270.2L911.1 270.6L909.7 271.3L916.5 273.5L912.1 267.9L911.9 269.4L911.3 269.0ZM925.9 270.2L926.5 270.6L925.1 271.3L931.9 273.5L927.5 267.9L927.3 269.4L926.7 269.0ZM941.2 270.3L941.9 270.8L940.2 271.8L948.9 274.7L943.2 267.4L942.9 269.4L942.2 268.9ZM956.6 270.3L957.3 270.8L955.5 271.8L964.3 274.7L958.6 267.4L958.3 269.4L957.6 268.9ZM971.9 270.3L972.7 270.8L970.9 271.8L979.7 274.7L974.0 267.4L973.7 269.4L972.9 268.9ZM987.2 270.5L988.1 271.1L986.0 272.2L996.7 275.8L989.7 267.0L989.3 269.3L988.4 268.7ZM1002.6 270.5L1003.5 271.1L1001.3 272.2L1012.0 275.8L1005.1 267.0L1004.7 269.3L1003.8 268.7ZM1018.0 270.5L1018.8 271.1L1016.7 272.2L1027.4 275.8L1020.4 267.0L1020.1 269.3L1019.2 268.7ZM1033.3 270.5L1034.2 271.1L1032.1 272.2L1042.8 275.8L1035.8 267.0L1035.5 269.3L1034.6 268.7ZM1048.8 270.3L1049.6 270.8L1047.8 271.8L1056.6 274.7L1050.9 267.4L1050.6 269.4L1049.8 268.9ZM1064.9 270.3L1065.6 270.1L1065.3 271.6L1071.3 267.8L1064.2 267.6L1065.2 268.8L1064.5 268.9ZM1080.3 270.3L1080.9 270.1L1080.6 271.6L1086.7 267.8L1079.6 267.6L1080.6 268.8L1079.9 268.9ZM1095.8 270.6L1096.8 270.4L1096.3 272.7L1105.9 266.8L1094.6 266.5L1096.2 268.3L1095.2 268.6ZM1111.2 270.6L1112.2 270.2L1112.0 272.6L1121.0 265.9L1109.8 266.6L1111.5 268.2L1110.5 268.6ZM1126.5 270.4L1127.4 270.1L1127.1 272.1L1134.5 266.6L1125.3 267.1L1126.8 268.5L1125.9 268.8ZM1141.9 270.4L1142.8 270.1L1142.5 272.1L1149.9 266.6L1140.7 267.1L1142.1 268.5L1141.3 268.8ZM1157.3 270.4L1158.1 270.1L1157.9 272.1L1165.3 266.6L1156.1 267.1L1157.5 268.5L1156.7 268.8ZM1172.7 270.4L1173.5 270.1L1173.3 272.1L1180.7 266.6L1171.5 267.1L1172.9 268.5L1172.1 268.8ZM1188.1 270.4L1188.9 270.1L1188.7 272.1L1196.0 266.6L1186.9 267.1L1188.3 268.5L1187.5 268.8ZM1203.4 270.4L1204.3 270.1L1204.0 272.1L1211.4 266.6L1202.2 267.1L1203.7 268.5L1202.8 268.8ZM1218.8 270.2L1219.4 270.0L1219.2 271.5L1225.0 267.3L1217.8 267.7L1218.9 268.7L1218.3 269.0ZM1234.1 270.2L1234.8 270.0L1234.6 271.5L1240.3 267.3L1233.2 267.7L1234.3 268.7L1233.7 269.0ZM1249.5 270.2L1250.2 270.0L1250.0 271.5L1255.7 267.3L1248.6 267.7L1249.7 268.7L1249.0 269.0ZM1264.9 270.2L1265.5 270.0L1265.4 271.5L1271.1 267.3L1264.0 267.7L1265.1 268.7L1264.4 269.0ZM466.0 285.0L465.4 286.0L464.3 286.0L463.8 285.0L464.3 284.0L465.4 284.0ZM481.4 285.0L480.8 286.0L479.7 286.0L479.2 285.0L479.7 284.0L480.8 284.0ZM496.8 285.0L496.2 286.0L495.1 286.0L494.6 285.0L495.1 284.0L496.2 284.0ZM512.1 285.0L511.6 286.0L510.5 286.0L509.9 285.0L510.5 284.0L511.6 284.0ZM527.5 285.0L527.0 286.0L525.9 286.0L525.3 285.0L525.9 284.0L527.0 284.0ZM542.9 285.0L542.3 286.0L541.2 286.0L540.7 285.0L541.2 284.0L542.3 284.0ZM558.3 285.0L557.7 286.0L556.6 286.0L556.1 285.0L556.6 284.0L557.7 284.0ZM572.6 285.3L572.9 285.3L572.6 285.9L575.5 285.0L572.6 284.1L572.9 284.7L572.6 284.7ZM588.1 285.2L588.4 285.0L588.6 285.6L590.0 282.9L587.3 284.4L587.9 284.6L587.7 284.8ZM603.5 285.2L603.7 285.0L603.9 285.6L605.4 282.9L602.7 284.4L603.3 284.6L603.1 284.8ZM618.9 285.2L619.1 285.0L619.3 285.6L620.8 282.9L618.1 284.4L618.7 284.6L618.5 284.8ZM634.3 285.2L634.5 285.0L634.7 285.6L636.2 282.9L633.5 284.4L634.1 284.6L633.9 284.8ZM648.6 284.8L648.4 285.7L646.9 284.5L647.9 293.7L652.1 285.5L650.2 286.0L650.3 285.2ZM663.8 284.9L663.7 286.0L661.6 284.7L663.9 295.7L668.1 285.3L665.8 286.2L665.9 285.1ZM679.1 284.9L678.9 287.7L676.8 286.4L679.1 297.7L683.4 287.0L681.1 287.9L681.3 285.1ZM694.5 284.9L694.3 287.7L692.2 286.4L694.5 297.7L698.7 287.0L696.4 287.9L696.7 285.1ZM709.9 284.9L709.6 287.7L707.5 286.4L709.9 297.7L714.1 287.0L711.8 287.9L712.1 285.1ZM726.4 286.1L727.4 286.1L726.4 288.2L737.1 285.0L726.4 281.8L727.4 283.9L726.4 283.9ZM742.3 285.9L743.2 285.4L743.4 287.8L751.1 279.6L740.1 282.2L742.1 283.5L741.2 284.1ZM757.7 285.9L758.6 285.4L758.7 287.8L766.5 279.6L755.5 282.2L757.5 283.5L756.6 284.1ZM773.0 286.0L775.5 284.5L775.7 287.0L783.5 278.6L772.4 281.3L774.4 282.6L772.0 284.0ZM788.4 285.9L789.4 285.4L789.5 287.8L797.2 279.6L786.3 282.2L788.3 283.5L787.3 284.1ZM803.8 285.9L804.7 285.4L804.9 287.8L812.6 279.6L801.6 282.2L803.7 283.5L802.7 284.1ZM819.1 285.8L819.8 285.3L820.0 287.3L826.3 280.6L817.3 282.7L819.0 283.8L818.2 284.2ZM834.5 285.8L835.2 285.3L835.3 287.3L841.7 280.6L832.7 282.7L834.3 283.8L833.6 284.2ZM849.8 285.8L850.6 285.3L850.7 287.3L857.0 280.6L848.1 282.7L849.7 283.8L849.0 284.2ZM865.1 285.6L865.7 285.3L865.8 286.8L870.7 281.6L863.8 283.2L865.0 284.1L864.4 284.4ZM880.5 285.6L881.1 285.3L881.2 286.8L886.1 281.6L879.1 283.2L880.4 284.1L879.8 284.4ZM895.3 285.4L895.7 285.7L894.7 286.2L899.6 287.8L896.4 283.8L896.2 284.9L895.8 284.6ZM910.5 285.6L911.1 286.0L909.7 286.7L916.5 288.9L912.1 283.3L911.9 284.8L911.3 284.4ZM925.9 285.6L926.5 286.0L925.1 286.7L931.9 288.9L927.5 283.3L927.3 284.8L926.7 284.4ZM941.2 285.7L941.9 286.2L940.2 287.2L948.9 290.1L943.2 282.8L942.9 284.8L942.2 284.3ZM956.6 285.7L957.3 286.2L955.5 287.2L964.3 290.1L958.6 282.8L958.3 284.8L957.6 284.3ZM971.9 285.7L972.7 286.2L970.9 287.2L979.7 290.1L974.0 282.8L973.7 284.8L972.9 284.3ZM987.2 285.9L988.1 286.5L986.0 287.6L996.7 291.2L989.7 282.4L989.3 284.7L988.4 284.1ZM1002.6 285.9L1003.5 286.5L1001.3 287.6L1012.0 291.2L1005.1 282.4L1004.7 284.7L1003.8 284.1ZM1018.0 285.9L1018.8 286.5L1016.7 287.6L1027.4 291.2L1020.4 282.4L1020.1 284.7L1019.2 284.1ZM1033.3 285.9L1034.2 286.5L1032.1 287.6L1042.8 291.2L1035.8 282.4L1035.5 284.7L1034.6 284.1ZM1049.5 286.1L1050.6 285.9L1049.9 288.2L1060.0 283.1L1048.8 281.8L1050.2 283.8L1049.2 283.9ZM1064.9 286.1L1066.0 285.9L1065.3 288.2L1075.3 283.1L1064.2 281.8L1065.6 283.8L1064.5 283.9ZM1080.3 286.1L1081.3 285.9L1080.7 288.2L1090.7 283.1L1079.5 281.8L1081.0 283.8L1079.9 283.9ZM1095.7 286.1L1096.7 285.9L1096.0 288.2L1106.1 283.1L1094.9 281.8L1096.4 283.8L1095.3 283.9ZM1111.2 286.0L1112.2 285.6L1112.0 288.0L1121.0 281.3L1109.8 282.0L1111.5 283.6L1110.5 284.0ZM1126.6 286.0L1127.6 285.6L1127.3 288.0L1136.4 281.3L1125.1 282.0L1126.9 283.6L1125.9 284.0ZM1141.9 285.8L1142.8 285.5L1142.5 287.5L1149.9 282.0L1140.7 282.5L1142.1 283.9L1141.3 284.2ZM1157.3 285.8L1158.1 285.5L1157.9 287.5L1165.3 282.0L1156.1 282.5L1157.5 283.9L1156.7 284.2ZM1172.7 285.8L1173.5 285.5L1173.3 287.5L1180.7 282.0L1171.5 282.5L1172.9 283.9L1172.1 284.2ZM1188.1 285.8L1188.9 285.5L1188.7 287.5L1196.0 282.0L1186.9 282.5L1188.3 283.9L1187.5 284.2ZM1203.4 285.6L1204.0 285.4L1203.8 286.9L1209.6 282.7L1202.4 283.1L1203.6 284.1L1202.9 284.4ZM1218.8 285.6L1219.4 285.4L1219.2 286.9L1225.0 282.7L1217.8 283.1L1218.9 284.1L1218.3 284.4ZM1234.1 285.6L1234.8 285.4L1234.6 286.9L1240.3 282.7L1233.2 283.1L1234.3 284.1L1233.7 284.4ZM1249.5 285.6L1250.2 285.4L1250.0 286.9L1255.7 282.7L1248.6 283.1L1249.7 284.1L1249.0 284.4ZM1264.9 285.6L1265.5 285.4L1265.4 286.9L1271.1 282.7L1264.0 283.1L1265.1 284.1L1264.4 284.4ZM466.0 300.4L465.4 301.4L464.3 301.4L463.8 300.4L464.3 299.4L465.4 299.4ZM481.4 300.4L480.8 301.4L479.7 301.4L479.2 300.4L479.7 299.4L480.8 299.4ZM496.8 300.4L496.2 301.4L495.1 301.4L494.6 300.4L495.1 299.4L496.2 299.4ZM512.1 300.4L511.6 301.4L510.5 301.4L509.9 300.4L510.5 299.4L511.6 299.4ZM527.5 300.4L527.0 301.4L525.9 301.4L525.3 300.4L525.9 299.4L527.0 299.4ZM541.8 300.7L542.1 300.7L541.8 301.3L544.7 300.4L541.8 299.5L542.1 300.1L541.8 300.1ZM557.2 300.7L557.5 300.7L557.2 301.3L560.1 300.4L557.2 299.5L557.5 300.1L557.2 300.1ZM572.6 300.9L573.0 300.9L572.6 301.9L577.5 300.4L572.6 298.9L573.0 299.9L572.6 299.9ZM588.1 300.6L588.4 300.4L588.6 301.0L590.0 298.3L587.3 299.8L587.9 300.0L587.7 300.2ZM603.5 300.6L603.7 300.4L603.9 301.0L605.4 298.3L602.7 299.8L603.3 300.0L603.1 300.2ZM618.9 300.6L619.1 300.4L619.3 301.0L620.8 298.3L618.1 299.8L618.7 300.0L618.5 300.2ZM634.4 300.7L634.8 300.4L635.1 301.4L637.5 296.9L633.0 299.4L634.1 299.7L633.7 300.1ZM648.6 300.2L648.4 301.1L646.9 299.9L647.9 309.1L652.1 300.9L650.2 301.4L650.3 300.6ZM663.8 300.3L663.7 301.4L661.6 300.1L663.9 311.1L668.1 300.7L665.8 301.6L665.9 300.5ZM679.1 300.3L678.9 303.1L676.8 301.8L679.1 313.1L683.4 302.4L681.1 303.3L681.3 300.5ZM694.5 300.3L694.3 303.1L692.2 301.8L694.5 313.1L698.7 302.4L696.4 303.3L696.7 300.5ZM709.9 300.3L709.5 305.1L707.4 303.8L709.7 315.0L713.9 304.4L711.7 305.3L712.1 300.5ZM726.4 301.5L729.2 301.5L728.1 303.7L739.1 300.4L728.1 297.1L729.2 299.3L726.4 299.3ZM742.3 301.4L744.7 299.9L744.9 302.4L752.8 294.0L741.6 296.7L743.6 298.0L741.2 299.4ZM757.7 301.4L760.1 299.9L760.3 302.4L768.2 294.0L757.0 296.7L759.0 298.0L756.6 299.4ZM773.0 301.4L775.5 299.9L775.7 302.4L783.5 294.0L772.4 296.7L774.4 298.0L772.0 299.4ZM788.4 301.3L789.4 300.8L789.5 303.2L797.2 295.0L786.3 297.6L788.3 298.9L787.3 299.5ZM803.8 301.3L804.7 300.8L804.9 303.2L812.6 295.0L801.6 297.6L803.7 298.9L802.7 299.5ZM819.2 301.3L820.1 300.8L820.3 303.2L828.0 295.0L817.0 297.6L819.0 298.9L818.1 299.5ZM834.5 301.2L835.2 300.7L835.3 302.7L841.7 296.0L832.7 298.1L834.3 299.2L833.6 299.6ZM849.8 301.2L850.6 300.7L850.7 302.7L857.0 296.0L848.1 298.1L849.7 299.2L849.0 299.6ZM865.2 301.2L866.0 300.7L866.1 302.7L872.4 296.0L863.5 298.1L865.1 299.2L864.3 299.6ZM880.6 301.2L881.4 300.7L881.5 302.7L887.8 296.0L878.8 298.1L880.5 299.2L879.7 299.6ZM895.1 301.0L895.7 301.4L894.4 302.1L901.2 304.3L896.7 298.7L896.5 300.2L895.9 299.8ZM910.5 301.0L911.1 301.4L909.7 302.1L916.5 304.3L912.1 298.7L911.9 300.2L911.3 299.8ZM925.9 301.0L926.5 301.4L925.1 302.1L931.9 304.3L927.5 298.7L927.3 300.2L926.7 299.8ZM941.2 301.1L941.9 301.6L940.2 302.6L948.9 305.5L943.2 298.2L942.9 300.2L942.2 299.7ZM956.6 301.1L957.3 301.6L955.5 302.6L964.3 305.5L958.6 298.2L958.3 300.2L957.6 299.7ZM971.9 301.1L972.7 301.6L970.9 302.6L979.7 305.5L974.0 298.2L973.7 300.2L972.9 299.7ZM987.2 301.3L988.1 301.9L986.0 303.0L996.7 306.6L989.7 297.8L989.3 300.1L988.4 299.5ZM1002.6 301.3L1003.5 301.9L1001.3 303.0L1012.0 306.6L1005.1 297.8L1004.7 300.1L1003.8 299.5ZM1017.9 301.3L1020.3 302.9L1018.1 304.1L1029.0 307.7L1021.9 298.7L1021.5 301.1L1019.2 299.5ZM1033.3 301.3L1035.7 302.9L1033.5 304.1L1044.4 307.7L1037.3 298.7L1036.9 301.1L1034.6 299.5ZM1049.5 301.5L1054.3 300.6L1053.6 303.0L1063.8 297.8L1052.4 296.5L1053.9 298.5L1049.1 299.3ZM1064.9 301.5L1067.7 301.0L1067.0 303.3L1077.3 298.2L1065.9 296.8L1067.3 298.8L1064.5 299.3ZM1080.3 301.5L1083.1 301.0L1082.4 303.3L1092.6 298.2L1081.2 296.8L1082.7 298.8L1079.9 299.3ZM1095.7 301.5L1096.7 301.3L1096.0 303.6L1106.1 298.5L1094.9 297.2L1096.4 299.2L1095.3 299.3ZM1111.1 301.4L1112.2 301.2L1111.7 303.5L1121.3 297.6L1110.0 297.3L1111.6 299.1L1110.6 299.4ZM1126.5 301.4L1127.6 301.2L1127.1 303.5L1136.7 297.6L1125.4 297.3L1127.0 299.1L1126.0 299.4ZM1141.9 301.4L1142.9 301.2L1142.5 303.5L1152.0 297.6L1140.8 297.3L1142.4 299.1L1141.3 299.4ZM1157.3 301.4L1158.3 301.2L1157.8 303.5L1167.4 297.6L1156.2 297.3L1157.8 299.1L1156.7 299.4ZM1172.7 301.4L1173.7 301.2L1173.2 303.5L1182.8 297.6L1171.5 297.3L1173.1 299.1L1172.1 299.4ZM1188.0 301.3L1188.8 301.0L1188.4 303.0L1196.3 298.1L1187.1 297.8L1188.4 299.3L1187.5 299.5ZM1203.4 301.3L1204.2 301.0L1203.8 303.0L1211.7 298.1L1202.5 297.8L1203.8 299.3L1202.9 299.5ZM1218.7 301.3L1219.6 301.0L1219.2 303.0L1227.0 298.1L1217.8 297.8L1219.1 299.3L1218.3 299.5ZM1234.1 301.1L1234.7 300.9L1234.4 302.4L1240.5 298.6L1233.4 298.4L1234.4 299.6L1233.7 299.7ZM1249.5 301.1L1250.1 300.9L1249.8 302.4L1255.9 298.6L1248.7 298.4L1249.8 299.6L1249.1 299.7ZM1264.8 301.1L1265.5 300.9L1265.2 302.4L1271.3 298.6L1264.1 298.4L1265.1 299.6L1264.5 299.7ZM464.9 316.5L465.6 316.5L464.9 317.9L471.8 315.8L464.9 313.7L465.6 315.1L464.9 315.1ZM480.3 316.9L481.4 316.9L480.3 319.0L491.1 315.8L480.3 312.6L481.4 314.7L480.3 314.7ZM495.7 316.9L498.5 316.9L497.4 319.1L508.4 315.8L497.4 312.5L498.5 314.7L495.7 314.7ZM511.0 316.9L513.9 316.9L512.8 319.1L523.8 315.8L512.8 312.5L513.9 314.7L511.0 314.7ZM526.4 316.9L529.3 316.9L528.2 319.1L539.2 315.8L528.2 312.5L529.3 314.7L526.4 314.7ZM541.8 316.9L544.6 316.9L543.5 319.1L554.5 315.8L543.5 312.5L544.6 314.7L541.8 314.7ZM557.2 316.9L560.0 316.9L558.9 319.1L569.9 315.8L558.9 312.5L560.0 314.7L557.2 314.7ZM572.6 316.9L573.6 316.9L572.6 319.0L583.3 315.8L572.6 312.6L573.6 314.7L572.6 314.7ZM588.6 315.2L587.9 314.6L589.8 313.9L581.7 309.6L586.1 317.7L586.7 315.8L587.3 316.4ZM603.2 316.1L603.4 316.2L602.9 316.6L605.9 317.3L603.8 315.0L603.7 315.7L603.5 315.5ZM618.6 316.1L618.8 316.2L618.3 316.6L621.2 317.3L619.1 315.0L619.1 315.7L618.8 315.5ZM633.8 316.2L634.3 316.5L633.3 317.1L638.3 318.2L634.8 314.5L634.7 315.6L634.3 315.4ZM649.0 316.6L649.8 317.0L648.1 318.1L657.1 320.2L650.8 313.5L650.7 315.5L649.9 315.0ZM664.1 316.6L664.8 317.3L662.6 318.1L672.5 323.4L667.1 313.5L666.4 315.8L665.6 315.0ZM679.4 316.6L681.5 318.6L679.1 319.4L689.2 324.8L683.8 314.7L683.0 317.0L681.0 315.0ZM694.8 316.6L696.8 318.6L694.5 319.4L704.6 324.8L699.2 314.7L698.4 317.0L696.4 315.0ZM711.3 316.9L715.9 315.6L715.4 318.0L725.2 312.0L713.7 311.7L715.3 313.5L710.7 314.7ZM726.6 316.9L729.4 316.1L728.9 318.5L738.7 312.5L727.2 312.2L728.8 314.0L726.1 314.7ZM742.0 316.9L744.8 316.1L744.3 318.5L754.0 312.5L742.6 312.2L744.2 314.0L741.5 314.7ZM757.4 316.9L760.1 316.1L759.7 318.5L769.4 312.5L757.9 312.2L759.6 314.0L756.8 314.7ZM772.8 316.9L775.5 316.1L775.0 318.5L784.8 312.5L773.3 312.2L775.0 314.0L772.2 314.7ZM788.2 316.8L789.2 316.6L788.7 318.9L798.3 313.0L787.0 312.7L788.6 314.5L787.6 314.8ZM803.5 316.8L804.6 316.6L804.1 318.9L813.7 313.0L802.4 312.7L804.0 314.5L803.0 314.8ZM818.9 316.8L820.0 316.6L819.5 318.9L829.1 313.0L817.8 312.7L819.4 314.5L818.4 314.8ZM834.2 316.7L835.1 316.4L834.7 318.4L842.5 313.5L833.3 313.2L834.6 314.7L833.8 314.9ZM849.6 316.7L850.5 316.4L850.1 318.4L857.9 313.5L848.7 313.2L850.0 314.7L849.2 314.9ZM865.0 316.7L865.9 316.4L865.5 318.4L873.3 313.5L864.1 313.2L865.4 314.7L864.6 314.9ZM880.4 316.7L881.2 316.4L880.8 318.4L888.7 313.5L879.5 313.2L880.8 314.7L879.9 314.9ZM895.2 316.4L895.8 316.7L894.5 317.6L901.5 319.2L896.6 314.0L896.5 315.5L895.9 315.2ZM910.6 316.4L911.2 316.7L909.9 317.6L916.9 319.2L911.9 314.0L911.9 315.5L911.3 315.2ZM926.0 316.4L926.6 316.7L925.3 317.6L932.2 319.2L927.3 314.0L927.2 315.5L926.6 315.2ZM941.2 316.6L942.0 317.0L940.4 318.1L949.3 320.2L943.0 313.5L942.9 315.5L942.1 315.0ZM956.6 316.6L957.4 317.0L955.7 318.1L964.7 320.2L958.4 313.5L958.3 315.5L957.5 315.0ZM972.0 316.6L972.8 317.0L971.1 318.1L980.1 320.2L973.8 313.5L973.6 315.5L972.9 315.0ZM987.3 316.7L988.2 317.3L986.2 318.6L997.2 321.2L989.4 313.0L989.3 315.4L988.4 314.9ZM1002.7 316.7L1003.6 317.3L1001.6 318.6L1012.5 321.2L1004.8 313.0L1004.7 315.4L1003.7 314.9ZM1018.0 316.8L1020.5 318.2L1018.4 319.5L1029.6 322.2L1021.7 313.8L1021.6 316.3L1019.1 314.8ZM1033.6 316.8L1036.3 317.8L1034.5 319.5L1045.9 320.2L1036.7 313.3L1037.0 315.7L1034.3 314.8ZM1049.0 316.8L1053.5 318.5L1051.7 320.2L1063.2 320.8L1053.9 314.0L1054.2 316.4L1049.7 314.8ZM1064.3 316.8L1068.9 318.5L1067.1 320.2L1078.5 320.8L1069.3 314.0L1069.6 316.4L1065.1 314.8ZM1079.7 316.8L1082.4 317.8L1080.6 319.5L1092.1 320.2L1082.9 313.3L1083.1 315.7L1080.5 314.8ZM1095.1 316.8L1097.8 317.8L1096.0 319.5L1107.5 320.2L1098.2 313.3L1098.5 315.7L1095.9 314.8ZM1111.1 316.9L1113.9 316.1L1113.4 318.5L1123.2 312.5L1111.7 312.2L1113.3 314.0L1110.6 314.7ZM1126.5 316.8L1127.6 316.6L1127.1 318.9L1136.7 313.0L1125.4 312.7L1127.0 314.5L1126.0 314.8ZM1141.9 316.8L1142.9 316.6L1142.5 318.9L1152.0 313.0L1140.8 312.7L1142.4 314.5L1141.3 314.8ZM1157.3 316.8L1158.3 316.6L1157.8 318.9L1167.4 313.0L1156.2 312.7L1157.8 314.5L1156.7 314.8ZM1172.7 316.8L1173.7 316.6L1173.2 318.9L1182.8 313.0L1171.5 312.7L1173.1 314.5L1172.1 314.8ZM1188.0 316.8L1189.1 316.6L1188.6 318.9L1198.2 313.0L1186.9 312.7L1188.5 314.5L1187.5 314.8ZM1203.4 316.7L1204.2 316.4L1203.8 318.4L1211.7 313.5L1202.5 313.2L1203.8 314.7L1202.9 314.9ZM1218.7 316.7L1219.6 316.4L1219.2 318.4L1227.0 313.5L1217.8 313.2L1219.1 314.7L1218.3 314.9ZM1234.1 316.7L1235.0 316.4L1234.6 318.4L1242.4 313.5L1233.2 313.2L1234.5 314.7L1233.7 314.9ZM1249.5 316.7L1250.4 316.4L1250.0 318.4L1257.8 313.5L1248.6 313.2L1249.9 314.7L1249.1 314.9ZM1264.9 316.7L1265.7 316.4L1265.3 318.4L1273.2 313.5L1264.0 313.2L1265.3 314.7L1264.4 314.9ZM464.9 332.3L469.7 332.3L468.6 334.5L479.6 331.2L468.6 327.9L469.7 330.1L464.9 330.1ZM480.3 332.3L485.1 332.3L484.0 334.5L495.0 331.2L484.0 327.9L485.1 330.1L480.3 330.1ZM495.7 332.3L500.5 332.3L499.4 334.5L510.4 331.2L499.4 327.9L500.5 330.1L495.7 330.1ZM511.0 332.3L515.8 332.3L514.7 334.5L525.7 331.2L514.7 327.9L515.8 330.1L511.0 330.1ZM526.4 332.3L529.3 332.3L528.2 334.5L539.2 331.2L528.2 327.9L529.3 330.1L526.4 330.1ZM541.8 332.3L544.6 332.3L543.5 334.5L554.5 331.2L543.5 327.9L544.6 330.1L541.8 330.1ZM557.2 332.3L562.0 332.3L560.9 334.5L571.9 331.2L560.9 327.9L562.0 330.1L557.2 330.1ZM572.6 332.3L575.4 332.3L574.3 334.5L585.3 331.2L574.3 327.9L575.4 330.1L572.6 330.1ZM587.9 332.3L590.8 332.3L589.7 334.5L600.7 331.2L589.7 327.9L590.8 330.1L587.9 330.1ZM602.8 332.1L603.7 332.7L601.7 334.0L612.7 336.6L604.9 328.4L604.8 330.8L603.9 330.3ZM618.4 331.8L619.0 332.1L617.7 333.0L624.6 334.6L619.7 329.4L619.6 330.9L619.0 330.6ZM633.7 331.8L634.3 332.1L633.1 333.0L640.0 334.6L635.1 329.4L635.0 330.9L634.4 330.6ZM649.0 332.0L649.8 332.4L648.1 333.5L657.1 335.6L650.8 328.9L650.7 330.9L649.9 330.4ZM664.1 332.0L664.8 332.7L662.6 333.5L672.5 338.8L667.1 328.9L666.4 331.2L665.6 330.4ZM679.4 332.0L681.5 334.0L679.1 334.8L689.2 340.2L683.8 330.1L683.0 332.4L681.0 330.4ZM694.8 332.0L698.2 335.4L695.9 336.1L706.0 341.6L700.5 331.5L699.8 333.8L696.4 330.4ZM711.3 332.3L715.9 331.0L715.4 333.4L725.2 327.4L713.7 327.1L715.3 328.9L710.7 330.1ZM726.6 332.3L731.3 331.0L730.8 333.4L740.6 327.4L729.1 327.1L730.7 328.9L726.1 330.1ZM742.0 332.3L744.8 331.5L744.3 333.9L754.0 327.9L742.6 327.6L744.2 329.4L741.5 330.1ZM757.4 332.3L760.1 331.5L759.7 333.9L769.4 327.9L757.9 327.6L759.6 329.4L756.8 330.1ZM772.8 332.3L775.5 331.5L775.0 333.9L784.8 327.9L773.3 327.6L775.0 329.4L772.2 330.1ZM788.2 332.2L789.2 332.0L788.7 334.3L798.3 328.4L787.0 328.1L788.6 329.9L787.6 330.2ZM803.5 332.2L804.6 332.0L804.1 334.3L813.7 328.4L802.4 328.1L804.0 329.9L803.0 330.2ZM818.9 332.2L820.0 332.0L819.5 334.3L829.1 328.4L817.8 328.1L819.4 329.9L818.4 330.2ZM834.2 332.1L835.1 331.8L834.7 333.8L842.5 328.9L833.3 328.6L834.6 330.1L833.8 330.3ZM849.6 332.1L850.5 331.8L850.1 333.8L857.9 328.9L848.7 328.6L850.0 330.1L849.2 330.3ZM865.0 331.9L865.6 331.7L865.3 333.2L871.4 329.4L864.2 329.2L865.3 330.4L864.6 330.5ZM880.3 331.9L881.0 331.7L880.7 333.2L886.8 329.4L879.6 329.2L880.6 330.4L880.0 330.5ZM895.2 331.8L895.8 332.1L894.5 333.0L901.5 334.6L896.6 329.4L896.5 330.9L895.9 330.6ZM910.6 331.8L911.2 332.1L909.9 333.0L916.9 334.6L911.9 329.4L911.9 330.9L911.3 330.6ZM926.0 331.8L926.6 332.1L925.3 333.0L932.2 334.6L927.3 329.4L927.2 330.9L926.6 330.6ZM941.2 332.0L942.0 332.4L940.4 333.5L949.3 335.6L943.0 328.9L942.9 330.9L942.1 330.4ZM956.6 332.0L957.4 332.4L955.7 333.5L964.7 335.6L958.4 328.9L958.3 330.9L957.5 330.4ZM972.0 332.0L972.8 332.4L971.1 333.5L980.1 335.6L973.8 328.9L973.6 330.9L972.9 330.4ZM987.3 332.1L988.2 332.7L986.2 334.0L997.2 336.6L989.4 328.4L989.3 330.8L988.4 330.3ZM1002.7 332.1L1003.6 332.7L1001.6 334.0L1012.5 336.6L1004.8 328.4L1004.7 330.8L1003.7 330.3ZM1018.0 332.2L1020.5 333.6L1018.4 334.9L1029.6 337.6L1021.7 329.2L1021.6 331.7L1019.1 330.2ZM1033.6 332.2L1036.3 333.2L1034.5 334.9L1045.9 335.6L1036.7 328.7L1037.0 331.1L1034.3 330.2ZM1049.0 332.2L1053.5 333.9L1051.7 335.6L1063.2 336.2L1053.9 329.4L1054.2 331.8L1049.7 330.2ZM1064.3 332.2L1068.9 333.9L1067.1 335.6L1078.5 336.2L1069.3 329.4L1069.6 331.8L1065.1 330.2ZM1079.7 332.2L1084.2 333.9L1082.4 335.6L1093.9 336.2L1084.7 329.4L1085.0 331.8L1080.5 330.2ZM1095.1 332.2L1097.8 333.2L1096.0 334.9L1107.5 335.6L1098.2 328.7L1098.5 331.1L1095.9 330.2ZM1111.1 332.3L1113.9 331.5L1113.4 333.9L1123.2 327.9L1111.7 327.6L1113.3 329.4L1110.6 330.1ZM1126.5 332.2L1127.6 332.0L1127.1 334.3L1136.7 328.4L1125.4 328.1L1127.0 329.9L1126.0 330.2ZM1141.9 332.2L1142.9 332.0L1142.5 334.3L1152.0 328.4L1140.8 328.1L1142.4 329.9L1141.3 330.2ZM1157.3 332.2L1158.3 332.0L1157.8 334.3L1167.4 328.4L1156.2 328.1L1157.8 329.9L1156.7 330.2ZM1172.7 332.2L1173.7 332.0L1173.2 334.3L1182.8 328.4L1171.5 328.1L1173.1 329.9L1172.1 330.2ZM1188.0 332.2L1189.1 332.0L1188.6 334.3L1198.2 328.4L1186.9 328.1L1188.5 329.9L1187.5 330.2ZM1203.4 332.2L1204.5 332.0L1204.0 334.3L1213.6 328.4L1202.3 328.1L1203.9 329.9L1202.9 330.2ZM1218.7 332.1L1219.6 331.8L1219.2 333.8L1227.0 328.9L1217.8 328.6L1219.1 330.1L1218.3 330.3ZM1234.1 332.1L1235.0 331.8L1234.6 333.8L1242.4 328.9L1233.2 328.6L1234.5 330.1L1233.7 330.3ZM1249.5 332.1L1250.4 331.8L1250.0 333.8L1257.8 328.9L1248.6 328.6L1249.9 330.1L1249.1 330.3ZM1264.9 332.1L1265.7 331.8L1265.3 333.8L1273.2 328.9L1264.0 328.6L1265.3 330.1L1264.4 330.3ZM464.9 347.7L469.7 347.7L468.6 349.9L479.6 346.6L468.6 343.3L469.7 345.5L464.9 345.5ZM480.3 347.7L485.1 347.7L484.0 349.9L495.0 346.6L484.0 343.3L485.1 345.5L480.3 345.5ZM495.7 347.7L500.5 347.7L499.4 349.9L510.4 346.6L499.4 343.3L500.5 345.5L495.7 345.5ZM511.0 347.7L515.8 347.7L514.7 349.9L525.7 346.6L514.7 343.3L515.8 345.5L511.0 345.5ZM526.4 347.7L531.2 347.7L530.1 349.9L541.1 346.6L530.1 343.3L531.2 345.5L526.4 345.5ZM541.8 347.7L544.6 347.7L543.5 349.9L554.5 346.6L543.5 343.3L544.6 345.5L541.8 345.5ZM557.2 347.7L560.0 347.7L558.9 349.9L569.9 346.6L558.9 343.3L560.0 345.5L557.2 345.5ZM572.6 347.7L575.4 347.7L574.3 349.9L585.3 346.6L574.3 343.3L575.4 345.5L572.6 345.5ZM587.9 347.7L590.8 347.7L589.7 349.9L600.7 346.6L589.7 343.3L590.8 345.5L587.9 345.5ZM602.8 347.5L603.7 348.1L601.7 349.4L612.7 352.0L604.9 343.8L604.8 346.2L603.9 345.7ZM618.3 347.4L619.0 347.8L617.4 348.9L626.3 351.0L620.0 344.3L619.9 346.3L619.1 345.8ZM633.6 347.4L634.4 347.8L632.8 348.9L641.7 351.0L635.4 344.3L635.3 346.3L634.5 345.8ZM648.9 347.5L649.9 348.1L647.8 349.4L658.8 352.0L651.1 343.8L650.9 346.2L650.0 345.7ZM664.8 347.7L667.7 347.7L666.6 349.9L677.6 346.6L666.6 343.3L667.7 345.5L664.8 345.5ZM680.2 347.7L683.1 347.7L682.0 349.9L693.0 346.6L682.0 343.3L683.1 345.5L680.2 345.5ZM695.6 347.7L700.4 347.7L699.3 349.9L710.3 346.6L699.3 343.3L700.4 345.5L695.6 345.5ZM711.3 347.7L715.9 346.4L715.4 348.8L725.2 342.8L713.7 342.5L715.3 344.3L710.7 345.5ZM726.6 347.7L731.3 346.4L730.8 348.8L740.6 342.8L729.1 342.5L730.7 344.3L726.1 345.5ZM742.0 347.7L744.8 346.9L744.3 349.3L754.0 343.3L742.6 343.0L744.2 344.8L741.5 345.5ZM757.4 347.7L760.1 346.9L759.7 349.3L769.4 343.3L757.9 343.0L759.6 344.8L756.8 345.5ZM772.8 347.7L775.5 346.9L775.0 349.3L784.8 343.3L773.3 343.0L775.0 344.8L772.2 345.5ZM788.2 347.6L789.2 347.4L788.7 349.7L798.3 343.8L787.0 343.5L788.6 345.3L787.6 345.6ZM803.5 347.6L804.6 347.4L804.1 349.7L813.7 343.8L802.4 343.5L804.0 345.3L803.0 345.6ZM818.9 347.6L820.0 347.4L819.5 349.7L829.1 343.8L817.8 343.5L819.4 345.3L818.4 345.6ZM834.2 347.5L835.1 347.2L834.7 349.2L842.5 344.3L833.3 344.0L834.6 345.5L833.8 345.7ZM849.6 347.5L850.5 347.2L850.1 349.2L857.9 344.3L848.7 344.0L850.0 345.5L849.2 345.7ZM865.0 347.3L865.6 347.1L865.3 348.6L871.4 344.8L864.2 344.6L865.3 345.8L864.6 345.9ZM880.3 347.3L881.0 347.1L880.7 348.6L886.8 344.8L879.6 344.6L880.6 345.8L880.0 345.9ZM895.2 347.2L895.8 347.5L894.5 348.4L901.5 350.0L896.6 344.8L896.5 346.3L895.9 346.0ZM910.6 347.2L911.2 347.5L909.9 348.4L916.9 350.0L911.9 344.8L911.9 346.3L911.3 346.0ZM926.0 347.2L926.6 347.5L925.3 348.4L932.2 350.0L927.3 344.8L927.2 346.3L926.6 346.0ZM941.2 347.4L942.0 347.8L940.4 348.9L949.3 351.0L943.0 344.3L942.9 346.3L942.1 345.8ZM956.6 347.4L957.4 347.8L955.7 348.9L964.7 351.0L958.4 344.3L958.3 346.3L957.5 345.8ZM972.0 347.4L972.8 347.8L971.1 348.9L980.1 351.0L973.8 344.3L973.6 346.3L972.9 345.8ZM987.3 347.5L988.2 348.1L986.2 349.4L997.2 352.0L989.4 343.8L989.3 346.2L988.4 345.7ZM1002.7 347.5L1003.6 348.1L1001.6 349.4L1012.5 352.0L1004.8 343.8L1004.7 346.2L1003.7 345.7ZM1018.0 347.6L1020.5 349.0L1018.4 350.3L1029.6 353.0L1021.7 344.6L1021.6 347.1L1019.1 345.6ZM1033.6 347.6L1036.3 348.6L1034.5 350.3L1045.9 351.0L1036.7 344.1L1037.0 346.5L1034.3 345.6ZM1049.0 347.6L1051.6 348.6L1049.8 350.3L1061.3 351.0L1052.1 344.1L1052.4 346.5L1049.7 345.6ZM1064.3 347.6L1068.9 349.3L1067.1 351.0L1078.5 351.6L1069.3 344.8L1069.6 347.2L1065.1 345.6ZM1079.7 347.6L1084.2 349.3L1082.4 351.0L1093.9 351.6L1084.7 344.8L1085.0 347.2L1080.5 345.6ZM1095.1 347.6L1097.8 348.6L1096.0 350.3L1107.5 351.0L1098.2 344.1L1098.5 346.5L1095.9 345.6ZM1110.5 347.6L1113.2 348.6L1111.4 350.3L1122.8 351.0L1113.6 344.1L1113.9 346.5L1111.2 345.6ZM1125.9 347.6L1128.5 348.6L1126.7 350.3L1138.2 351.0L1129.0 344.1L1129.3 346.5L1126.6 345.6ZM1141.6 347.7L1142.7 347.7L1141.6 349.8L1152.4 346.6L1141.6 343.4L1142.7 345.5L1141.6 345.5ZM1157.0 347.7L1158.1 347.7L1157.0 349.8L1167.8 346.6L1157.0 343.4L1158.1 345.5L1157.0 345.5ZM1172.4 347.7L1173.5 347.7L1172.4 349.8L1183.2 346.6L1172.4 343.4L1173.5 345.5L1172.4 345.5ZM1187.8 347.7L1188.8 347.7L1187.8 349.8L1198.5 346.6L1187.8 343.4L1188.8 345.5L1187.8 345.5ZM1203.1 347.7L1204.2 347.7L1203.1 349.8L1213.9 346.6L1203.1 343.4L1204.2 345.5L1203.1 345.5ZM1218.5 347.7L1219.6 347.7L1218.5 349.8L1229.3 346.6L1218.5 343.4L1219.6 345.5L1218.5 345.5ZM1233.9 347.5L1234.8 347.5L1233.9 349.2L1242.7 346.6L1233.9 344.0L1234.8 345.7L1233.9 345.7ZM1249.3 347.5L1250.2 347.5L1249.3 349.2L1258.1 346.6L1249.3 344.0L1250.2 345.7L1249.3 345.7ZM1264.7 347.5L1265.5 347.5L1264.7 349.2L1273.5 346.6L1264.7 344.0L1265.5 345.7L1264.7 345.7ZM464.9 363.1L467.7 363.1L466.6 365.3L477.6 362.0L466.6 358.7L467.7 360.9L464.9 360.9ZM480.3 363.1L483.1 363.1L482.0 365.3L493.0 362.0L482.0 358.7L483.1 360.9L480.3 360.9ZM495.7 363.1L498.5 363.1L497.4 365.3L508.4 362.0L497.4 358.7L498.5 360.9L495.7 360.9ZM511.0 363.1L513.9 363.1L512.8 365.3L523.8 362.0L512.8 358.7L513.9 360.9L511.0 360.9ZM526.4 363.1L529.3 363.1L528.2 365.3L539.2 362.0L528.2 358.7L529.3 360.9L526.4 360.9ZM541.8 363.1L544.6 363.1L543.5 365.3L554.5 362.0L543.5 358.7L544.6 360.9L541.8 360.9ZM557.2 363.1L560.0 363.1L558.9 365.3L569.9 362.0L558.9 358.7L560.0 360.9L557.2 360.9ZM572.6 363.1L575.4 363.1L574.3 365.3L585.3 362.0L574.3 358.7L575.4 360.9L572.6 360.9ZM587.9 363.1L590.8 363.1L589.7 365.3L600.7 362.0L589.7 358.7L590.8 360.9L587.9 360.9ZM603.3 363.1L606.2 363.1L605.1 365.3L616.1 362.0L605.1 358.7L606.2 360.9L603.3 360.9ZM618.7 362.9L619.6 362.9L618.7 364.6L627.5 362.0L618.7 359.4L619.6 361.1L618.7 361.1ZM634.1 363.1L635.2 363.1L634.1 365.2L644.9 362.0L634.1 358.8L635.2 360.9L634.1 360.9ZM649.5 363.1L652.3 363.1L651.2 365.3L662.2 362.0L651.2 358.7L652.3 360.9L649.5 360.9ZM664.8 363.1L667.7 363.1L666.6 365.3L677.6 362.0L666.6 358.7L667.7 360.9L664.8 360.9ZM680.2 363.1L683.1 363.1L682.0 365.3L693.0 362.0L682.0 358.7L683.1 360.9L680.2 360.9ZM695.6 363.1L700.4 363.1L699.3 365.3L710.3 362.0L699.3 358.7L700.4 360.9L695.6 360.9ZM711.1 363.1L715.9 362.7L715.0 365.0L725.6 360.7L714.4 358.4L715.7 360.5L710.9 360.9ZM726.5 363.1L729.3 362.8L728.4 365.1L739.1 360.9L727.8 358.6L729.1 360.7L726.3 360.9ZM741.8 363.1L744.7 362.8L743.8 365.1L754.4 360.9L743.2 358.6L744.5 360.7L741.6 360.9ZM757.2 363.1L760.0 362.8L759.1 365.1L769.8 360.9L758.6 358.6L759.9 360.7L757.0 360.9ZM772.6 363.1L775.4 362.8L774.5 365.1L785.2 360.9L773.9 358.6L775.2 360.7L772.4 360.9ZM788.0 363.1L789.0 363.0L788.2 365.2L798.6 361.1L787.6 358.8L788.9 360.8L787.8 360.9ZM803.4 363.1L804.4 363.0L803.5 365.2L814.0 361.1L803.0 358.8L804.2 360.8L803.2 360.9ZM818.7 363.1L819.8 363.0L818.9 365.2L829.4 361.1L818.4 358.8L819.6 360.8L818.5 360.9ZM834.1 363.1L835.2 363.0L834.3 365.2L844.8 361.1L833.7 358.8L835.0 360.8L833.9 360.9ZM849.5 362.9L850.4 362.8L849.6 364.6L858.2 361.2L849.2 359.4L850.2 361.0L849.3 361.1ZM864.9 362.9L865.7 362.8L865.0 364.6L873.6 361.2L864.5 359.4L865.6 361.0L864.7 361.1ZM880.2 362.9L881.1 362.8L880.4 364.6L888.9 361.2L879.9 359.4L881.0 361.0L880.1 361.1ZM895.1 362.8L895.9 363.2L894.2 364.3L903.2 366.4L896.9 359.7L896.7 361.7L896.0 361.2ZM910.5 362.8L911.2 363.2L909.6 364.3L918.6 366.4L912.2 359.7L912.1 361.7L911.4 361.2ZM925.9 362.8L926.6 363.2L925.0 364.3L933.9 366.4L927.6 359.7L927.5 361.7L926.7 361.2ZM941.2 362.8L942.0 363.2L940.4 364.3L949.3 366.4L943.0 359.7L942.9 361.7L942.1 361.2ZM956.6 362.8L957.4 363.2L955.7 364.3L964.7 366.4L958.4 359.7L958.3 361.7L957.5 361.2ZM972.0 362.8L972.8 363.2L971.1 364.3L980.1 366.4L973.8 359.7L973.6 361.7L972.9 361.2ZM987.4 362.8L988.1 363.2L986.5 364.3L995.5 366.4L989.1 359.7L989.0 361.7L988.3 361.2ZM1002.7 362.9L1003.6 363.5L1001.6 364.8L1012.5 367.4L1004.8 359.2L1004.7 361.6L1003.7 361.1ZM1018.0 362.9L1019.0 363.5L1017.0 364.8L1027.9 367.4L1020.2 359.2L1020.1 361.6L1019.1 361.1ZM1034.0 363.1L1036.8 363.1L1035.7 365.3L1046.7 362.0L1035.7 358.7L1036.8 360.9L1034.0 360.9ZM1049.3 363.1L1052.2 363.1L1051.1 365.3L1062.1 362.0L1051.1 358.7L1052.2 360.9L1049.3 360.9ZM1064.7 363.1L1067.6 363.1L1066.5 365.3L1077.5 362.0L1066.5 358.7L1067.6 360.9L1064.7 360.9ZM1080.1 363.1L1082.9 363.1L1081.8 365.3L1092.8 362.0L1081.8 358.7L1082.9 360.9L1080.1 360.9ZM1095.5 363.1L1098.3 363.1L1097.2 365.3L1108.2 362.0L1097.2 358.7L1098.3 360.9L1095.5 360.9ZM1110.9 363.1L1113.7 363.1L1112.6 365.3L1123.6 362.0L1112.6 358.7L1113.7 360.9L1110.9 360.9ZM1126.2 363.1L1129.1 363.1L1128.0 365.3L1139.0 362.0L1128.0 358.7L1129.1 360.9L1126.2 360.9ZM1141.6 363.1L1142.7 363.1L1141.6 365.2L1152.4 362.0L1141.6 358.8L1142.7 360.9L1141.6 360.9ZM1157.0 363.1L1158.1 363.1L1157.0 365.2L1167.8 362.0L1157.0 358.8L1158.1 360.9L1157.0 360.9ZM1172.4 363.1L1173.5 363.1L1172.4 365.2L1183.2 362.0L1172.4 358.8L1173.5 360.9L1172.4 360.9ZM1187.8 363.1L1188.8 363.1L1187.8 365.2L1198.5 362.0L1187.8 358.8L1188.8 360.9L1187.8 360.9ZM1203.1 363.1L1204.2 363.1L1203.1 365.2L1213.9 362.0L1203.1 358.8L1204.2 360.9L1203.1 360.9ZM1218.5 363.1L1219.6 363.1L1218.5 365.2L1229.3 362.0L1218.5 358.8L1219.6 360.9L1218.5 360.9ZM1233.9 363.1L1235.0 363.1L1233.9 365.2L1244.7 362.0L1233.9 358.8L1235.0 360.9L1233.9 360.9ZM1249.3 363.1L1250.4 363.1L1249.3 365.2L1260.1 362.0L1249.3 358.8L1250.4 360.9L1249.3 360.9ZM1264.7 363.1L1265.7 363.1L1264.7 365.2L1275.4 362.0L1264.7 358.8L1265.7 360.9L1264.7 360.9ZM464.9 378.5L467.7 378.5L466.6 380.7L477.6 377.4L466.6 374.1L467.7 376.3L464.9 376.3ZM480.3 378.5L483.1 378.5L482.0 380.7L493.0 377.4L482.0 374.1L483.1 376.3L480.3 376.3ZM495.7 378.5L498.5 378.5L497.4 380.7L508.4 377.4L497.4 374.1L498.5 376.3L495.7 376.3ZM511.0 378.5L513.9 378.5L512.8 380.7L523.8 377.4L512.8 374.1L513.9 376.3L511.0 376.3ZM526.4 378.5L529.3 378.5L528.2 380.7L539.2 377.4L528.2 374.1L529.3 376.3L526.4 376.3ZM541.8 378.5L544.6 378.5L543.5 380.7L554.5 377.4L543.5 374.1L544.6 376.3L541.8 376.3ZM557.2 378.5L560.0 378.5L558.9 380.7L569.9 377.4L558.9 374.1L560.0 376.3L557.2 376.3ZM572.6 378.5L575.4 378.5L574.3 380.7L585.3 377.4L574.3 374.1L575.4 376.3L572.6 376.3ZM587.9 378.5L590.8 378.5L589.7 380.7L600.7 377.4L589.7 374.1L590.8 376.3L587.9 376.3ZM603.3 378.5L606.2 378.5L605.1 380.7L616.1 377.4L605.1 374.1L606.2 376.3L603.3 376.3ZM618.7 378.3L619.6 378.3L618.7 380.0L627.5 377.4L618.7 374.8L619.6 376.5L618.7 376.5ZM634.1 378.5L635.2 378.5L634.1 380.6L644.9 377.4L634.1 374.2L635.2 376.3L634.1 376.3ZM649.5 378.5L652.3 378.5L651.2 380.7L662.2 377.4L651.2 374.1L652.3 376.3L649.5 376.3ZM664.8 378.5L667.7 378.5L666.6 380.7L677.6 377.4L666.6 374.1L667.7 376.3L664.8 376.3ZM680.2 378.5L683.1 378.5L682.0 380.7L693.0 377.4L682.0 374.1L683.1 376.3L680.2 376.3ZM695.6 378.5L698.4 378.5L697.3 380.7L708.3 377.4L697.3 374.1L698.4 376.3L695.6 376.3ZM711.1 378.5L713.9 378.2L713.0 380.5L723.7 376.3L712.4 374.0L713.7 376.1L710.9 376.3ZM726.5 378.5L729.3 378.2L728.4 380.5L739.1 376.3L727.8 374.0L729.1 376.1L726.3 376.3ZM741.8 378.5L744.7 378.2L743.8 380.5L754.4 376.3L743.2 374.0L744.5 376.1L741.6 376.3ZM757.2 378.5L760.0 378.2L759.1 380.5L769.8 376.3L758.6 374.0L759.9 376.1L757.0 376.3ZM772.6 378.5L775.4 378.2L774.5 380.5L785.2 376.3L773.9 374.0L775.2 376.1L772.4 376.3ZM788.0 378.5L789.0 378.4L788.2 380.6L798.6 376.5L787.6 374.2L788.9 376.2L787.8 376.3ZM803.4 378.5L804.4 378.4L803.5 380.6L814.0 376.5L803.0 374.2L804.2 376.2L803.2 376.3ZM818.7 378.5L819.8 378.4L818.9 380.6L829.4 376.5L818.4 374.2L819.6 376.2L818.5 376.3ZM834.1 378.5L835.2 378.4L834.3 380.6L844.8 376.5L833.7 374.2L835.0 376.2L833.9 376.3ZM849.5 378.3L850.4 378.2L849.6 380.0L858.2 376.6L849.2 374.8L850.2 376.4L849.3 376.5ZM864.9 378.3L865.7 378.2L865.0 380.0L873.6 376.6L864.5 374.8L865.6 376.4L864.7 376.5ZM880.2 378.3L881.1 378.2L880.4 380.0L888.9 376.6L879.9 374.8L881.0 376.4L880.1 376.5ZM895.1 378.2L895.9 378.6L894.2 379.7L903.2 381.8L896.9 375.1L896.7 377.1L896.0 376.6ZM910.5 378.2L911.2 378.6L909.6 379.7L918.6 381.8L912.2 375.1L912.1 377.1L911.4 376.6ZM925.9 378.2L926.6 378.6L925.0 379.7L933.9 381.8L927.6 375.1L927.5 377.1L926.7 376.6ZM941.1 378.3L942.1 378.9L940.1 380.2L951.0 382.8L943.3 374.6L943.2 377.0L942.2 376.5ZM956.5 378.3L957.5 378.9L955.4 380.2L966.4 382.8L958.7 374.6L958.5 377.0L957.6 376.5ZM971.9 378.3L972.8 378.9L970.8 380.2L981.8 382.8L974.1 374.6L973.9 377.0L973.0 376.5ZM987.4 378.2L988.1 378.6L986.5 379.7L995.5 381.8L989.1 375.1L989.0 377.1L988.3 376.6ZM1002.7 378.3L1003.6 378.9L1001.6 380.2L1012.5 382.8L1004.8 374.6L1004.7 377.0L1003.7 376.5ZM1018.0 378.3L1019.0 378.9L1017.0 380.2L1027.9 382.8L1020.2 374.6L1020.1 377.0L1019.1 376.5ZM1034.0 378.5L1035.0 378.5L1034.0 380.6L1044.7 377.4L1034.0 374.2L1035.0 376.3L1034.0 376.3ZM1049.3 378.5L1052.2 378.5L1051.1 380.7L1062.1 377.4L1051.1 374.1L1052.2 376.3L1049.3 376.3ZM1064.7 378.5L1067.6 378.5L1066.5 380.7L1077.5 377.4L1066.5 374.1L1067.6 376.3L1064.7 376.3ZM1080.1 378.5L1082.9 378.5L1081.8 380.7L1092.8 377.4L1081.8 374.1L1082.9 376.3L1080.1 376.3ZM1095.5 378.5L1098.3 378.5L1097.2 380.7L1108.2 377.4L1097.2 374.1L1098.3 376.3L1095.5 376.3ZM1110.9 378.5L1113.7 378.5L1112.6 380.7L1123.6 377.4L1112.6 374.1L1113.7 376.3L1110.9 376.3ZM1126.2 378.5L1129.1 378.5L1128.0 380.7L1139.0 377.4L1128.0 374.1L1129.1 376.3L1126.2 376.3ZM1141.6 378.5L1144.5 378.5L1143.4 380.7L1154.4 377.4L1143.4 374.1L1144.5 376.3L1141.6 376.3ZM1157.0 378.5L1158.1 378.5L1157.0 380.6L1167.8 377.4L1157.0 374.2L1158.1 376.3L1157.0 376.3ZM1172.4 378.5L1173.5 378.5L1172.4 380.6L1183.2 377.4L1172.4 374.2L1173.5 376.3L1172.4 376.3ZM1187.8 378.5L1188.8 378.5L1187.8 380.6L1198.5 377.4L1187.8 374.2L1188.8 376.3L1187.8 376.3ZM1203.1 378.5L1204.2 378.5L1203.1 380.6L1213.9 377.4L1203.1 374.2L1204.2 376.3L1203.1 376.3ZM1218.5 378.5L1219.6 378.5L1218.5 380.6L1229.3 377.4L1218.5 374.2L1219.6 376.3L1218.5 376.3ZM1233.9 378.5L1235.0 378.5L1233.9 380.6L1244.7 377.4L1233.9 374.2L1235.0 376.3L1233.9 376.3ZM1249.3 378.5L1250.4 378.5L1249.3 380.6L1260.1 377.4L1249.3 374.2L1250.4 376.3L1249.3 376.3ZM1264.7 378.5L1265.7 378.5L1264.7 380.6L1275.4 377.4L1264.7 374.2L1265.7 376.3L1264.7 376.3ZM464.9 393.9L467.7 393.9L466.6 396.1L477.6 392.8L466.6 389.5L467.7 391.7L464.9 391.7ZM480.3 393.9L483.1 393.9L482.0 396.1L493.0 392.8L482.0 389.5L483.1 391.7L480.3 391.7ZM495.7 393.9L498.5 393.9L497.4 396.1L508.4 392.8L497.4 389.5L498.5 391.7L495.7 391.7ZM511.0 393.9L513.9 393.9L512.8 396.1L523.8 392.8L512.8 389.5L513.9 391.7L511.0 391.7ZM526.4 393.9L529.3 393.9L528.2 396.1L539.2 392.8L528.2 389.5L529.3 391.7L526.4 391.7ZM541.8 393.9L544.6 393.9L543.5 396.1L554.5 392.8L543.5 389.5L544.6 391.7L541.8 391.7ZM557.2 393.9L560.0 393.9L558.9 396.1L569.9 392.8L558.9 389.5L560.0 391.7L557.2 391.7ZM572.6 393.9L575.4 393.9L574.3 396.1L585.3 392.8L574.3 389.5L575.4 391.7L572.6 391.7ZM587.9 393.9L590.8 393.9L589.7 396.1L600.7 392.8L589.7 389.5L590.8 391.7L587.9 391.7ZM603.3 393.9L606.2 393.9L605.1 396.1L616.1 392.8L605.1 389.5L606.2 391.7L603.3 391.7ZM618.7 393.9L619.8 393.9L618.7 396.0L629.5 392.8L618.7 389.6L619.8 391.7L618.7 391.7ZM634.1 393.9L636.9 393.9L635.8 396.1L646.8 392.8L635.8 389.5L636.9 391.7L634.1 391.7ZM649.5 393.9L652.3 393.9L651.2 396.1L662.2 392.8L651.2 389.5L652.3 391.7L649.5 391.7ZM664.8 393.9L667.7 393.9L666.6 396.1L677.6 392.8L666.6 389.5L667.7 391.7L664.8 391.7ZM680.2 393.9L683.1 393.9L682.0 396.1L693.0 392.8L682.0 389.5L683.1 391.7L680.2 391.7ZM695.6 393.9L698.4 393.9L697.3 396.1L708.3 392.8L697.3 389.5L698.4 391.7L695.6 391.7ZM711.1 393.9L713.9 393.6L713.0 395.9L723.7 391.7L712.4 389.4L713.7 391.5L710.9 391.7ZM726.5 393.9L729.3 393.6L728.4 395.9L739.1 391.7L727.8 389.4L729.1 391.5L726.3 391.7ZM741.8 393.9L744.7 393.6L743.8 395.9L754.4 391.7L743.2 389.4L744.5 391.5L741.6 391.7ZM757.2 393.9L760.0 393.6L759.1 395.9L769.8 391.7L758.6 389.4L759.9 391.5L757.0 391.7ZM772.6 393.9L775.4 393.6L774.5 395.9L785.2 391.7L773.9 389.4L775.2 391.5L772.4 391.7ZM788.0 393.9L789.0 393.8L788.2 396.0L798.6 391.9L787.6 389.6L788.9 391.6L787.8 391.7ZM803.4 393.9L804.4 393.8L803.5 396.0L814.0 391.9L803.0 389.6L804.2 391.6L803.2 391.7ZM818.7 393.9L819.8 393.8L818.9 396.0L829.4 391.9L818.4 389.6L819.6 391.6L818.5 391.7ZM834.1 393.9L835.2 393.8L834.3 396.0L844.8 391.9L833.7 389.6L835.0 391.6L833.9 391.7ZM849.5 393.9L850.6 393.8L849.7 396.0L860.1 391.9L849.1 389.6L850.4 391.6L849.3 391.7ZM864.9 393.9L865.9 393.8L865.1 396.0L875.5 391.9L864.5 389.6L865.8 391.6L864.7 391.7ZM880.2 393.7L881.1 393.6L880.4 395.4L888.9 392.0L879.9 390.2L881.0 391.8L880.1 391.9ZM895.6 393.7L896.5 393.6L895.8 395.4L904.3 392.0L895.3 390.2L896.3 391.8L895.5 391.9ZM910.9 393.7L911.8 393.7L910.9 395.4L919.7 392.8L910.9 390.2L911.8 391.9L910.9 391.9ZM926.3 393.7L927.2 393.7L926.3 395.4L935.1 392.8L926.3 390.2L927.2 391.9L926.3 391.9ZM941.7 393.9L942.8 393.9L941.7 396.0L952.5 392.8L941.7 389.6L942.8 391.7L941.7 391.7ZM957.1 393.9L958.1 393.9L957.1 396.0L967.8 392.8L957.1 389.6L958.1 391.7L957.1 391.7ZM972.4 393.7L973.3 393.7L972.4 395.4L981.3 392.8L972.4 390.2L973.3 391.9L972.4 391.9ZM987.8 393.9L988.9 393.9L987.8 396.0L998.6 392.8L987.8 389.6L988.9 391.7L987.8 391.7ZM1003.2 393.9L1004.3 393.9L1003.2 396.0L1014.0 392.8L1003.2 389.6L1004.3 391.7L1003.2 391.7ZM1018.6 393.9L1019.7 393.9L1018.6 396.0L1029.4 392.8L1018.6 389.6L1019.7 391.7L1018.6 391.7ZM1034.0 393.9L1036.8 393.9L1035.7 396.1L1046.7 392.8L1035.7 389.5L1036.8 391.7L1034.0 391.7ZM1049.3 393.9L1052.2 393.9L1051.1 396.1L1062.1 392.8L1051.1 389.5L1052.2 391.7L1049.3 391.7ZM1064.7 393.9L1067.6 393.9L1066.5 396.1L1077.5 392.8L1066.5 389.5L1067.6 391.7L1064.7 391.7ZM1080.1 393.9L1082.9 393.9L1081.8 396.1L1092.8 392.8L1081.8 389.5L1082.9 391.7L1080.1 391.7ZM1095.5 393.9L1098.3 393.9L1097.2 396.1L1108.2 392.8L1097.2 389.5L1098.3 391.7L1095.5 391.7ZM1110.9 393.9L1113.7 393.9L1112.6 396.1L1123.6 392.8L1112.6 389.5L1113.7 391.7L1110.9 391.7ZM1126.2 393.9L1129.1 393.9L1128.0 396.1L1139.0 392.8L1128.0 389.5L1129.1 391.7L1126.2 391.7ZM1141.6 393.9L1144.5 393.9L1143.4 396.1L1154.4 392.8L1143.4 389.5L1144.5 391.7L1141.6 391.7ZM1157.0 393.9L1158.1 393.9L1157.0 396.0L1167.8 392.8L1157.0 389.6L1158.1 391.7L1157.0 391.7ZM1172.4 393.9L1173.5 393.9L1172.4 396.0L1183.2 392.8L1172.4 389.6L1173.5 391.7L1172.4 391.7ZM1187.8 393.9L1188.8 393.9L1187.8 396.0L1198.5 392.8L1187.8 389.6L1188.8 391.7L1187.8 391.7ZM1203.1 393.9L1204.2 393.9L1203.1 396.0L1213.9 392.8L1203.1 389.6L1204.2 391.7L1203.1 391.7ZM1218.5 393.9L1219.6 393.9L1218.5 396.0L1229.3 392.8L1218.5 389.6L1219.6 391.7L1218.5 391.7ZM1233.9 393.9L1235.0 393.9L1233.9 396.0L1244.7 392.8L1233.9 389.6L1235.0 391.7L1233.9 391.7ZM1249.3 393.9L1250.4 393.9L1249.3 396.0L1260.1 392.8L1249.3 389.6L1250.4 391.7L1249.3 391.7ZM1264.7 393.9L1265.7 393.9L1264.7 396.0L1275.4 392.8L1264.7 389.6L1265.7 391.7L1264.7 391.7ZM464.9 409.3L467.7 409.3L466.6 411.5L477.6 408.2L466.6 404.9L467.7 407.1L464.9 407.1ZM480.3 409.3L483.1 409.3L482.0 411.5L493.0 408.2L482.0 404.9L483.1 407.1L480.3 407.1ZM495.7 409.3L498.5 409.3L497.4 411.5L508.4 408.2L497.4 404.9L498.5 407.1L495.7 407.1ZM511.0 409.3L513.9 409.3L512.8 411.5L523.8 408.2L512.8 404.9L513.9 407.1L511.0 407.1ZM526.4 409.3L529.3 409.3L528.2 411.5L539.2 408.2L528.2 404.9L529.3 407.1L526.4 407.1ZM541.8 409.3L544.6 409.3L543.5 411.5L554.5 408.2L543.5 404.9L544.6 407.1L541.8 407.1ZM557.2 409.3L560.0 409.3L558.9 411.5L569.9 408.2L558.9 404.9L560.0 407.1L557.2 407.1ZM572.6 409.3L575.4 409.3L574.3 411.5L585.3 408.2L574.3 404.9L575.4 407.1L572.6 407.1ZM587.9 409.3L590.8 409.3L589.7 411.5L600.7 408.2L589.7 404.9L590.8 407.1L587.9 407.1ZM603.3 409.3L606.2 409.3L605.1 411.5L616.1 408.2L605.1 404.9L606.2 407.1L603.3 407.1ZM618.7 409.3L621.5 409.3L620.4 411.5L631.4 408.2L620.4 404.9L621.5 407.1L618.7 407.1ZM634.1 409.3L636.9 409.3L635.8 411.5L646.8 408.2L635.8 404.9L636.9 407.1L634.1 407.1ZM649.5 409.3L652.3 409.3L651.2 411.5L662.2 408.2L651.2 404.9L652.3 407.1L649.5 407.1ZM664.8 409.3L667.7 409.3L666.6 411.5L677.6 408.2L666.6 404.9L667.7 407.1L664.8 407.1ZM680.2 409.3L683.1 409.3L682.0 411.5L693.0 408.2L682.0 404.9L683.1 407.1L680.2 407.1ZM695.6 409.3L698.4 409.3L697.3 411.5L708.3 408.2L697.3 404.9L698.4 407.1L695.6 407.1ZM711.1 409.3L713.9 409.0L713.0 411.3L723.7 407.1L712.4 404.8L713.7 406.9L710.9 407.1ZM726.5 409.3L729.3 409.0L728.4 411.3L739.1 407.1L727.8 404.8L729.1 406.9L726.3 407.1ZM741.8 409.3L744.7 409.0L743.8 411.3L754.4 407.1L743.2 404.8L744.5 406.9L741.6 407.1ZM757.2 409.3L760.0 409.0L759.1 411.3L769.8 407.1L758.6 404.8L759.9 406.9L757.0 407.1ZM772.6 409.3L773.7 409.2L772.8 411.4L783.2 407.3L772.2 405.0L773.5 407.0L772.4 407.1ZM788.0 409.3L789.0 409.2L788.2 411.4L798.6 407.3L787.6 405.0L788.9 407.0L787.8 407.1ZM803.4 409.3L804.4 409.2L803.5 411.4L814.0 407.3L803.0 405.0L804.2 407.0L803.2 407.1ZM818.7 409.3L819.8 409.2L818.9 411.4L829.4 407.3L818.4 405.0L819.6 407.0L818.5 407.1ZM834.1 409.3L835.2 409.2L834.3 411.4L844.8 407.3L833.7 405.0L835.0 407.0L833.9 407.1ZM849.5 409.3L850.6 409.2L849.7 411.4L860.1 407.3L849.1 405.0L850.4 407.0L849.3 407.1ZM864.9 409.3L865.9 409.2L865.1 411.4L875.5 407.3L864.5 405.0L865.8 407.0L864.7 407.1ZM880.3 409.3L881.3 409.2L880.4 411.4L890.9 407.3L879.9 405.0L881.1 407.0L880.1 407.1ZM895.6 409.1L896.5 409.0L895.8 410.8L904.3 407.4L895.3 405.6L896.3 407.2L895.5 407.3ZM910.9 409.1L911.8 409.1L910.9 410.8L919.7 408.2L910.9 405.6L911.8 407.3L910.9 407.3ZM926.3 409.3L927.4 409.3L926.3 411.4L937.1 408.2L926.3 405.0L927.4 407.1L926.3 407.1ZM941.7 409.3L942.8 409.3L941.7 411.4L952.5 408.2L941.7 405.0L942.8 407.1L941.7 407.1ZM957.1 409.3L958.1 409.3L957.1 411.4L967.8 408.2L957.1 405.0L958.1 407.1L957.1 407.1ZM972.4 409.3L973.5 409.3L972.4 411.4L983.2 408.2L972.4 405.0L973.5 407.1L972.4 407.1ZM987.8 409.3L988.9 409.3L987.8 411.4L998.6 408.2L987.8 405.0L988.9 407.1L987.8 407.1ZM1003.2 409.3L1004.3 409.3L1003.2 411.4L1014.0 408.2L1003.2 405.0L1004.3 407.1L1003.2 407.1ZM1018.6 409.3L1019.7 409.3L1018.6 411.4L1029.4 408.2L1018.6 405.0L1019.7 407.1L1018.6 407.1ZM1034.0 409.3L1036.8 409.3L1035.7 411.5L1046.7 408.2L1035.7 404.9L1036.8 407.1L1034.0 407.1ZM1049.3 409.3L1052.2 409.3L1051.1 411.5L1062.1 408.2L1051.1 404.9L1052.2 407.1L1049.3 407.1ZM1064.7 409.3L1067.6 409.3L1066.5 411.5L1077.5 408.2L1066.5 404.9L1067.6 407.1L1064.7 407.1ZM1080.1 409.3L1082.9 409.3L1081.8 411.5L1092.8 408.2L1081.8 404.9L1082.9 407.1L1080.1 407.1ZM1095.5 409.3L1098.3 409.3L1097.2 411.5L1108.2 408.2L1097.2 404.9L1098.3 407.1L1095.5 407.1ZM1110.9 409.3L1113.7 409.3L1112.6 411.5L1123.6 408.2L1112.6 404.9L1113.7 407.1L1110.9 407.1ZM1126.2 409.3L1129.1 409.3L1128.0 411.5L1139.0 408.2L1128.0 404.9L1129.1 407.1L1126.2 407.1ZM1141.6 409.3L1142.7 409.3L1141.6 411.4L1152.4 408.2L1141.6 405.0L1142.7 407.1L1141.6 407.1ZM1157.0 409.3L1158.1 409.3L1157.0 411.4L1167.8 408.2L1157.0 405.0L1158.1 407.1L1157.0 407.1ZM1172.4 409.3L1173.5 409.3L1172.4 411.4L1183.2 408.2L1172.4 405.0L1173.5 407.1L1172.4 407.1ZM1187.8 409.3L1188.8 409.3L1187.8 411.4L1198.5 408.2L1187.8 405.0L1188.8 407.1L1187.8 407.1ZM1203.1 409.3L1204.2 409.3L1203.1 411.4L1213.9 408.2L1203.1 405.0L1204.2 407.1L1203.1 407.1ZM1218.5 409.3L1219.6 409.3L1218.5 411.4L1229.3 408.2L1218.5 405.0L1219.6 407.1L1218.5 407.1ZM1233.9 409.3L1235.0 409.3L1233.9 411.4L1244.7 408.2L1233.9 405.0L1235.0 407.1L1233.9 407.1ZM1249.3 409.3L1250.4 409.3L1249.3 411.4L1260.1 408.2L1249.3 405.0L1250.4 407.1L1249.3 407.1ZM1264.7 409.3L1265.7 409.3L1264.7 411.4L1275.4 408.2L1264.7 405.0L1265.7 407.1L1264.7 407.1ZM464.9 424.7L467.7 424.7L466.6 426.9L477.6 423.6L466.6 420.3L467.7 422.5L464.9 422.5ZM480.3 424.7L483.1 424.7L482.0 426.9L493.0 423.6L482.0 420.3L483.1 422.5L480.3 422.5ZM495.7 424.7L498.5 424.7L497.4 426.9L508.4 423.6L497.4 420.3L498.5 422.5L495.7 422.5ZM511.0 424.7L513.9 424.7L512.8 426.9L523.8 423.6L512.8 420.3L513.9 422.5L511.0 422.5ZM526.4 424.7L529.3 424.7L528.2 426.9L539.2 423.6L528.2 420.3L529.3 422.5L526.4 422.5ZM541.8 424.7L544.6 424.7L543.5 426.9L554.5 423.6L543.5 420.3L544.6 422.5L541.8 422.5ZM557.2 424.7L560.0 424.7L558.9 426.9L569.9 423.6L558.9 420.3L560.0 422.5L557.2 422.5ZM572.6 424.7L575.4 424.7L574.3 426.9L585.3 423.6L574.3 420.3L575.4 422.5L572.6 422.5ZM587.9 424.7L590.8 424.7L589.7 426.9L600.7 423.6L589.7 420.3L590.8 422.5L587.9 422.5ZM603.3 424.7L606.2 424.7L605.1 426.9L616.1 423.6L605.1 420.3L606.2 422.5L603.3 422.5ZM618.7 424.7L621.5 424.7L620.4 426.9L631.4 423.6L620.4 420.3L621.5 422.5L618.7 422.5ZM634.1 424.7L636.9 424.7L635.8 426.9L646.8 423.6L635.8 420.3L636.9 422.5L634.1 422.5ZM649.5 424.7L652.3 424.7L651.2 426.9L662.2 423.6L651.2 420.3L652.3 422.5L649.5 422.5ZM664.8 424.7L667.7 424.7L666.6 426.9L677.6 423.6L666.6 420.3L667.7 422.5L664.8 422.5ZM680.2 424.7L683.1 424.7L682.0 426.9L693.0 423.6L682.0 420.3L683.1 422.5L680.2 422.5ZM695.6 424.7L698.4 424.7L697.3 426.9L708.3 423.6L697.3 420.3L698.4 422.5L695.6 422.5ZM711.1 424.7L713.9 424.4L713.0 426.7L723.7 422.5L712.4 420.2L713.7 422.3L710.9 422.5ZM726.5 424.7L729.3 424.4L728.4 426.7L739.1 422.5L727.8 420.2L729.1 422.3L726.3 422.5ZM741.8 424.7L744.7 424.4L743.8 426.7L754.4 422.5L743.2 420.2L744.5 422.3L741.6 422.5ZM757.2 424.7L758.3 424.6L757.4 426.8L767.9 422.7L756.8 420.4L758.1 422.4L757.0 422.5ZM772.6 424.7L773.7 424.6L772.8 426.8L783.2 422.7L772.2 420.4L773.5 422.4L772.4 422.5ZM788.0 424.7L789.0 424.6L788.2 426.8L798.6 422.7L787.6 420.4L788.9 422.4L787.8 422.5ZM803.4 424.7L804.4 424.6L803.5 426.8L814.0 422.7L803.0 420.4L804.2 422.4L803.2 422.5ZM818.7 424.7L819.8 424.6L818.9 426.8L829.4 422.7L818.4 420.4L819.6 422.4L818.5 422.5ZM834.1 424.7L835.2 424.6L834.3 426.8L844.8 422.7L833.7 420.4L835.0 422.4L833.9 422.5ZM849.5 424.7L850.6 424.6L849.7 426.8L860.1 422.7L849.1 420.4L850.4 422.4L849.3 422.5ZM864.9 424.7L865.9 424.6L865.1 426.8L875.5 422.7L864.5 420.4L865.8 422.4L864.7 422.5ZM880.3 424.7L881.3 424.6L880.4 426.8L890.9 422.7L879.9 420.4L881.1 422.4L880.1 422.5ZM895.6 424.7L896.7 424.6L895.8 426.8L906.3 422.7L895.3 420.4L896.5 422.4L895.4 422.5ZM910.9 424.7L912.0 424.7L910.9 426.8L921.7 423.6L910.9 420.4L912.0 422.5L910.9 422.5ZM926.3 424.7L927.4 424.7L926.3 426.8L937.1 423.6L926.3 420.4L927.4 422.5L926.3 422.5ZM941.7 424.7L942.8 424.7L941.7 426.8L952.5 423.6L941.7 420.4L942.8 422.5L941.7 422.5ZM957.1 424.7L958.1 424.7L957.1 426.8L967.8 423.6L957.1 420.4L958.1 422.5L957.1 422.5ZM972.4 424.7L973.5 424.7L972.4 426.8L983.2 423.6L972.4 420.4L973.5 422.5L972.4 422.5ZM987.8 424.7L988.9 424.7L987.8 426.8L998.6 423.6L987.8 420.4L988.9 422.5L987.8 422.5ZM1003.2 424.7L1004.3 424.7L1003.2 426.8L1014.0 423.6L1003.2 420.4L1004.3 422.5L1003.2 422.5ZM1018.6 424.7L1019.7 424.7L1018.6 426.8L1029.4 423.6L1018.6 420.4L1019.7 422.5L1018.6 422.5ZM1034.0 424.7L1036.8 424.7L1035.7 426.9L1046.7 423.6L1035.7 420.3L1036.8 422.5L1034.0 422.5ZM1049.3 424.7L1052.2 424.7L1051.1 426.9L1062.1 423.6L1051.1 420.3L1052.2 422.5L1049.3 422.5ZM1064.7 424.7L1067.6 424.7L1066.5 426.9L1077.5 423.6L1066.5 420.3L1067.6 422.5L1064.7 422.5ZM1080.1 424.7L1082.9 424.7L1081.8 426.9L1092.8 423.6L1081.8 420.3L1082.9 422.5L1080.1 422.5ZM1095.5 424.7L1098.3 424.7L1097.2 426.9L1108.2 423.6L1097.2 420.3L1098.3 422.5L1095.5 422.5ZM1110.9 424.7L1111.9 424.7L1110.9 426.8L1121.6 423.6L1110.9 420.4L1111.9 422.5L1110.9 422.5ZM1126.2 424.7L1127.3 424.7L1126.2 426.8L1137.0 423.6L1126.2 420.4L1127.3 422.5L1126.2 422.5ZM1141.6 424.7L1142.7 424.7L1141.6 426.8L1152.4 423.6L1141.6 420.4L1142.7 422.5L1141.6 422.5ZM1157.0 424.7L1158.1 424.7L1157.0 426.8L1167.8 423.6L1157.0 420.4L1158.1 422.5L1157.0 422.5ZM1172.4 424.7L1173.5 424.7L1172.4 426.8L1183.2 423.6L1172.4 420.4L1173.5 422.5L1172.4 422.5ZM1187.8 424.7L1188.8 424.7L1187.8 426.8L1198.5 423.6L1187.8 420.4L1188.8 422.5L1187.8 422.5ZM1203.1 424.7L1204.2 424.7L1203.1 426.8L1213.9 423.6L1203.1 420.4L1204.2 422.5L1203.1 422.5ZM1218.5 424.7L1219.6 424.7L1218.5 426.8L1229.3 423.6L1218.5 420.4L1219.6 422.5L1218.5 422.5ZM1233.9 424.7L1235.0 424.7L1233.9 426.8L1244.7 423.6L1233.9 420.4L1235.0 422.5L1233.9 422.5ZM1249.3 424.7L1250.4 424.7L1249.3 426.8L1260.1 423.6L1249.3 420.4L1250.4 422.5L1249.3 422.5ZM1264.7 424.7L1265.7 424.7L1264.7 426.8L1275.4 423.6L1264.7 420.4L1265.7 422.5L1264.7 422.5ZM464.9 440.1L467.7 440.1L466.6 442.3L477.6 439.0L466.6 435.7L467.7 437.9L464.9 437.9ZM480.3 440.1L483.1 440.1L482.0 442.3L493.0 439.0L482.0 435.7L483.1 437.9L480.3 437.9ZM495.7 440.1L498.5 440.1L497.4 442.3L508.4 439.0L497.4 435.7L498.5 437.9L495.7 437.9ZM511.0 440.1L513.9 440.1L512.8 442.3L523.8 439.0L512.8 435.7L513.9 437.9L511.0 437.9ZM526.4 440.1L529.3 440.1L528.2 442.3L539.2 439.0L528.2 435.7L529.3 437.9L526.4 437.9ZM541.8 440.1L544.6 440.1L543.5 442.3L554.5 439.0L543.5 435.7L544.6 437.9L541.8 437.9ZM557.2 440.1L560.0 440.1L558.9 442.3L569.9 439.0L558.9 435.7L560.0 437.9L557.2 437.9ZM572.6 440.1L575.4 440.1L574.3 442.3L585.3 439.0L574.3 435.7L575.4 437.9L572.6 437.9ZM587.9 440.1L590.8 440.1L589.7 442.3L600.7 439.0L589.7 435.7L590.8 437.9L587.9 437.9ZM603.3 440.1L606.2 440.1L605.1 442.3L616.1 439.0L605.1 435.7L606.2 437.9L603.3 437.9ZM618.7 440.1L621.5 440.1L620.4 442.3L631.4 439.0L620.4 435.7L621.5 437.9L618.7 437.9ZM634.1 440.1L636.9 440.1L635.8 442.3L646.8 439.0L635.8 435.7L636.9 437.9L634.1 437.9ZM649.5 440.1L652.3 440.1L651.2 442.3L662.2 439.0L651.2 435.7L652.3 437.9L649.5 437.9ZM664.8 440.1L667.7 440.1L666.6 442.3L677.6 439.0L666.6 435.7L667.7 437.9L664.8 437.9ZM680.2 440.1L683.1 440.1L682.0 442.3L693.0 439.0L682.0 435.7L683.1 437.9L680.2 437.9ZM695.6 440.1L698.4 440.1L697.3 442.3L708.3 439.0L697.3 435.7L698.4 437.9L695.6 437.9ZM711.1 440.1L713.9 439.8L713.0 442.1L723.7 437.9L712.4 435.6L713.7 437.7L710.9 437.9ZM726.5 440.1L729.3 439.8L728.4 442.1L739.1 437.9L727.8 435.6L729.1 437.7L726.3 437.9ZM741.8 440.1L744.7 439.8L743.8 442.1L754.4 437.9L743.2 435.6L744.5 437.7L741.6 437.9ZM757.2 440.1L758.3 440.0L757.4 442.2L767.9 438.1L756.8 435.8L758.1 437.8L757.0 437.9ZM772.6 440.1L773.7 440.0L772.8 442.2L783.2 438.1L772.2 435.8L773.5 437.8L772.4 437.9ZM788.0 440.1L789.0 440.0L788.2 442.2L798.6 438.1L787.6 435.8L788.9 437.8L787.8 437.9ZM803.4 440.1L804.4 440.0L803.5 442.2L814.0 438.1L803.0 435.8L804.2 437.8L803.2 437.9ZM818.7 440.1L819.8 440.0L818.9 442.2L829.4 438.1L818.4 435.8L819.6 437.8L818.5 437.9ZM834.1 440.1L835.2 440.0L834.3 442.2L844.8 438.1L833.7 435.8L835.0 437.8L833.9 437.9ZM849.5 440.1L850.6 440.0L849.7 442.2L860.1 438.1L849.1 435.8L850.4 437.8L849.3 437.9ZM864.9 440.1L865.9 440.0L865.1 442.2L875.5 438.1L864.5 435.8L865.8 437.8L864.7 437.9ZM880.3 440.1L881.3 440.0L880.4 442.2L890.9 438.1L879.9 435.8L881.1 437.8L880.1 437.9ZM895.6 440.1L896.7 440.0L895.8 442.2L906.3 438.1L895.3 435.8L896.5 437.8L895.4 437.9ZM910.9 440.1L912.0 440.1L910.9 442.2L921.7 439.0L910.9 435.8L912.0 437.9L910.9 437.9ZM926.3 440.1L927.4 440.1L926.3 442.2L937.1 439.0L926.3 435.8L927.4 437.9L926.3 437.9ZM941.7 440.1L942.8 440.1L941.7 442.2L952.5 439.0L941.7 435.8L942.8 437.9L941.7 437.9ZM957.1 440.1L958.1 440.1L957.1 442.2L967.8 439.0L957.1 435.8L958.1 437.9L957.1 437.9ZM972.4 440.1L973.5 440.1L972.4 442.2L983.2 439.0L972.4 435.8L973.5 437.9L972.4 437.9ZM987.8 440.1L988.9 440.1L987.8 442.2L998.6 439.0L987.8 435.8L988.9 437.9L987.8 437.9ZM1003.2 440.1L1004.3 440.1L1003.2 442.2L1014.0 439.0L1003.2 435.8L1004.3 437.9L1003.2 437.9ZM1018.6 440.1L1019.7 440.1L1018.6 442.2L1029.4 439.0L1018.6 435.8L1019.7 437.9L1018.6 437.9ZM1034.0 440.1L1036.8 440.1L1035.7 442.3L1046.7 439.0L1035.7 435.7L1036.8 437.9L1034.0 437.9ZM1049.3 440.1L1052.2 440.1L1051.1 442.3L1062.1 439.0L1051.1 435.7L1052.2 437.9L1049.3 437.9ZM1064.7 440.1L1067.6 440.1L1066.5 442.3L1077.5 439.0L1066.5 435.7L1067.6 437.9L1064.7 437.9ZM1080.1 440.1L1082.9 440.1L1081.8 442.3L1092.8 439.0L1081.8 435.7L1082.9 437.9L1080.1 437.9ZM1095.5 440.1L1098.3 440.1L1097.2 442.3L1108.2 439.0L1097.2 435.7L1098.3 437.9L1095.5 437.9ZM1110.9 440.1L1111.9 440.1L1110.9 442.2L1121.6 439.0L1110.9 435.8L1111.9 437.9L1110.9 437.9ZM1126.2 440.1L1127.3 440.1L1126.2 442.2L1137.0 439.0L1126.2 435.8L1127.3 437.9L1126.2 437.9ZM1141.6 440.1L1142.7 440.1L1141.6 442.2L1152.4 439.0L1141.6 435.8L1142.7 437.9L1141.6 437.9ZM1157.0 440.1L1158.1 440.1L1157.0 442.2L1167.8 439.0L1157.0 435.8L1158.1 437.9L1157.0 437.9ZM1172.4 440.1L1173.5 440.1L1172.4 442.2L1183.2 439.0L1172.4 435.8L1173.5 437.9L1172.4 437.9ZM1187.8 440.1L1188.8 440.1L1187.8 442.2L1198.5 439.0L1187.8 435.8L1188.8 437.9L1187.8 437.9ZM1203.1 440.1L1204.2 440.1L1203.1 442.2L1213.9 439.0L1203.1 435.8L1204.2 437.9L1203.1 437.9ZM1218.5 440.1L1219.6 440.1L1218.5 442.2L1229.3 439.0L1218.5 435.8L1219.6 437.9L1218.5 437.9ZM1233.9 440.1L1235.0 440.1L1233.9 442.2L1244.7 439.0L1233.9 435.8L1235.0 437.9L1233.9 437.9ZM1249.3 440.1L1250.4 440.1L1249.3 442.2L1260.1 439.0L1249.3 435.8L1250.4 437.9L1249.3 437.9ZM1264.7 440.1L1265.7 440.1L1264.7 442.2L1275.4 439.0L1264.7 435.8L1265.7 437.9L1264.7 437.9Z"/>
<circle cx="385.75" cy="259.35" r="43.8" fill="#ff8080" stroke="#ff5050" stroke-width="2"/>
<circle cx="496.7" cy="425.0" r="12.3" fill="#fff" stroke="#000" stroke-width="3"/>
<circle cx="818.5" cy="316.0" r="12.3" fill="#fff" stroke="#000" stroke-width="3"/>
</g>
<rect x="385.75" y="83.10" width="876.75" height="352.50" fill="none" stroke="#000" stroke-width="2.5"/>
<path d="M385.75 435.60V447.60M561.10 435.60V447.60M736.45 435.60V447.60M911.80 435.60V447.60M1087.15 435.60V447.60M1262.50 435.60V447.60M385.75 83.10H373.75M385.75 259.35H373.75M385.75 435.60H373.75" stroke="#000" stroke-width="2.2" fill="none"/>
<text x="385.75" y="487.00" font-size="40" text-anchor="middle">0</text>
<text x="561.10" y="487.00" font-size="40" text-anchor="middle">10</text>
<text x="736.45" y="487.00" font-size="40" text-anchor="middle">20</text>
<text x="911.80" y="487.00" font-size="40" text-anchor="middle">30</text>
<text x="1087.15" y="487.00" font-size="40" text-anchor="middle">40</text>
<text x="1262.50" y="487.00" font-size="40" text-anchor="middle">50</text>
<text x="357.50" y="97.10" font-size="40" text-anchor="end">10</text>
<text x="359.50" y="273.35" font-size="40" text-anchor="end">0</text>
<text x="357.50" y="449.60" font-size="40" text-anchor="end"><tspan font-size="49">−</tspan>10</text>
<text x="823.5" y="544.0" font-size="48" text-anchor="middle"><tspan font-style="italic">x</tspan>[<tspan font-style="italic">mm</tspan>]</text>
<text transform="translate(267.0 257.8) rotate(-90)" font-size="46" text-anchor="middle"><tspan font-style="italic">y</tspan>[<tspan font-style="italic">mm</tspan>]</text>
<rect x="535.0" y="375.5" width="40.3" height="60.0" rx="7" fill="#fff" fill-opacity="0.9" stroke="#000" stroke-width="3"/>
<text x="551.1" y="417.2" font-size="48" text-anchor="middle">1</text>
<rect x="850.8" y="269.9" width="40.5" height="60.0" rx="7" fill="#fff" fill-opacity="0.9" stroke="#000" stroke-width="3"/>
<text x="870.0" y="312.4" font-size="48" text-anchor="middle">2</text>
<rect x="1301.00" y="435.39" width="22.40" height="59.11" fill="#48186a"/>
<rect x="1301.00" y="376.59" width="22.40" height="59.11" fill="#424086"/>
<rect x="1301.00" y="317.78" width="22.40" height="59.11" fill="#33638d"/>
<rect x="1301.00" y="258.98" width="22.40" height="59.11" fill="#26828e"/>
<rect x="1301.00" y="200.17" width="22.40" height="59.11" fill="#1fa088"/>
<rect x="1301.00" y="141.36" width="22.40" height="59.11" fill="#3fbc73"/>
<rect x="1301.00" y="82.56" width="22.40" height="59.11" fill="#84d44b"/>
<rect x="1301.00" y="23.75" width="22.40" height="59.11" fill="#d8e219"/>
<rect x="1301.00" y="23.75" width="22.40" height="470.45" fill="none" stroke="#000" stroke-width="2.5"/>
<path d="M1323.40 494.20H1336.40M1323.40 435.39H1336.40M1323.40 376.59H1336.40M1323.40 317.78H1336.40M1323.40 258.98H1336.40M1323.40 200.17H1336.40M1323.40 141.36H1336.40M1323.40 82.56H1336.40M1323.40 23.75H1336.40" stroke="#000" stroke-width="2.2" fill="none"/>
<text x="1344.5" y="508.20" font-size="40">0</text>
<text x="1344.5" y="449.39" font-size="40">2</text>
<text x="1344.5" y="390.59" font-size="40">4</text>
<text x="1344.5" y="331.78" font-size="40">6</text>
<text x="1344.5" y="272.98" font-size="40">8</text>
<text x="1344.5" y="214.17" font-size="40">10</text>
<text x="1344.5" y="155.36" font-size="40">12</text>
<text x="1344.5" y="96.56" font-size="40">14</text>
<text x="1344.5" y="37.75" font-size="40">16</text>
<text x="792.0" y="702.0" font-size="49" text-anchor="middle">(a)</text>
<polygon fill="#1f77b4" points="132.0,824.6 134.7,824.6 137.4,824.7 140.1,824.7 142.9,824.8 145.6,824.8 148.3,824.9 151.0,824.9 153.7,825.0 156.4,825.0 159.1,825.0 161.9,825.1 164.6,825.1 167.3,825.2 170.0,825.2 172.7,825.3 175.4,825.3 178.2,825.3 180.9,825.4 183.6,825.4 186.3,825.5 189.0,825.5 191.7,825.6 194.4,825.6 197.2,825.6 199.9,825.7 202.6,825.7 205.3,825.8 208.0,825.8 210.7,825.9 213.4,825.9 216.2,825.9 218.9,826.0 221.6,826.0 224.3,826.1 227.0,826.1 229.7,826.2 232.4,826.2 235.2,826.2 237.9,826.3 240.6,826.3 243.3,826.4 246.0,826.4 248.7,826.5 251.4,826.5 254.2,826.5 256.9,826.4 259.6,826.4 262.3,826.4 265.0,826.4 267.7,826.4 270.5,826.3 273.2,826.3 275.9,826.3 278.6,826.3 281.3,826.3 284.0,826.2 286.7,826.2 289.5,826.2 292.2,826.2 294.9,826.2 297.6,826.2 300.3,826.4 303.0,828.0 305.7,829.7 308.5,831.3 311.2,833.6 313.9,836.9 316.6,840.3 319.3,843.6 322.0,846.9 324.7,850.0 327.5,853.2 330.2,856.3 332.9,859.5 335.6,862.6 338.3,865.8 341.0,869.7 343.8,874.5 346.5,879.3 349.2,884.8 351.9,892.6 354.6,900.4 357.3,908.3 360.0,917.4 362.8,927.0 365.5,936.7 368.2,946.3 370.9,956.0 373.6,965.7 376.3,975.5 379.0,985.2 381.8,996.1 384.5,1007.4 387.2,1018.7 389.9,1029.8 392.6,1037.6 395.3,1045.2 398.0,1052.8 400.8,1060.2 403.5,1067.2 406.2,1074.2 408.9,1081.1 411.6,1089.8 414.3,1099.0 417.1,1108.2 419.8,1116.9 422.5,1123.9 425.2,1131.0 427.9,1138.1 430.6,1143.7 433.3,1145.4 436.1,1147.2 438.8,1148.9 441.5,1150.7 444.2,1152.5 446.9,1154.2 449.6,1156.0 452.3,1156.7 455.1,1157.3 457.8,1157.8 460.5,1158.3 463.2,1158.8 465.9,1159.3 468.6,1159.9 471.3,1160.4 474.1,1160.9 476.8,1161.4 479.5,1161.9 482.2,1162.5 484.9,1163.0 487.6,1163.4 490.3,1163.9 493.1,1164.4 495.8,1164.9 498.5,1165.4 501.2,1165.7 503.9,1165.9 506.6,1166.1 509.4,1166.3 512.1,1166.4 514.8,1166.6 517.5,1166.8 520.2,1167.0 522.9,1167.1 525.6,1167.3 528.4,1167.5 531.1,1167.7 533.8,1167.8 536.5,1168.0 539.2,1168.2 541.9,1168.4 544.6,1168.5 547.4,1168.7 550.1,1168.9 552.8,1169.1 555.5,1169.3 558.2,1169.4 560.9,1169.6 563.6,1169.8 566.4,1170.0 569.1,1170.1 571.8,1170.3 574.5,1170.5 577.2,1170.7 579.9,1170.8 582.7,1171.0 585.4,1171.2 588.1,1171.4 590.8,1171.5 593.5,1171.7 596.2,1171.9 598.9,1172.1 601.7,1172.2 604.4,1172.3 607.1,1172.5 609.8,1172.6 612.5,1172.7 615.2,1172.9 617.9,1173.0 620.7,1173.1 623.4,1173.3 626.1,1173.4 628.8,1173.5 631.5,1173.6 634.2,1173.8 636.9,1173.9 639.7,1174.0 642.4,1174.2 645.1,1174.3 647.8,1174.4 650.5,1174.6 653.2,1174.7 656.0,1174.8 658.7,1174.9 661.4,1175.1 664.1,1175.2 666.8,1175.3 669.5,1175.5 672.2,1175.6 675.0,1175.7 677.7,1175.9 680.4,1176.0 683.1,1176.1 685.8,1176.3 688.5,1176.4 691.2,1176.5 694.0,1176.6 696.7,1176.8 699.4,1176.9 702.1,1176.9 704.8,1176.9 707.5,1176.9 710.2,1176.9 713.0,1176.9 715.7,1176.9 718.4,1176.9 721.1,1176.9 723.8,1176.9 726.5,1176.9 726.5,1201.0 723.8,1201.0 721.1,1201.0 718.4,1201.0 715.7,1201.0 713.0,1201.0 710.2,1201.0 707.5,1201.0 704.8,1201.0 702.1,1201.0 699.4,1201.0 696.7,1200.8 694.0,1200.7 691.2,1200.6 688.5,1200.5 685.8,1200.3 683.1,1200.2 680.4,1200.1 677.7,1199.9 675.0,1199.8 672.2,1199.7 669.5,1199.5 666.8,1199.4 664.1,1199.3 661.4,1199.2 658.7,1199.0 656.0,1198.9 653.2,1198.8 650.5,1198.6 647.8,1198.5 645.1,1198.4 642.4,1198.2 639.7,1198.1 636.9,1198.0 634.2,1197.8 631.5,1197.7 628.8,1197.6 626.1,1197.5 623.4,1197.3 620.7,1197.2 617.9,1197.1 615.2,1196.9 612.5,1196.8 609.8,1196.7 607.1,1196.5 604.4,1196.4 601.7,1196.3 598.9,1196.1 596.2,1196.0 593.5,1195.8 590.8,1195.6 588.1,1195.4 585.4,1195.3 582.7,1195.1 579.9,1194.9 577.2,1194.7 574.5,1194.6 571.8,1194.4 569.1,1194.2 566.4,1194.0 563.6,1193.9 560.9,1193.7 558.2,1193.5 555.5,1193.3 552.8,1193.2 550.1,1193.0 547.4,1192.8 544.6,1192.6 541.9,1192.4 539.2,1192.3 536.5,1192.1 533.8,1191.9 531.1,1191.7 528.4,1191.6 525.6,1191.4 522.9,1191.2 520.2,1191.0 517.5,1190.9 514.8,1190.7 512.1,1190.5 509.4,1190.3 506.6,1190.2 503.9,1190.0 501.2,1189.8 498.5,1189.4 495.8,1188.9 493.1,1188.5 490.3,1188.0 487.6,1187.5 484.9,1187.0 482.2,1186.6 479.5,1186.1 476.8,1185.7 474.1,1185.3 471.3,1184.8 468.6,1184.4 465.9,1184.0 463.2,1183.5 460.5,1183.1 457.8,1182.6 455.1,1182.2 452.3,1181.8 449.6,1181.1 446.9,1179.4 444.2,1177.7 441.5,1176.0 438.8,1174.4 436.1,1172.7 433.3,1171.0 430.6,1169.3 427.9,1163.8 425.2,1156.8 422.5,1149.8 419.8,1142.8 417.1,1134.2 414.3,1125.0 411.6,1115.8 408.9,1107.2 406.2,1100.3 403.5,1093.4 400.8,1086.5 398.0,1079.2 395.3,1071.6 392.6,1064.0 389.9,1056.3 387.2,1045.3 384.5,1034.0 381.8,1022.7 379.0,1011.9 376.3,1002.2 373.6,992.5 370.9,982.8 368.2,973.2 365.5,963.6 362.8,954.0 360.0,944.5 357.3,935.4 354.6,927.6 351.9,919.8 349.2,912.0 346.5,907.2 343.8,903.1 341.0,899.0 338.3,895.9 335.6,893.5 332.9,891.1 330.2,888.7 327.5,886.3 324.7,883.9 322.0,881.5 319.3,879.0 316.6,876.4 313.9,873.8 311.2,871.2 308.5,869.7 305.7,868.2 303.0,866.6 300.3,865.1 297.6,864.9 294.9,864.9 292.2,865.0 289.5,865.1 286.7,865.1 284.0,865.2 281.3,865.3 278.6,865.3 275.9,865.4 273.2,865.5 270.5,865.5 267.7,865.6 265.0,865.7 262.3,865.7 259.6,865.8 256.9,865.9 254.2,866.0 251.4,866.0 248.7,866.1 246.0,866.1 243.3,866.1 240.6,866.1 237.9,866.1 235.2,866.1 232.4,866.1 229.7,866.1 227.0,866.1 224.3,866.1 221.6,866.1 218.9,866.1 216.2,866.1 213.4,866.1 210.7,866.2 208.0,866.2 205.3,866.2 202.6,866.2 199.9,866.2 197.2,866.2 194.4,866.2 191.7,866.2 189.0,866.2 186.3,866.2 183.6,866.2 180.9,866.2 178.2,866.2 175.4,866.2 172.7,866.2 170.0,866.2 167.3,866.3 164.6,866.3 161.9,866.3 159.1,866.3 156.4,866.3 153.7,866.3 151.0,866.3 148.3,866.3 145.6,866.3 142.9,866.3 140.1,866.3 137.4,866.3 134.7,866.3 132.0,866.3"/>
<defs><clipPath id="cb"><rect x="101.75" y="783.00" width="655.85" height="462.50"/></clipPath></defs>
<polyline clip-path="url(#cb)" fill="none" stroke="#1f77b4" stroke-width="2.7" stroke-linejoin="round" points="132.0,839.1 132.1,819.0 132.3,822.4 132.4,848.9 132.5,845.8 132.7,849.7 132.8,834.8 133.0,846.0 133.1,833.2 133.2,873.5 133.4,820.4 133.5,846.3 133.6,834.2 133.8,847.8 133.9,852.0 134.0,839.4 134.2,834.1 134.3,849.2 134.4,848.2 134.6,837.6 134.7,862.0 134.9,871.0 135.0,843.4 135.1,859.2 135.3,877.4 135.4,862.1 135.5,856.3 135.7,867.5 135.8,873.0 135.9,848.0 136.1,833.0 136.2,849.9 136.3,854.9 136.5,837.5 136.6,831.5 136.8,846.0 136.9,832.1 137.0,822.6 137.2,842.4 137.3,851.2 137.4,835.6 137.6,837.2 137.7,825.5 137.8,859.8 138.0,851.4 138.1,853.8 138.2,868.4 138.4,842.5 138.5,836.6 138.7,855.4 138.8,822.1 138.9,830.7 139.1,832.9 139.2,837.0 139.3,829.3 139.5,863.0 139.6,834.7 139.7,836.0 139.9,869.8 140.0,839.5 140.1,848.5 140.3,833.4 140.4,853.8 140.6,848.9 140.7,845.0 140.8,865.4 141.0,842.8 141.1,853.1 141.2,844.0 141.4,859.5 141.5,834.9 141.6,842.1 141.8,854.2 141.9,843.8 142.0,831.1 142.2,822.9 142.3,874.3 142.5,835.4 142.6,841.1 142.7,849.5 142.9,864.4 143.0,830.8 143.1,870.6 143.3,841.6 143.4,828.2 143.5,873.6 143.7,854.8 143.8,868.9 143.9,845.9 144.1,825.7 144.2,818.3 144.4,875.9 144.5,857.0 144.6,835.6 144.8,821.9 144.9,837.7 145.0,855.2 145.2,839.5 145.3,844.1 145.4,848.0 145.6,855.2 145.7,838.7 145.8,839.5 146.0,845.9 146.1,848.7 146.3,865.3 146.4,852.8 146.5,826.6 146.7,848.5 146.8,867.1 146.9,826.6 147.1,837.3 147.2,812.3 147.3,844.7 147.5,854.8 147.6,869.7 147.7,826.4 147.9,805.5 148.0,859.8 148.2,858.0 148.3,839.2 148.4,859.7 148.6,849.9 148.7,851.8 148.8,843.2 149.0,829.0 149.1,844.8 149.2,831.4 149.4,851.9 149.5,839.3 149.6,877.3 149.8,866.2 149.9,831.2 150.1,851.1 150.2,835.1 150.3,835.4 150.5,822.0 150.6,829.6 150.7,828.6 150.9,846.2 151.0,852.9 151.1,853.9 151.3,849.9 151.4,859.5 151.5,851.1 151.7,844.5 151.8,838.3 152.0,848.8 152.1,873.3 152.2,843.6 152.4,839.4 152.5,827.2 152.6,836.4 152.8,855.3 152.9,857.0 153.0,816.5 153.2,834.8 153.3,819.0 153.4,813.9 153.6,858.0 153.7,839.0 153.9,837.6 154.0,835.8 154.1,835.7 154.3,839.6 154.4,840.5 154.5,868.8 154.7,849.0 154.8,855.7 154.9,842.2 155.1,851.9 155.2,835.3 155.3,833.1 155.5,840.2 155.6,839.6 155.8,841.5 155.9,849.9 156.0,846.3 156.2,850.8 156.3,839.0 156.4,844.6 156.6,835.2 156.7,863.5 156.8,829.6 157.0,852.0 157.1,851.4 157.2,845.1 157.4,849.6 157.5,838.1 157.7,850.1 157.8,857.1 157.9,852.5 158.1,819.6 158.2,838.5 158.3,857.9 158.5,840.2 158.6,861.8 158.7,811.9 158.9,862.3 159.0,850.7 159.1,831.6 159.3,861.7 159.4,833.9 159.6,823.8 159.7,833.1 159.8,838.1 160.0,826.8 160.1,838.2 160.2,836.5 160.4,843.7 160.5,832.4 160.6,857.6 160.8,831.5 160.9,850.9 161.0,862.7 161.2,840.5 161.3,820.6 161.5,832.5 161.6,853.2 161.7,836.5 161.9,855.4 162.0,851.7 162.1,849.4 162.3,885.9 162.4,848.7 162.5,868.1 162.7,863.2 162.8,874.9 162.9,875.8 163.1,866.5 163.2,839.3 163.4,827.2 163.5,853.3 163.6,835.9 163.8,855.5 163.9,879.1 164.0,850.3 164.2,844.8 164.3,858.3 164.4,847.2 164.6,843.8 164.7,864.8 164.8,873.7 165.0,854.3 165.1,853.0 165.3,855.5 165.4,834.4 165.5,823.3 165.7,854.9 165.8,837.6 165.9,833.7 166.1,837.5 166.2,831.4 166.3,854.0 166.5,835.0 166.6,814.1 166.7,832.1 166.9,854.1 167.0,835.3 167.2,825.4 167.3,838.2 167.4,850.9 167.6,819.1 167.7,861.9 167.8,835.0 168.0,843.9 168.1,860.8 168.2,825.3 168.4,838.5 168.5,862.0 168.6,836.6 168.8,851.7 168.9,874.0 169.1,856.3 169.2,841.5 169.3,835.7 169.5,843.1 169.6,845.5 169.7,839.8 169.9,849.8 170.0,827.4 170.1,842.9 170.3,841.8 170.4,838.5 170.5,861.9 170.7,856.3 170.8,823.0 171.0,840.3 171.1,850.0 171.2,841.0 171.4,853.2 171.5,843.2 171.6,856.8 171.8,842.3 171.9,871.6 172.0,827.7 172.2,856.2 172.3,871.6 172.5,851.2 172.6,851.8 172.7,841.8 172.9,861.5 173.0,840.2 173.1,805.6 173.3,867.3 173.4,841.9 173.5,851.5 173.7,842.8 173.8,873.7 173.9,864.8 174.1,840.7 174.2,848.0 174.4,822.0 174.5,854.9 174.6,842.6 174.8,805.6 174.9,857.2 175.0,858.6 175.2,845.4 175.3,843.4 175.4,830.7 175.6,841.6 175.7,854.4 175.8,841.2 176.0,805.6 176.1,823.6 176.3,883.0 176.4,843.3 176.5,852.7 176.7,830.7 176.8,844.3 176.9,814.6 177.1,827.1 177.2,825.8 177.3,837.8 177.5,842.6 177.6,835.8 177.7,822.9 177.9,832.5 178.0,845.5 178.2,822.0 178.3,836.9 178.4,841.4 178.6,854.1 178.7,849.9 178.8,852.0 179.0,882.6 179.1,826.7 179.2,834.3 179.4,847.4 179.5,828.8 179.6,838.9 179.8,841.5 179.9,882.7 180.1,849.9 180.2,836.9 180.3,822.1 180.5,818.6 180.6,826.6 180.7,866.1 180.9,881.0 181.0,837.4 181.1,846.8 181.3,832.1 181.4,849.3 181.5,843.8 181.7,886.5 181.8,841.0 182.0,856.1 182.1,844.5 182.2,842.4 182.4,852.2 182.5,845.5 182.6,850.5 182.8,838.7 182.9,842.6 183.0,857.9 183.2,858.0 183.3,822.5 183.4,850.7 183.6,834.3 183.7,842.5 183.9,856.5 184.0,859.8 184.1,846.7 184.3,845.9 184.4,840.9 184.5,869.0 184.7,858.7 184.8,849.5 184.9,823.9 185.1,883.1 185.2,842.1 185.3,857.3 185.5,841.3 185.6,854.4 185.8,840.9 185.9,823.3 186.0,840.6 186.2,839.9 186.3,840.2 186.4,856.8 186.6,838.7 186.7,848.8 186.8,858.7 187.0,848.1 187.1,852.8 187.2,837.6 187.4,850.2 187.5,858.2 187.7,826.7 187.8,833.5 187.9,829.0 188.1,838.5 188.2,848.1 188.3,851.8 188.5,850.8 188.6,832.8 188.7,843.4 188.9,869.1 189.0,846.1 189.1,867.2 189.3,843.5 189.4,863.8 189.6,863.2 189.7,843.7 189.8,846.8 190.0,870.0 190.1,835.1 190.2,812.8 190.4,868.0 190.5,818.2 190.6,854.8 190.8,850.6 190.9,846.7 191.0,866.3 191.2,824.3 191.3,836.6 191.5,855.2 191.6,846.3 191.7,866.7 191.9,849.7 192.0,830.4 192.1,870.0 192.3,849.8 192.4,842.9 192.5,828.5 192.7,823.9 192.8,852.1 192.9,855.9 193.1,839.9 193.2,853.4 193.4,852.1 193.5,831.2 193.6,822.9 193.8,844.3 193.9,851.1 194.0,838.8 194.2,875.5 194.3,847.9 194.4,863.9 194.6,810.5 194.7,835.5 194.8,846.5 195.0,850.9 195.1,884.7 195.3,836.0 195.4,824.0 195.5,859.0 195.7,838.5 195.8,837.1 195.9,870.0 196.1,832.7 196.2,827.8 196.3,846.1 196.5,850.1 196.6,837.4 196.7,871.6 196.9,847.4 197.0,833.2 197.2,866.6 197.3,832.8 197.4,853.1 197.6,876.8 197.7,848.0 197.8,859.7 198.0,840.2 198.1,863.7 198.2,831.1 198.4,857.6 198.5,842.7 198.6,858.9 198.8,854.7 198.9,831.1 199.1,845.2 199.2,853.0 199.3,866.8 199.5,828.2 199.6,833.4 199.7,849.4 199.9,841.3 200.0,859.6 200.1,860.5 200.3,856.2 200.4,838.0 200.5,838.5 200.7,853.8 200.8,832.5 201.0,831.3 201.1,839.9 201.2,826.8 201.4,844.5 201.5,841.1 201.6,833.8 201.8,841.5 201.9,830.7 202.0,861.2 202.2,819.9 202.3,852.1 202.4,843.0 202.6,859.7 202.7,832.1 202.9,822.3 203.0,825.4 203.1,829.4 203.3,866.8 203.4,854.9 203.5,850.8 203.7,856.9 203.8,825.9 203.9,839.4 204.1,843.2 204.2,836.0 204.3,858.3 204.5,859.5 204.6,858.7 204.8,836.7 204.9,837.8 205.0,833.6 205.2,826.4 205.3,862.7 205.4,852.3 205.6,844.4 205.7,866.8 205.8,854.3 206.0,831.7 206.1,831.3 206.2,833.8 206.4,849.4 206.5,852.2 206.7,833.3 206.8,852.2 206.9,841.4 207.1,827.5 207.2,853.9 207.3,856.3 207.5,846.9 207.6,839.2 207.7,842.5 207.9,847.4 208.0,842.4 208.1,874.2 208.3,863.6 208.4,848.7 208.6,863.5 208.7,870.5 208.8,870.2 209.0,867.7 209.1,857.6 209.2,871.3 209.4,853.3 209.5,831.0 209.6,856.0 209.8,835.2 209.9,848.7 210.0,868.1 210.2,855.0 210.3,863.7 210.5,836.3 210.6,864.7 210.7,826.8 210.9,838.9 211.0,877.2 211.1,834.7 211.3,805.9 211.4,857.1 211.5,829.9 211.7,871.1 211.8,840.4 212.0,870.4 212.1,837.3 212.2,870.6 212.4,880.9 212.5,835.4 212.6,807.7 212.8,849.3 212.9,826.9 213.0,836.4 213.2,842.5 213.3,827.2 213.4,811.9 213.6,854.8 213.7,830.2 213.9,833.5 214.0,861.9 214.1,817.1 214.3,812.5 214.4,855.7 214.5,815.9 214.7,842.8 214.8,847.2 214.9,822.2 215.1,840.7 215.2,838.9 215.3,821.0 215.5,824.7 215.6,832.2 215.8,865.2 215.9,867.4 216.0,826.4 216.2,857.9 216.3,843.9 216.4,863.6 216.6,850.4 216.7,867.6 216.8,824.7 217.0,865.2 217.1,852.3 217.2,853.2 217.4,832.1 217.5,870.9 217.7,849.8 217.8,851.8 217.9,841.1 218.1,840.3 218.2,854.8 218.3,843.9 218.5,854.6 218.6,842.2 218.7,849.3 218.9,857.5 219.0,849.6 219.1,844.7 219.3,816.8 219.4,857.2 219.6,844.0 219.7,826.4 219.8,879.4 220.0,874.9 220.1,867.0 220.2,851.6 220.4,813.2 220.5,843.1 220.6,831.8 220.8,853.2 220.9,885.8 221.0,883.1 221.2,832.8 221.3,844.7 221.5,867.3 221.6,831.0 221.7,871.4 221.9,831.9 222.0,826.7 222.1,860.3 222.3,864.7 222.4,835.6 222.5,863.4 222.7,834.4 222.8,865.6 222.9,835.6 223.1,844.3 223.2,853.0 223.4,860.0 223.5,843.0 223.6,875.8 223.8,851.0 223.9,852.8 224.0,837.1 224.2,865.6 224.3,821.1 224.4,850.7 224.6,863.2 224.7,824.1 224.8,818.8 225.0,847.2 225.1,857.7 225.3,842.6 225.4,853.9 225.5,847.4 225.7,821.0 225.8,838.6 225.9,840.9 226.1,838.6 226.2,845.3 226.3,832.1 226.5,832.1 226.6,850.6 226.7,844.2 226.9,809.3 227.0,838.5 227.2,847.9 227.3,813.2 227.4,842.5 227.6,860.2 227.7,835.3 227.8,860.3 228.0,853.4 228.1,841.3 228.2,848.4 228.4,857.8 228.5,853.4 228.6,853.7 228.8,828.5 228.9,857.3 229.1,855.7 229.2,814.7 229.3,855.3 229.5,824.9 229.6,828.7 229.7,849.0 229.9,868.0 230.0,842.5 230.1,838.9 230.3,833.6 230.4,845.4 230.5,828.2 230.7,825.9 230.8,862.3 231.0,826.7 231.1,846.0 231.2,857.1 231.4,854.1 231.5,823.1 231.6,835.3 231.8,875.1 231.9,846.7 232.0,851.1 232.2,851.0 232.3,855.2 232.4,868.4 232.6,835.8 232.7,862.0 232.9,853.7 233.0,856.6 233.1,857.2 233.3,836.3 233.4,841.9 233.5,858.3 233.7,862.0 233.8,854.9 233.9,833.2 234.1,842.6 234.2,841.9 234.3,849.4 234.5,849.1 234.6,841.3 234.8,871.7 234.9,819.6 235.0,853.8 235.2,849.2 235.3,821.2 235.4,838.1 235.6,839.4 235.7,829.2 235.8,863.8 236.0,838.7 236.1,823.2 236.2,855.3 236.4,821.8 236.5,858.9 236.7,853.6 236.8,835.4 236.9,841.7 237.1,831.4 237.2,854.0 237.3,859.7 237.5,871.2 237.6,861.5 237.7,860.0 237.9,865.2 238.0,839.6 238.1,855.9 238.3,873.7 238.4,807.6 238.6,857.1 238.7,864.9 238.8,828.6 239.0,830.8 239.1,867.0 239.2,872.6 239.4,864.9 239.5,835.1 239.6,857.3 239.8,864.7 239.9,853.3 240.0,834.3 240.2,872.4 240.3,856.0 240.5,869.3 240.6,816.8 240.7,821.6 240.9,835.4 241.0,853.0 241.1,841.0 241.3,880.7 241.4,844.9 241.5,869.1 241.7,867.1 241.8,857.0 241.9,851.9 242.1,838.5 242.2,836.5 242.4,844.4 242.5,863.6 242.6,840.0 242.8,851.7 242.9,831.8 243.0,861.2 243.2,887.4 243.3,854.6 243.4,817.3 243.6,840.4 243.7,849.5 243.8,833.9 244.0,838.6 244.1,839.2 244.3,854.7 244.4,846.0 244.5,846.2 244.7,857.6 244.8,864.4 244.9,845.3 245.1,832.6 245.2,838.0 245.3,840.2 245.5,840.4 245.6,809.1 245.7,844.1 245.9,832.3 246.0,819.4 246.2,846.1 246.3,842.0 246.4,829.7 246.6,818.2 246.7,837.5 246.8,835.6 247.0,839.3 247.1,859.8 247.2,825.6 247.4,844.6 247.5,866.1 247.6,842.8 247.8,867.0 247.9,855.3 248.1,840.2 248.2,853.1 248.3,821.5 248.5,859.3 248.6,832.2 248.7,828.8 248.9,806.1 249.0,823.1 249.1,832.8 249.3,834.0 249.4,836.0 249.5,818.5 249.7,845.7 249.8,829.1 250.0,839.6 250.1,835.7 250.2,843.2 250.4,808.0 250.5,849.1 250.6,838.2 250.8,839.0 250.9,833.2 251.0,836.2 251.2,836.9 251.3,828.9 251.4,865.1 251.6,842.9 251.7,861.1 251.9,839.7 252.0,861.8 252.1,859.8 252.3,847.4 252.4,827.8 252.5,840.5 252.7,845.3 252.8,829.0 252.9,862.4 253.1,878.4 253.2,853.9 253.4,852.6 253.5,828.9 253.6,806.1 253.8,865.7 253.9,809.1 254.0,822.4 254.2,831.7 254.3,839.7 254.4,810.5 254.6,844.6 254.7,851.0 254.8,841.2 255.0,864.2 255.1,836.2 255.3,846.0 255.4,839.3 255.5,839.4 255.7,859.1 255.8,823.2 255.9,856.4 256.1,829.3 256.2,882.2 256.3,836.5 256.5,853.2 256.6,858.8 256.7,852.2 256.9,875.5 257.0,861.5 257.2,845.7 257.3,837.7 257.4,868.6 257.6,879.3 257.7,861.8 257.8,852.3 258.0,858.8 258.1,861.0 258.2,836.5 258.4,835.1 258.5,839.4 258.6,862.6 258.8,848.1 258.9,852.6 259.1,869.6 259.2,836.5 259.3,847.1 259.5,855.7 259.6,827.4 259.7,837.6 259.9,836.9 260.0,832.6 260.1,837.8 260.3,866.6 260.4,854.7 260.5,834.8 260.7,861.5 260.8,848.6 261.0,842.8 261.1,825.9 261.2,826.8 261.4,833.7 261.5,849.4 261.6,834.7 261.8,839.2 261.9,848.5 262.0,825.2 262.2,838.1 262.3,857.8 262.4,827.4 262.6,849.2 262.7,839.1 262.9,871.2 263.0,849.3 263.1,865.4 263.3,866.5 263.4,878.8 263.5,819.6 263.7,853.6 263.8,847.3 263.9,834.8 264.1,853.1 264.2,844.9 264.3,871.6 264.5,847.0 264.6,855.5 264.8,840.4 264.9,846.2 265.0,869.0 265.2,877.5 265.3,866.3 265.4,839.4 265.6,843.7 265.7,843.1 265.8,880.8 266.0,891.2 266.1,861.8 266.2,857.4 266.4,860.6 266.5,846.4 266.7,852.3 266.8,866.4 266.9,859.7 267.1,844.5 267.2,844.3 267.3,844.6 267.5,811.3 267.6,848.1 267.7,841.6 267.9,859.6 268.0,851.6 268.1,836.9 268.3,835.5 268.4,846.7 268.6,839.2 268.7,844.4 268.8,874.3 269.0,893.6 269.1,812.6 269.2,833.3 269.4,844.6 269.5,869.2 269.6,862.5 269.8,824.2 269.9,884.4 270.0,847.1 270.2,829.3 270.3,839.8 270.5,830.6 270.6,843.0 270.7,806.3 270.9,855.9 271.0,861.9 271.1,838.3 271.3,820.7 271.4,842.3 271.5,825.5 271.7,849.1 271.8,859.1 271.9,819.5 272.1,815.4 272.2,818.8 272.4,849.2 272.5,859.9 272.6,860.8 272.8,847.0 272.9,834.6 273.0,835.0 273.2,863.1 273.3,840.6 273.4,843.3 273.6,842.6 273.7,845.2 273.8,848.9 274.0,834.7 274.1,842.7 274.3,841.9 274.4,856.4 274.5,841.5 274.7,849.9 274.8,879.6 274.9,841.6 275.1,853.5 275.2,835.6 275.3,851.6 275.5,851.6 275.6,847.7 275.7,851.3 275.9,858.6 276.0,879.5 276.2,826.5 276.3,874.9 276.4,854.7 276.6,840.3 276.7,843.2 276.8,840.4 277.0,837.2 277.1,831.2 277.2,843.9 277.4,805.7 277.5,863.9 277.6,846.1 277.8,854.6 277.9,855.4 278.1,844.5 278.2,826.3 278.3,856.4 278.5,855.7 278.6,835.3 278.7,838.4 278.9,817.8 279.0,833.5 279.1,845.1 279.3,853.1 279.4,846.4 279.5,851.8 279.7,869.7 279.8,847.5 280.0,848.5 280.1,849.1 280.2,852.9 280.4,821.9 280.5,836.9 280.6,833.3 280.8,855.9 280.9,883.4 281.0,850.2 281.2,840.7 281.3,850.2 281.4,848.1 281.6,830.2 281.7,838.0 281.9,855.5 282.0,847.6 282.1,850.7 282.3,838.6 282.4,858.1 282.5,843.7 282.7,829.7 282.8,838.2 282.9,851.6 283.1,845.8 283.2,835.6 283.3,831.0 283.5,825.7 283.6,840.0 283.8,855.8 283.9,816.5 284.0,834.7 284.2,833.0 284.3,833.8 284.4,852.7 284.6,842.6 284.7,834.4 284.8,824.4 285.0,839.5 285.1,887.0 285.2,846.1 285.4,837.8 285.5,824.3 285.7,833.5 285.8,808.9 285.9,825.4 286.1,826.3 286.2,832.9 286.3,867.7 286.5,836.3 286.6,840.2 286.7,856.2 286.9,841.0 287.0,843.5 287.1,856.6 287.3,851.3 287.4,854.3 287.6,846.7 287.7,855.9 287.8,843.4 288.0,878.6 288.1,854.1 288.2,874.8 288.4,856.2 288.5,842.7 288.6,849.0 288.8,852.8 288.9,847.9 289.0,825.7 289.2,864.1 289.3,835.1 289.5,870.6 289.6,854.3 289.7,844.2 289.9,858.9 290.0,843.5 290.1,837.4 290.3,865.2 290.4,848.3 290.5,853.1 290.7,875.2 290.8,850.6 290.9,858.6 291.1,827.2 291.2,859.0 291.4,821.6 291.5,851.4 291.6,816.5 291.8,836.9 291.9,837.4 292.0,832.6 292.2,831.2 292.3,824.3 292.4,821.4 292.6,851.3 292.7,865.3 292.9,884.6 293.0,853.2 293.1,837.6 293.3,844.0 293.4,848.4 293.5,854.9 293.7,859.8 293.8,855.6 293.9,845.1 294.1,877.0 294.2,839.6 294.3,871.2 294.5,851.9 294.6,858.0 294.8,854.9 294.9,864.1 295.0,865.7 295.2,852.6 295.3,864.6 295.4,813.0 295.6,855.4 295.7,858.0 295.8,856.9 296.0,864.3 296.1,885.4 296.2,853.9 296.4,844.6 296.5,868.6 296.7,846.6 296.8,864.1 296.9,846.9 297.1,840.6 297.2,838.5 297.3,838.0 297.5,854.0 297.6,830.5 297.7,849.4 297.9,837.2 298.0,832.5 298.1,845.8 298.3,860.1 298.4,832.9 298.6,858.4 298.7,856.0 298.8,857.5 299.0,829.5 299.1,843.8 299.2,874.3 299.4,831.4 299.5,812.3 299.6,816.6 299.8,850.6 299.9,840.9 300.0,834.6 300.2,828.7 300.3,841.4 300.5,858.5 300.6,833.0 300.7,835.2 300.9,862.6 301.0,847.2 301.1,837.8 301.3,840.7 301.4,833.1 301.5,829.4 301.7,815.6 301.8,844.9 301.9,862.3 302.1,834.0 302.2,823.0 302.4,815.0 302.5,843.5 302.6,843.6 302.8,822.0 302.9,823.1 303.0,838.6 303.2,833.6 303.3,853.8 303.4,834.9 303.6,854.5 303.7,845.5 303.8,845.8 304.0,849.5 304.1,873.8 304.3,855.4 304.4,838.4 304.5,843.0 304.7,848.5 304.8,837.7 304.9,834.8 305.1,833.2 305.2,857.7 305.3,846.1 305.5,852.0 305.6,860.6 305.7,869.2 305.9,848.2 306.0,860.1 306.2,817.4 306.3,850.2 306.4,851.7 306.6,854.8 306.7,821.9 306.8,862.6 307.0,851.4 307.1,861.1 307.2,852.3 307.4,853.1 307.5,835.8 307.6,873.3 307.8,853.5 307.9,830.2 308.1,863.3 308.2,858.3 308.3,869.0 308.5,893.9 308.6,858.0 308.7,840.7 308.9,863.6 309.0,883.3 309.1,853.0 309.3,855.7 309.4,843.0 309.5,843.5 309.7,859.4 309.8,848.6 310.0,878.2 310.1,836.6 310.2,848.5 310.4,835.6 310.5,837.0 310.6,855.9 310.8,853.9 310.9,866.0 311.0,882.2 311.2,854.8 311.3,850.1 311.4,867.0 311.6,842.0 311.7,849.3 311.9,843.8 312.0,859.5 312.1,873.3 312.3,838.0 312.4,840.7 312.5,850.4 312.7,855.4 312.8,851.8 312.9,849.2 313.1,854.3 313.2,875.5 313.3,835.9 313.5,867.7 313.6,852.5 313.8,853.4 313.9,846.5 314.0,874.4 314.2,835.6 314.3,844.7 314.4,843.6 314.6,836.1 314.7,865.6 314.8,899.6 315.0,849.9 315.1,838.5 315.2,840.5 315.4,864.5 315.5,858.5 315.7,852.9 315.8,882.8 315.9,866.6 316.1,867.5 316.2,836.8 316.3,867.2 316.5,835.6 316.6,858.7 316.7,882.5 316.9,830.8 317.0,876.0 317.1,870.6 317.3,841.6 317.4,873.3 317.6,882.4 317.7,850.4 317.8,863.8 318.0,882.4 318.1,879.9 318.2,870.4 318.4,851.9 318.5,870.1 318.6,857.1 318.8,843.5 318.9,848.8 319.0,847.8 319.2,850.1 319.3,888.3 319.5,851.0 319.6,864.1 319.7,871.2 319.9,883.9 320.0,890.5 320.1,883.4 320.3,868.6 320.4,884.3 320.5,880.0 320.7,875.9 320.8,858.0 320.9,870.4 321.1,868.4 321.2,848.2 321.4,869.7 321.5,857.6 321.6,880.9 321.8,862.5 321.9,864.2 322.0,863.7 322.2,872.8 322.3,879.4 322.4,869.8 322.6,870.6 322.7,851.9 322.8,854.0 323.0,881.1 323.1,855.4 323.3,869.0 323.4,857.9 323.5,871.0 323.7,884.0 323.8,850.6 323.9,858.2 324.1,880.5 324.2,889.7 324.3,872.3 324.5,881.3 324.6,871.3 324.7,858.4 324.9,848.5 325.0,872.0 325.2,848.8 325.3,850.9 325.4,872.7 325.6,888.4 325.7,855.8 325.8,859.1 326.0,837.5 326.1,849.3 326.2,858.4 326.4,847.7 326.5,883.5 326.6,868.3 326.8,873.1 326.9,847.6 327.1,863.2 327.2,910.5 327.3,854.6 327.5,884.4 327.6,861.7 327.7,878.4 327.9,870.1 328.0,865.7 328.1,872.0 328.3,887.4 328.4,857.4 328.5,869.6 328.7,874.4 328.8,864.7 329.0,880.6 329.1,849.8 329.2,871.4 329.4,870.1 329.5,870.0 329.6,886.4 329.8,888.2 329.9,871.3 330.0,869.3 330.2,856.6 330.3,867.9 330.4,886.8 330.6,867.2 330.7,862.5 330.9,861.9 331.0,870.2 331.1,890.0 331.3,860.8 331.4,884.5 331.5,866.4 331.7,892.5 331.8,861.8 331.9,880.9 332.1,857.9 332.2,850.0 332.4,856.8 332.5,885.4 332.6,882.5 332.8,881.3 332.9,862.6 333.0,866.5 333.2,869.4 333.3,868.1 333.4,865.2 333.6,864.7 333.7,851.9 333.8,875.4 334.0,872.1 334.1,897.5 334.3,891.1 334.4,897.0 334.5,891.2 334.7,873.1 334.8,863.3 334.9,880.9 335.1,881.1 335.2,881.8 335.3,873.7 335.5,881.3 335.6,870.3 335.7,873.1 335.9,873.2 336.0,868.0 336.2,876.8 336.3,874.9 336.4,857.0 336.6,879.8 336.7,869.9 336.8,879.3 337.0,886.9 337.1,887.2 337.2,891.1 337.4,880.4 337.5,887.8 337.6,885.6 337.8,865.9 337.9,881.3 338.1,866.7 338.2,878.5 338.3,871.0 338.5,887.9 338.6,878.6 338.7,849.0 338.9,872.0 339.0,869.1 339.1,878.9 339.3,872.1 339.4,896.7 339.5,893.8 339.7,878.6 339.8,874.2 340.0,889.8 340.1,887.9 340.2,889.9 340.4,888.0 340.5,899.3 340.6,902.6 340.8,888.3 340.9,907.7 341.0,899.0 341.2,895.3 341.3,900.4 341.4,885.4 341.6,893.9 341.7,890.3 341.9,901.6 342.0,898.1 342.1,881.8 342.3,883.2 342.4,893.4 342.5,884.4 342.7,886.9 342.8,886.8 342.9,869.8 343.1,893.2 343.2,883.4 343.3,882.5 343.5,891.6 343.6,902.9 343.8,881.1 343.9,886.6 344.0,889.6 344.2,890.3 344.3,890.0 344.4,900.7 344.6,886.8 344.7,910.7 344.8,888.6 345.0,907.9 345.1,895.0 345.2,881.7 345.4,892.6 345.5,895.4 345.7,884.4 345.8,894.1 345.9,896.1 346.1,897.3 346.2,877.5 346.3,886.6 346.5,888.7 346.6,907.2 346.7,886.4 346.9,908.8 347.0,888.6 347.1,908.1 347.3,872.7 347.4,915.2 347.6,881.3 347.7,885.4 347.8,914.6 348.0,898.1 348.1,878.9 348.2,882.4 348.4,915.3 348.5,903.4 348.6,911.5 348.8,910.5 348.9,906.8 349.0,878.8 349.2,897.2 349.3,902.8 349.5,904.7 349.6,894.1 349.7,892.9 349.9,911.4 350.0,884.2 350.1,913.3 350.3,904.3 350.4,896.6 350.5,883.4 350.7,906.3 350.8,899.3 350.9,888.6 351.1,895.7 351.2,889.6 351.4,892.4 351.5,900.6 351.6,897.1 351.8,894.7 351.9,905.8 352.0,886.6 352.2,926.5 352.3,915.2 352.4,889.0 352.6,900.9 352.7,913.3 352.8,901.9 353.0,895.2 353.1,913.4 353.3,900.0 353.4,910.0 353.5,910.7 353.7,911.2 353.8,899.0 353.9,922.9 354.1,915.5 354.2,904.3 354.3,925.6 354.5,931.2 354.6,907.0 354.7,913.5 354.9,915.7 355.0,912.5 355.2,926.2 355.3,883.6 355.4,926.5 355.6,921.3 355.7,932.3 355.8,922.0 356.0,901.7 356.1,919.3 356.2,912.8 356.4,925.5 356.5,899.4 356.6,917.4 356.8,933.2 356.9,910.7 357.1,923.8 357.2,912.2 357.3,917.4 357.5,916.4 357.6,918.9 357.7,929.6 357.9,937.2 358.0,910.8 358.1,924.1 358.3,919.7 358.4,927.8 358.5,944.9 358.7,937.8 358.8,909.6 359.0,935.4 359.1,931.7 359.2,945.1 359.4,935.6 359.5,934.7 359.6,933.1 359.8,932.0 359.9,938.7 360.0,937.6 360.2,931.7 360.3,928.3 360.4,933.8 360.6,914.4 360.7,932.6 360.9,934.5 361.0,944.7 361.1,926.4 361.3,950.9 361.4,957.9 361.5,951.0 361.7,932.7 361.8,953.6 361.9,927.0 362.1,941.7 362.2,957.9 362.3,944.4 362.5,923.9 362.6,953.8 362.8,959.6 362.9,939.7 363.0,931.0 363.2,934.1 363.3,948.9 363.4,943.4 363.6,943.1 363.7,934.4 363.8,923.6 364.0,949.0 364.1,934.0 364.2,952.9 364.4,944.7 364.5,962.5 364.7,962.1 364.8,949.1 364.9,963.4 365.1,944.3 365.2,960.8 365.3,954.1 365.5,956.6 365.6,960.4 365.7,956.1 365.9,946.2 366.0,923.6 366.1,971.2 366.3,955.8 366.4,960.3 366.6,967.1 366.7,953.9 366.8,966.2 367.0,957.9 367.1,943.8 367.2,981.5 367.4,956.9 367.5,954.8 367.6,970.9 367.8,955.5 367.9,957.5 368.0,964.6 368.2,947.3 368.3,976.4 368.5,954.1 368.6,963.8 368.7,971.9 368.9,962.5 369.0,964.2 369.1,951.8 369.3,977.8 369.4,964.3 369.5,967.4 369.7,945.9 369.8,976.3 369.9,951.9 370.1,984.1 370.2,961.9 370.4,967.3 370.5,962.8 370.6,975.7 370.8,991.1 370.9,988.4 371.0,956.9 371.2,969.0 371.3,980.0 371.4,960.4 371.6,978.7 371.7,978.6 371.9,983.8 372.0,958.3 372.1,951.5 372.3,985.2 372.4,971.0 372.5,964.4 372.7,951.5 372.8,1001.8 372.9,973.8 373.1,969.9 373.2,993.1 373.3,972.9 373.5,974.4 373.6,969.4 373.8,983.4 373.9,974.1 374.0,986.6 374.2,972.9 374.3,978.3 374.4,984.7 374.6,996.6 374.7,980.0 374.8,969.3 375.0,971.5 375.1,989.4 375.2,986.4 375.4,965.7 375.5,977.5 375.7,997.0 375.8,987.6 375.9,986.6 376.1,990.9 376.2,999.8 376.3,976.3 376.5,984.5 376.6,993.1 376.7,1008.9 376.9,998.4 377.0,993.9 377.1,984.2 377.3,998.8 377.4,982.5 377.6,993.4 377.7,1003.2 377.8,1027.0 378.0,1007.1 378.1,1010.4 378.2,996.7 378.4,991.9 378.5,980.7 378.6,996.9 378.8,1010.9 378.9,973.2 379.0,996.3 379.2,1002.8 379.3,1003.6 379.5,1015.5 379.6,993.3 379.7,996.8 379.9,984.8 380.0,991.1 380.1,994.6 380.3,990.2 380.4,1006.2 380.5,1008.4 380.7,1005.2 380.8,1019.7 380.9,1007.3 381.1,1009.4 381.2,999.2 381.4,1007.3 381.5,1028.9 381.6,1009.3 381.8,994.2 381.9,1030.1 382.0,1020.3 382.2,1012.9 382.3,1028.1 382.4,1020.1 382.6,1013.7 382.7,1029.1 382.8,1011.9 383.0,1010.5 383.1,1028.6 383.3,1014.8 383.4,1003.8 383.5,1018.9 383.7,1013.3 383.8,1011.0 383.9,1021.6 384.1,1008.0 384.2,1014.4 384.3,1029.4 384.5,1014.1 384.6,1010.1 384.7,1028.7 384.9,1027.0 385.0,1017.4 385.2,1008.0 385.3,1020.9 385.4,1010.6 385.6,1009.6 385.7,1024.2 385.8,1018.1 386.0,1029.0 386.1,1015.0 386.2,1027.8 386.4,1033.8 386.5,1029.6 386.6,1030.7 386.8,1027.1 386.9,1027.3 387.1,1045.9 387.2,1041.7 387.3,1031.3 387.5,1031.0 387.6,1035.8 387.7,1029.3 387.9,1026.0 388.0,1039.4 388.1,1031.4 388.3,1025.5 388.4,1037.8 388.5,1060.8 388.7,1041.2 388.8,1042.1 389.0,1020.5 389.1,1063.3 389.2,1026.9 389.4,1047.3 389.5,1036.0 389.6,1050.3 389.8,1045.9 389.9,1035.2 390.0,1047.7 390.2,1037.2 390.3,1049.9 390.4,1053.4 390.6,1050.5 390.7,1054.0 390.9,1050.1 391.0,1033.9 391.1,1061.7 391.3,1066.7 391.4,1049.6 391.5,1031.3 391.7,1037.9 391.8,1035.7 391.9,1036.5 392.1,1058.2 392.2,1049.4 392.3,1079.7 392.5,1057.9 392.6,1046.8 392.8,1071.3 392.9,1076.8 393.0,1069.5 393.2,1052.3 393.3,1043.0 393.4,1027.2 393.6,1040.4 393.7,1072.3 393.8,1080.8 394.0,1054.8 394.1,1044.8 394.2,1074.2 394.4,1061.9 394.5,1062.6 394.7,1058.2 394.8,1060.7 394.9,1053.1 395.1,1048.0 395.2,1059.0 395.3,1052.3 395.5,1057.9 395.6,1071.6 395.7,1071.9 395.9,1054.6 396.0,1039.8 396.1,1057.7 396.3,1048.1 396.4,1064.3 396.6,1050.0 396.7,1065.4 396.8,1051.6 397.0,1055.1 397.1,1055.0 397.2,1047.1 397.4,1050.8 397.5,1068.5 397.6,1053.2 397.8,1081.4 397.9,1053.3 398.0,1034.0 398.2,1057.7 398.3,1058.7 398.5,1065.7 398.6,1057.1 398.7,1070.8 398.9,1059.1 399.0,1069.6 399.1,1071.8 399.3,1066.2 399.4,1068.7 399.5,1087.2 399.7,1046.5 399.8,1068.0 399.9,1087.2 400.1,1058.3 400.2,1070.3 400.4,1047.0 400.5,1062.5 400.6,1081.0 400.8,1104.6 400.9,1075.3 401.0,1071.4 401.2,1063.4 401.3,1081.1 401.4,1075.7 401.6,1068.4 401.7,1076.3 401.8,1074.9 402.0,1068.9 402.1,1083.1 402.3,1055.9 402.4,1082.3 402.5,1071.9 402.7,1076.1 402.8,1081.2 402.9,1068.8 403.1,1064.3 403.2,1058.6 403.3,1068.4 403.5,1079.6 403.6,1066.1 403.7,1090.7 403.9,1074.7 404.0,1071.5 404.2,1071.9 404.3,1090.7 404.4,1095.5 404.6,1062.3 404.7,1085.6 404.8,1097.9 405.0,1093.4 405.1,1080.4 405.2,1068.6 405.4,1081.7 405.5,1069.4 405.6,1080.8 405.8,1094.1 405.9,1074.2 406.1,1090.0 406.2,1083.8 406.3,1091.2 406.5,1093.9 406.6,1079.6 406.7,1095.4 406.9,1085.5 407.0,1094.9 407.1,1087.7 407.3,1093.4 407.4,1075.7 407.5,1086.6 407.7,1086.7 407.8,1094.5 408.0,1121.1 408.1,1102.2 408.2,1119.6 408.4,1090.5 408.5,1085.4 408.6,1083.7 408.8,1088.6 408.9,1100.5 409.0,1085.9 409.2,1088.0 409.3,1094.7 409.4,1104.8 409.6,1089.3 409.7,1099.9 409.9,1100.1 410.0,1093.0 410.1,1092.6 410.3,1103.2 410.4,1081.4 410.5,1106.5 410.7,1108.2 410.8,1093.7 410.9,1097.0 411.1,1098.9 411.2,1104.7 411.3,1100.2 411.5,1107.6 411.6,1120.6 411.8,1095.9 411.9,1114.8 412.0,1106.6 412.2,1095.7 412.3,1103.9 412.4,1075.6 412.6,1120.2 412.7,1114.1 412.8,1105.3 413.0,1092.6 413.1,1110.6 413.3,1123.7 413.4,1096.6 413.5,1119.2 413.7,1111.6 413.8,1100.7 413.9,1118.1 414.1,1116.4 414.2,1107.9 414.3,1115.9 414.5,1111.7 414.6,1125.2 414.7,1116.5 414.9,1127.1 415.0,1132.0 415.2,1096.9 415.3,1111.0 415.4,1107.1 415.6,1127.7 415.7,1116.9 415.8,1118.8 416.0,1133.3 416.1,1112.9 416.2,1127.6 416.4,1122.6 416.5,1138.3 416.6,1112.2 416.8,1115.3 416.9,1119.3 417.1,1133.3 417.2,1129.1 417.3,1111.6 417.5,1127.1 417.6,1121.6 417.7,1122.8 417.9,1135.6 418.0,1107.9 418.1,1145.9 418.3,1122.3 418.4,1126.2 418.5,1143.4 418.7,1124.2 418.8,1123.6 419.0,1129.6 419.1,1139.0 419.2,1125.8 419.4,1118.8 419.5,1128.8 419.6,1112.5 419.8,1123.0 419.9,1125.4 420.0,1119.3 420.2,1140.6 420.3,1139.7 420.4,1129.5 420.6,1129.3 420.7,1119.7 420.9,1123.1 421.0,1134.8 421.1,1135.0 421.3,1140.9 421.4,1141.6 421.5,1143.2 421.7,1128.0 421.8,1143.7 421.9,1143.5 422.1,1138.1 422.2,1144.4 422.3,1142.2 422.5,1163.5 422.6,1136.8 422.8,1142.9 422.9,1137.5 423.0,1136.1 423.2,1160.2 423.3,1116.2 423.4,1139.9 423.6,1139.8 423.7,1160.5 423.8,1134.6 424.0,1136.3 424.1,1143.1 424.2,1136.8 424.4,1125.3 424.5,1141.9 424.7,1147.5 424.8,1123.4 424.9,1134.9 425.1,1139.1 425.2,1113.1 425.3,1135.2 425.5,1139.4 425.6,1135.7 425.7,1143.4 425.9,1137.1 426.0,1138.5 426.1,1148.4 426.3,1145.2 426.4,1140.0 426.6,1138.9 426.7,1136.9 426.8,1136.0 427.0,1142.4 427.1,1140.0 427.2,1149.0 427.4,1148.0 427.5,1134.4 427.6,1166.0 427.8,1141.5 427.9,1119.2 428.0,1165.8 428.2,1132.5 428.3,1167.5 428.5,1146.7 428.6,1133.2 428.7,1135.4 428.9,1161.2 429.0,1166.3 429.1,1168.4 429.3,1146.5 429.4,1158.8 429.5,1154.9 429.7,1151.7 429.8,1151.0 429.9,1149.9 430.1,1153.8 430.2,1171.3 430.4,1139.8 430.5,1183.5 430.6,1143.0 430.8,1162.4 430.9,1157.1 431.0,1159.9 431.2,1158.0 431.3,1155.2 431.4,1158.3 431.6,1167.2 431.7,1147.6 431.8,1162.5 432.0,1143.3 432.1,1159.1 432.3,1163.6 432.4,1151.9 432.5,1146.2 432.7,1165.1 432.8,1158.1 432.9,1141.1 433.1,1165.5 433.2,1163.1 433.3,1152.6 433.5,1166.8 433.6,1179.6 433.7,1173.0 433.9,1151.8 434.0,1148.1 434.2,1148.9 434.3,1150.7 434.4,1167.5 434.6,1147.8 434.7,1143.8 434.8,1163.2 435.0,1147.2 435.1,1161.3 435.2,1156.3 435.4,1154.0 435.5,1172.4 435.6,1142.8 435.8,1167.2 435.9,1160.1 436.1,1163.8 436.2,1153.9 436.3,1154.3 436.5,1158.5 436.6,1145.3 436.7,1157.1 436.9,1164.7 437.0,1190.6 437.1,1164.3 437.3,1164.8 437.4,1171.1 437.5,1171.6 437.7,1157.2 437.8,1152.0 438.0,1143.3 438.1,1152.4 438.2,1171.7 438.4,1162.4 438.5,1179.3 438.6,1157.8 438.8,1160.9 438.9,1170.9 439.0,1165.9 439.2,1168.2 439.3,1170.9 439.4,1151.5 439.6,1133.4 439.7,1156.1 439.9,1153.0 440.0,1162.9 440.1,1167.6 440.3,1142.4 440.4,1169.3 440.5,1162.4 440.7,1167.1 440.8,1160.5 440.9,1167.1 441.1,1160.7 441.2,1179.5 441.3,1168.0 441.5,1152.6 441.6,1177.2 441.8,1173.8 441.9,1153.0 442.0,1163.8 442.2,1157.3 442.3,1190.0 442.4,1165.8 442.6,1179.2 442.7,1180.9 442.8,1162.6 443.0,1154.1 443.1,1181.1 443.2,1176.6 443.4,1171.8 443.5,1167.4 443.7,1180.0 443.8,1143.8 443.9,1160.6 444.1,1170.0 444.2,1171.8 444.3,1143.3 444.5,1143.6 444.6,1170.6 444.7,1163.1 444.9,1154.6 445.0,1178.5 445.1,1171.3 445.3,1151.9 445.4,1172.2 445.6,1170.0 445.7,1179.3 445.8,1172.9 446.0,1158.9 446.1,1173.8 446.2,1177.7 446.4,1170.6 446.5,1146.8 446.6,1163.3 446.8,1170.9 446.9,1163.8 447.0,1161.0 447.2,1164.7 447.3,1184.0 447.5,1163.7 447.6,1168.3 447.7,1158.3 447.9,1181.2 448.0,1157.8 448.1,1173.0 448.3,1185.8 448.4,1154.9 448.5,1173.4 448.7,1165.2 448.8,1170.2 448.9,1157.2 449.1,1158.1 449.2,1158.7 449.4,1163.2 449.5,1186.8 449.6,1187.7 449.8,1168.9 449.9,1180.9 450.0,1166.9 450.2,1170.0 450.3,1185.9 450.4,1182.8 450.6,1183.5 450.7,1180.2 450.8,1172.7 451.0,1164.2 451.1,1157.6 451.3,1180.1 451.4,1175.7 451.5,1154.7 451.7,1162.1 451.8,1168.1 451.9,1193.5 452.1,1179.4 452.2,1167.7 452.3,1174.6 452.5,1150.0 452.6,1169.1 452.8,1165.9 452.9,1179.6 453.0,1179.2 453.2,1174.2 453.3,1173.8 453.4,1170.1 453.6,1163.9 453.7,1164.7 453.8,1157.6 454.0,1180.7 454.1,1164.9 454.2,1163.7 454.4,1150.2 454.5,1168.0 454.7,1163.0 454.8,1175.2 454.9,1163.6 455.1,1164.3 455.2,1174.6 455.3,1172.2 455.5,1168.3 455.6,1163.0 455.7,1179.1 455.9,1159.1 456.0,1170.8 456.1,1149.5 456.3,1154.3 456.4,1172.1 456.6,1174.3 456.7,1144.8 456.8,1163.4 457.0,1163.4 457.1,1172.6 457.2,1170.2 457.4,1161.5 457.5,1163.0 457.6,1176.6 457.8,1157.0 457.9,1165.6 458.0,1177.2 458.2,1158.4 458.3,1170.1 458.5,1161.2 458.6,1174.3 458.7,1165.8 458.9,1184.5 459.0,1164.7 459.1,1182.3 459.3,1165.6 459.4,1192.1 459.5,1168.7 459.7,1160.0 459.8,1162.6 459.9,1156.2 460.1,1178.4 460.2,1153.0 460.4,1152.7 460.5,1180.0 460.6,1176.6 460.8,1173.6 460.9,1168.2 461.0,1166.8 461.2,1193.3 461.3,1163.9 461.4,1171.7 461.6,1178.4 461.7,1160.7 461.8,1173.9 462.0,1159.7 462.1,1165.6 462.3,1174.9 462.4,1160.7 462.5,1164.0 462.7,1175.5 462.8,1186.0 462.9,1176.8 463.1,1167.1 463.2,1174.5 463.3,1155.8 463.5,1169.7 463.6,1170.1 463.7,1168.4 463.9,1180.9 464.0,1173.8 464.2,1178.7 464.3,1195.2 464.4,1189.7 464.6,1165.6 464.7,1176.3 464.8,1173.9 465.0,1185.8 465.1,1177.0 465.2,1163.5 465.4,1171.0 465.5,1176.5 465.6,1157.4 465.8,1172.1 465.9,1173.5 466.1,1160.1 466.2,1187.7 466.3,1165.7 466.5,1181.5 466.6,1178.9 466.7,1177.9 466.9,1170.4 467.0,1169.9 467.1,1167.3 467.3,1168.9 467.4,1158.2 467.5,1155.9 467.7,1164.5 467.8,1163.6 468.0,1174.6 468.1,1181.2 468.2,1165.7 468.4,1170.7 468.5,1163.1 468.6,1189.2 468.8,1146.9 468.9,1183.2 469.0,1171.6 469.2,1163.4 469.3,1185.6 469.4,1177.4 469.6,1191.2 469.7,1185.4 469.9,1190.9 470.0,1172.3 470.1,1170.2 470.3,1175.8 470.4,1161.0 470.5,1160.5 470.7,1173.5 470.8,1176.3 470.9,1176.7 471.1,1178.6 471.2,1162.5 471.3,1171.6 471.5,1177.1 471.6,1176.3 471.8,1170.2 471.9,1179.4 472.0,1171.8 472.2,1174.9 472.3,1162.0 472.4,1164.1 472.6,1187.4 472.7,1175.7 472.8,1167.6 473.0,1178.9 473.1,1167.6 473.2,1171.9 473.4,1170.2 473.5,1175.5 473.7,1173.0 473.8,1171.9 473.9,1189.0 474.1,1183.2 474.2,1184.0 474.3,1159.0 474.5,1171.7 474.6,1170.6 474.7,1172.4 474.9,1178.2 475.0,1180.6 475.1,1165.9 475.3,1175.7 475.4,1159.2 475.6,1172.1 475.7,1173.1 475.8,1175.5 476.0,1173.5 476.1,1172.9 476.2,1158.9 476.4,1151.5 476.5,1182.7 476.6,1170.0 476.8,1166.0 476.9,1180.7 477.0,1178.1 477.2,1176.2 477.3,1194.5 477.5,1166.9 477.6,1173.2 477.7,1173.1 477.9,1171.6 478.0,1169.3 478.1,1151.1 478.3,1170.5 478.4,1165.1 478.5,1177.0 478.7,1169.0 478.8,1175.1 478.9,1173.5 479.1,1179.6 479.2,1178.7 479.4,1168.7 479.5,1166.0 479.6,1167.4 479.8,1177.3 479.9,1168.6 480.0,1194.7 480.2,1163.6 480.3,1173.0 480.4,1170.0 480.6,1161.7 480.7,1175.9 480.8,1163.5 481.0,1176.4 481.1,1167.4 481.3,1176.4 481.4,1169.4 481.5,1158.4 481.7,1178.2 481.8,1178.8 481.9,1176.5 482.1,1171.9 482.2,1150.5 482.3,1179.9 482.5,1192.6 482.6,1180.5 482.7,1188.7 482.9,1179.6 483.0,1174.4 483.2,1183.6 483.3,1181.7 483.4,1192.1 483.6,1173.2 483.7,1182.1 483.8,1166.3 484.0,1166.2 484.1,1182.9 484.2,1178.6 484.4,1174.4 484.5,1168.4 484.6,1189.7 484.8,1176.1 484.9,1158.8 485.1,1176.0 485.2,1173.7 485.3,1175.3 485.5,1185.7 485.6,1167.0 485.7,1171.8 485.9,1171.7 486.0,1166.3 486.1,1166.1 486.3,1189.9 486.4,1169.0 486.5,1178.8 486.7,1172.5 486.8,1180.7 487.0,1182.4 487.1,1166.8 487.2,1175.4 487.4,1176.8 487.5,1177.2 487.6,1174.5 487.8,1175.2 487.9,1196.1 488.0,1183.9 488.2,1179.0 488.3,1170.2 488.4,1165.4 488.6,1185.3 488.7,1161.2 488.9,1177.0 489.0,1172.6 489.1,1181.1 489.3,1181.0 489.4,1163.0 489.5,1178.1 489.7,1176.3 489.8,1166.1 489.9,1160.9 490.1,1189.9 490.2,1177.9 490.3,1176.3 490.5,1161.3 490.6,1155.3 490.8,1177.0 490.9,1172.8 491.0,1167.8 491.2,1165.0 491.3,1177.8 491.4,1168.3 491.6,1181.3 491.7,1197.8 491.8,1186.5 492.0,1171.5 492.1,1165.7 492.3,1193.0 492.4,1189.3 492.5,1173.6 492.7,1202.9 492.8,1167.3 492.9,1163.5 493.1,1199.8 493.2,1166.4 493.3,1175.4 493.5,1161.3 493.6,1171.1 493.7,1176.4 493.9,1173.0 494.0,1165.6 494.2,1171.8 494.3,1173.4 494.4,1186.6 494.6,1169.3 494.7,1172.7 494.8,1156.0 495.0,1172.6 495.1,1174.2 495.2,1179.7 495.4,1168.3 495.5,1177.0 495.6,1181.8 495.8,1162.3 495.9,1160.9 496.1,1180.8 496.2,1185.8 496.3,1166.6 496.5,1183.4 496.6,1151.2 496.7,1178.0 496.9,1168.7 497.0,1188.4 497.1,1177.4 497.3,1168.1 497.4,1173.8 497.5,1182.0 497.7,1155.6 497.8,1170.0 498.0,1179.2 498.1,1182.8 498.2,1179.3 498.4,1164.7 498.5,1184.5 498.6,1176.4 498.8,1184.7 498.9,1167.0 499.0,1179.5 499.2,1169.3 499.3,1171.2 499.4,1180.8 499.6,1168.5 499.7,1166.8 499.9,1185.6 500.0,1169.0 500.1,1148.1 500.3,1178.1 500.4,1169.5 500.5,1187.0 500.7,1170.7 500.8,1180.4 500.9,1168.8 501.1,1175.9 501.2,1186.2 501.3,1165.6 501.5,1177.2 501.6,1184.9 501.8,1175.2 501.9,1185.7 502.0,1173.2 502.2,1177.8 502.3,1181.1 502.4,1171.8 502.6,1188.2 502.7,1168.4 502.8,1195.0 503.0,1163.7 503.1,1177.0 503.2,1180.8 503.4,1185.9 503.5,1174.7 503.7,1181.1 503.8,1180.9 503.9,1170.1 504.1,1184.0 504.2,1182.5 504.3,1176.5 504.5,1171.2 504.6,1182.6 504.7,1179.7 504.9,1180.9 505.0,1173.9 505.1,1167.6 505.3,1188.6 505.4,1181.6 505.6,1181.4 505.7,1176.0 505.8,1168.1 506.0,1181.1 506.1,1166.1 506.2,1169.9 506.4,1191.1 506.5,1186.9 506.6,1184.8 506.8,1180.8 506.9,1178.6 507.0,1185.3 507.2,1164.4 507.3,1186.3 507.5,1181.5 507.6,1170.0 507.7,1173.2 507.9,1180.3 508.0,1176.1 508.1,1171.3 508.3,1178.9 508.4,1172.6 508.5,1187.1 508.7,1178.0 508.8,1193.2 508.9,1185.7 509.1,1188.6 509.2,1167.5 509.4,1182.8 509.5,1175.9 509.6,1186.3 509.8,1179.7 509.9,1180.2 510.0,1184.7 510.2,1169.9 510.3,1191.9 510.4,1171.3 510.6,1152.8 510.7,1183.6 510.8,1176.6 511.0,1191.0 511.1,1176.3 511.3,1191.4 511.4,1171.1 511.5,1181.6 511.7,1193.7 511.8,1188.0 511.9,1190.4 512.1,1179.0 512.2,1168.7 512.3,1179.9 512.5,1187.2 512.6,1182.9 512.7,1174.2 512.9,1197.4 513.0,1169.7 513.2,1171.2 513.3,1196.8 513.4,1164.7 513.6,1189.8 513.7,1176.9 513.8,1164.2 514.0,1213.1 514.1,1192.3 514.2,1186.3 514.4,1186.8 514.5,1178.5 514.6,1182.1 514.8,1181.8 514.9,1181.5 515.1,1178.2 515.2,1184.2 515.3,1173.9 515.5,1176.8 515.6,1186.0 515.7,1160.4 515.9,1188.9 516.0,1171.2 516.1,1185.0 516.3,1175.4 516.4,1174.1 516.5,1170.7 516.7,1166.2 516.8,1186.1 517.0,1152.2 517.1,1175.0 517.2,1185.5 517.4,1189.6 517.5,1156.3 517.6,1163.2 517.8,1178.8 517.9,1171.9 518.0,1166.6 518.2,1177.5 518.3,1181.7 518.4,1177.8 518.6,1170.1 518.7,1177.1 518.9,1188.2 519.0,1170.6 519.1,1193.8 519.3,1185.8 519.4,1167.9 519.5,1176.6 519.7,1175.9 519.8,1177.3 519.9,1168.6 520.1,1178.0 520.2,1195.4 520.3,1175.2 520.5,1205.0 520.6,1196.2 520.8,1162.6 520.9,1168.2 521.0,1182.6 521.2,1178.7 521.3,1176.7 521.4,1169.4 521.6,1185.1 521.7,1185.5 521.8,1182.8 522.0,1175.1 522.1,1173.8 522.2,1180.3 522.4,1169.7 522.5,1186.4 522.7,1178.1 522.8,1184.7 522.9,1187.3 523.1,1167.4 523.2,1180.9 523.3,1187.4 523.5,1177.3 523.6,1187.0 523.7,1172.7 523.9,1170.7 524.0,1169.5 524.1,1188.0 524.3,1179.3 524.4,1161.9 524.6,1180.9 524.7,1167.5 524.8,1164.9 525.0,1191.2 525.1,1167.4 525.2,1171.6 525.4,1170.2 525.5,1162.3 525.6,1173.8 525.8,1177.9 525.9,1172.8 526.0,1181.7 526.2,1175.3 526.3,1197.5 526.5,1164.2 526.6,1184.2 526.7,1174.0 526.9,1175.4 527.0,1177.0 527.1,1177.1 527.3,1177.5 527.4,1192.4 527.5,1183.7 527.7,1167.6 527.8,1188.1 527.9,1188.5 528.1,1159.1 528.2,1167.7 528.4,1164.3 528.5,1177.6 528.6,1175.4 528.8,1170.4 528.9,1172.9 529.0,1178.5 529.2,1190.8 529.3,1184.4 529.4,1192.5 529.6,1165.0 529.7,1182.4 529.8,1179.6 530.0,1176.9 530.1,1179.0 530.3,1174.1 530.4,1183.4 530.5,1191.2 530.7,1161.0 530.8,1183.5 530.9,1181.0 531.1,1184.2 531.2,1181.1 531.3,1176.0 531.5,1170.3 531.6,1186.7 531.8,1175.5 531.9,1183.7 532.0,1166.4 532.2,1188.6 532.3,1176.6 532.4,1171.0 532.6,1190.4 532.7,1176.6 532.8,1177.0 533.0,1185.9 533.1,1181.6 533.2,1171.1 533.4,1178.4 533.5,1184.4 533.7,1182.9 533.8,1177.5 533.9,1169.5 534.1,1173.0 534.2,1174.6 534.3,1166.9 534.5,1195.5 534.6,1195.3 534.7,1203.0 534.9,1175.6 535.0,1203.9 535.1,1184.2 535.3,1177.6 535.4,1195.8 535.6,1188.6 535.7,1185.1 535.8,1175.9 536.0,1196.3 536.1,1179.5 536.2,1176.3 536.4,1181.9 536.5,1181.6 536.6,1171.7 536.8,1181.5 536.9,1183.2 537.0,1185.3 537.2,1176.3 537.3,1185.1 537.5,1176.4 537.6,1181.4 537.7,1171.8 537.9,1188.3 538.0,1182.2 538.1,1180.2 538.3,1179.2 538.4,1172.3 538.5,1179.2 538.7,1173.9 538.8,1165.2 538.9,1174.6 539.1,1191.9 539.2,1194.8 539.4,1176.3 539.5,1187.1 539.6,1180.2 539.8,1183.4 539.9,1170.6 540.0,1170.8 540.2,1191.9 540.3,1179.1 540.4,1184.3 540.6,1193.9 540.7,1176.7 540.8,1183.5 541.0,1179.2 541.1,1160.7 541.3,1170.5 541.4,1172.2 541.5,1186.1 541.7,1192.3 541.8,1170.6 541.9,1184.5 542.1,1181.5 542.2,1184.7 542.3,1180.4 542.5,1161.0 542.6,1184.1 542.7,1183.7 542.9,1179.6 543.0,1179.3 543.2,1192.0 543.3,1196.8 543.4,1185.7 543.6,1181.9 543.7,1187.9 543.8,1189.4 544.0,1188.5 544.1,1184.0 544.2,1181.4 544.4,1195.4 544.5,1185.0 544.6,1176.4 544.8,1181.3 544.9,1192.0 545.1,1182.3 545.2,1179.5 545.3,1172.7 545.5,1193.4 545.6,1172.3 545.7,1182.8 545.9,1177.6 546.0,1172.9 546.1,1185.6 546.3,1184.7 546.4,1178.4 546.5,1170.4 546.7,1182.0 546.8,1188.7 547.0,1182.1 547.1,1172.3 547.2,1165.0 547.4,1180.6 547.5,1180.2 547.6,1178.7 547.8,1177.6 547.9,1185.1 548.0,1180.1 548.2,1174.0 548.3,1175.4 548.4,1175.6 548.6,1185.3 548.7,1182.4 548.9,1183.1 549.0,1168.0 549.1,1165.3 549.3,1175.9 549.4,1164.8 549.5,1181.6 549.7,1182.0 549.8,1191.1 549.9,1177.5 550.1,1183.8 550.2,1179.3 550.3,1176.1 550.5,1182.6 550.6,1190.2 550.8,1180.9 550.9,1182.4 551.0,1167.0 551.2,1175.9 551.3,1184.3 551.4,1184.0 551.6,1165.7 551.7,1171.4 551.8,1182.3 552.0,1189.8 552.1,1185.2 552.2,1178.3 552.4,1174.2 552.5,1160.7 552.7,1183.7 552.8,1179.9 552.9,1183.9 553.1,1180.3 553.2,1183.6 553.3,1189.6 553.5,1170.9 553.6,1178.9 553.7,1167.7 553.9,1183.3 554.0,1177.4 554.1,1173.0 554.3,1195.3 554.4,1190.7 554.6,1172.7 554.7,1178.7 554.8,1195.8 555.0,1186.5 555.1,1188.4 555.2,1183.4 555.4,1165.6 555.5,1183.9 555.6,1161.1 555.8,1181.1 555.9,1185.4 556.0,1166.1 556.2,1172.4 556.3,1168.3 556.5,1162.8 556.6,1171.0 556.7,1169.1 556.9,1194.7 557.0,1187.2 557.1,1175.2 557.3,1178.4 557.4,1173.3 557.5,1184.2 557.7,1170.7 557.8,1163.2 557.9,1175.4 558.1,1172.2 558.2,1176.3 558.4,1172.9 558.5,1179.5 558.6,1185.9 558.8,1180.0 558.9,1181.1 559.0,1194.9 559.2,1180.1 559.3,1181.5 559.4,1180.1 559.6,1187.3 559.7,1177.9 559.8,1176.5 560.0,1188.1 560.1,1179.0 560.3,1175.1 560.4,1175.9 560.5,1191.0 560.7,1190.9 560.8,1181.6 560.9,1191.2 561.1,1160.1 561.2,1189.4 561.3,1189.2 561.5,1176.8 561.6,1186.7 561.7,1202.4 561.9,1183.4 562.0,1191.1 562.2,1186.7 562.3,1196.1 562.4,1190.0 562.6,1183.7 562.7,1182.1 562.8,1191.1 563.0,1187.5 563.1,1188.8 563.2,1180.1 563.4,1183.4 563.5,1194.0 563.6,1177.4 563.8,1190.0 563.9,1181.1 564.1,1191.6 564.2,1181.1 564.3,1184.1 564.5,1183.0 564.6,1177.8 564.7,1179.3 564.9,1182.0 565.0,1181.6 565.1,1194.6 565.3,1183.7 565.4,1201.6 565.5,1202.5 565.7,1185.7 565.8,1185.1 566.0,1170.3 566.1,1177.3 566.2,1174.3 566.4,1186.9 566.5,1179.2 566.6,1172.5 566.8,1155.1 566.9,1179.7 567.0,1181.8 567.2,1191.0 567.3,1191.8 567.4,1196.2 567.6,1178.9 567.7,1184.4 567.9,1187.0 568.0,1178.1 568.1,1187.1 568.3,1173.2 568.4,1165.8 568.5,1177.8 568.7,1188.7 568.8,1195.9 568.9,1165.3 569.1,1178.8 569.2,1192.6 569.3,1173.5 569.5,1197.2 569.6,1186.5 569.8,1184.8 569.9,1186.7 570.0,1193.5 570.2,1162.7 570.3,1187.1 570.4,1179.5 570.6,1182.9 570.7,1196.4 570.8,1187.8 571.0,1181.1 571.1,1174.8 571.3,1185.4 571.4,1177.9 571.5,1184.2 571.7,1176.5 571.8,1204.5 571.9,1178.1 572.1,1188.2 572.2,1187.5 572.3,1206.0 572.5,1190.2 572.6,1176.0 572.7,1161.5 572.9,1187.5 573.0,1186.6 573.2,1177.0 573.3,1179.3 573.4,1186.9 573.6,1183.4 573.7,1184.7 573.8,1175.7 574.0,1173.2 574.1,1164.8 574.2,1172.2 574.4,1173.5 574.5,1179.0 574.6,1173.2 574.8,1191.2 574.9,1163.7 575.1,1180.0 575.2,1170.0 575.3,1189.6 575.5,1174.1 575.6,1179.9 575.7,1185.2 575.9,1188.5 576.0,1190.7 576.1,1167.7 576.3,1173.2 576.4,1183.6 576.5,1183.5 576.7,1192.0 576.8,1201.7 577.0,1201.5 577.1,1191.4 577.2,1187.2 577.4,1195.8 577.5,1178.8 577.6,1181.3 577.8,1184.0 577.9,1201.6 578.0,1187.9 578.2,1186.5 578.3,1197.4 578.4,1206.6 578.6,1170.0 578.7,1181.1 578.9,1189.2 579.0,1171.1 579.1,1175.9 579.3,1182.6 579.4,1184.2 579.5,1178.7 579.7,1172.0 579.8,1184.9 579.9,1188.3 580.1,1180.3 580.2,1209.5 580.3,1183.7 580.5,1188.8 580.6,1184.6 580.8,1186.0 580.9,1181.5 581.0,1183.7 581.2,1184.6 581.3,1185.9 581.4,1181.0 581.6,1189.3 581.7,1175.6 581.8,1199.5 582.0,1181.4 582.1,1179.6 582.2,1195.1 582.4,1187.7 582.5,1171.6 582.7,1184.4 582.8,1190.8 582.9,1209.4 583.1,1181.0 583.2,1182.3 583.3,1176.6 583.5,1164.3 583.6,1183.1 583.7,1181.6 583.9,1187.9 584.0,1181.6 584.1,1181.6 584.3,1175.5 584.4,1176.6 584.6,1188.2 584.7,1185.7 584.8,1169.2 585.0,1189.4 585.1,1174.4 585.2,1167.0 585.4,1176.2 585.5,1179.8 585.6,1169.5 585.8,1179.1 585.9,1183.0 586.0,1185.5 586.2,1173.5 586.3,1176.9 586.5,1169.3 586.6,1186.3 586.7,1186.6 586.9,1187.6 587.0,1181.2 587.1,1189.1 587.3,1175.5 587.4,1181.5 587.5,1193.1 587.7,1210.9 587.8,1201.6 587.9,1173.0 588.1,1186.6 588.2,1184.7 588.4,1189.4 588.5,1182.9 588.6,1203.4 588.8,1204.8 588.9,1201.0 589.0,1186.1 589.2,1179.9 589.3,1181.5 589.4,1186.2 589.6,1196.3 589.7,1178.7 589.8,1188.0 590.0,1185.5 590.1,1185.8 590.3,1189.2 590.4,1191.2 590.5,1190.5 590.7,1197.1 590.8,1182.9 590.9,1185.9 591.1,1175.4 591.2,1201.1 591.3,1174.2 591.5,1184.6 591.6,1185.3 591.7,1190.1 591.9,1189.4 592.0,1196.4 592.2,1175.0 592.3,1185.2 592.4,1177.6 592.6,1177.1 592.7,1188.9 592.8,1186.4 593.0,1187.3 593.1,1174.8 593.2,1182.7 593.4,1181.8 593.5,1177.4 593.6,1184.5 593.8,1164.9 593.9,1190.9 594.1,1171.8 594.2,1170.1 594.3,1192.8 594.5,1174.9 594.6,1180.3 594.7,1174.6 594.9,1193.1 595.0,1181.1 595.1,1192.8 595.3,1186.3 595.4,1170.8 595.5,1184.9 595.7,1203.7 595.8,1197.0 596.0,1194.7 596.1,1174.9 596.2,1190.6 596.4,1198.0 596.5,1174.1 596.6,1181.0 596.8,1179.5 596.9,1188.8 597.0,1170.1 597.2,1184.8 597.3,1201.3 597.4,1193.9 597.6,1190.7 597.7,1184.5 597.9,1177.1 598.0,1190.5 598.1,1188.6 598.3,1164.2 598.4,1182.6 598.5,1189.0 598.7,1183.2 598.8,1194.4 598.9,1178.7 599.1,1174.9 599.2,1188.2 599.3,1173.5 599.5,1184.9 599.6,1179.6 599.8,1189.2 599.9,1190.0 600.0,1197.3 600.2,1182.2 600.3,1186.2 600.4,1185.8 600.6,1193.9 600.7,1194.2 600.8,1189.9 601.0,1180.4 601.1,1181.5 601.2,1189.6 601.4,1181.3 601.5,1169.1 601.7,1184.1 601.8,1166.9 601.9,1180.6 602.1,1172.8 602.2,1190.3 602.3,1175.1 602.5,1195.6 602.6,1182.7 602.7,1188.3 602.9,1203.1 603.0,1197.3 603.1,1174.8 603.3,1180.8 603.4,1174.5 603.6,1184.0 603.7,1211.3 603.8,1183.5 604.0,1190.8 604.1,1189.4 604.2,1188.2 604.4,1190.8 604.5,1192.1 604.6,1172.2 604.8,1179.5 604.9,1189.3 605.0,1187.4 605.2,1175.1 605.3,1180.6 605.5,1182.1 605.6,1194.2 605.7,1186.9 605.9,1193.0 606.0,1199.3 606.1,1174.0 606.3,1184.6 606.4,1185.1 606.5,1190.7 606.7,1175.8 606.8,1163.6 606.9,1176.9 607.1,1174.0 607.2,1193.7 607.4,1180.9 607.5,1181.3 607.6,1170.2 607.8,1183.1 607.9,1191.3 608.0,1182.6 608.2,1185.6 608.3,1169.0 608.4,1175.7 608.6,1179.5 608.7,1180.5 608.8,1174.7 609.0,1185.9 609.1,1190.0 609.3,1197.7 609.4,1169.7 609.5,1175.6 609.7,1174.5 609.8,1180.0 609.9,1165.9 610.1,1189.7 610.2,1171.1 610.3,1189.3 610.5,1185.8 610.6,1192.2 610.7,1180.4 610.9,1184.3 611.0,1178.2 611.2,1187.3 611.3,1194.8 611.4,1177.4 611.6,1170.3 611.7,1175.8 611.8,1182.8 612.0,1178.4 612.1,1197.4 612.2,1185.9 612.4,1173.4 612.5,1180.4 612.7,1192.3 612.8,1177.5 612.9,1185.9 613.1,1179.1 613.2,1197.8 613.3,1190.9 613.5,1184.0 613.6,1183.9 613.7,1181.6 613.9,1186.9 614.0,1188.4 614.1,1183.0 614.3,1180.1 614.4,1219.4 614.6,1189.8 614.7,1189.1 614.8,1185.3 615.0,1177.4 615.1,1197.8 615.2,1181.2 615.4,1200.5 615.5,1192.0 615.6,1191.0 615.8,1188.5 615.9,1192.3 616.0,1192.1 616.2,1190.7 616.3,1189.1 616.5,1203.2 616.6,1198.9 616.7,1190.3 616.9,1182.4 617.0,1178.6 617.1,1161.5 617.3,1185.7 617.4,1193.4 617.5,1184.6 617.7,1180.3 617.8,1185.6 617.9,1196.3 618.1,1188.2 618.2,1187.4 618.4,1198.7 618.5,1197.8 618.6,1176.8 618.8,1207.2 618.9,1187.0 619.0,1191.2 619.2,1176.0 619.3,1182.5 619.4,1195.1 619.6,1176.3 619.7,1191.5 619.8,1168.9 620.0,1171.6 620.1,1186.1 620.3,1178.6 620.4,1184.2 620.5,1193.6 620.7,1175.9 620.8,1180.9 620.9,1176.3 621.1,1174.5 621.2,1172.1 621.3,1175.3 621.5,1185.8 621.6,1184.2 621.7,1181.8 621.9,1185.9 622.0,1186.8 622.2,1168.4 622.3,1180.5 622.4,1167.7 622.6,1191.3 622.7,1184.5 622.8,1187.6 623.0,1186.5 623.1,1185.6 623.2,1184.8 623.4,1188.2 623.5,1169.3 623.6,1178.8 623.8,1190.8 623.9,1189.6 624.1,1178.3 624.2,1180.5 624.3,1191.0 624.5,1178.0 624.6,1198.7 624.7,1190.8 624.9,1172.0 625.0,1209.6 625.1,1189.0 625.3,1178.2 625.4,1188.1 625.5,1193.3 625.7,1195.3 625.8,1205.5 626.0,1199.6 626.1,1186.9 626.2,1206.4 626.4,1187.6 626.5,1189.0 626.6,1184.7 626.8,1201.9 626.9,1190.0 627.0,1190.4 627.2,1190.0 627.3,1194.7 627.4,1205.3 627.6,1180.1 627.7,1178.8 627.9,1165.4 628.0,1179.8 628.1,1172.0 628.3,1181.5 628.4,1189.9 628.5,1181.8 628.7,1196.2 628.8,1184.3 628.9,1187.6 629.1,1196.6 629.2,1176.6 629.3,1177.4 629.5,1183.4 629.6,1179.7 629.8,1171.4 629.9,1186.9 630.0,1197.0 630.2,1193.8 630.3,1179.6 630.4,1184.4 630.6,1199.4 630.7,1175.3 630.8,1185.3 631.0,1173.5 631.1,1177.8 631.2,1191.1 631.4,1187.2 631.5,1195.4 631.7,1196.4 631.8,1191.5 631.9,1184.5 632.1,1176.6 632.2,1196.6 632.3,1181.9 632.5,1187.0 632.6,1189.8 632.7,1177.5 632.9,1189.9 633.0,1173.4 633.1,1187.7 633.3,1192.1 633.4,1177.7 633.6,1197.3 633.7,1195.2 633.8,1187.2 634.0,1185.5 634.1,1187.9 634.2,1203.0 634.4,1197.6 634.5,1180.6 634.6,1180.6 634.8,1193.8 634.9,1182.6 635.0,1182.7 635.2,1175.7 635.3,1190.6 635.5,1171.3 635.6,1185.6 635.7,1169.7 635.9,1174.4 636.0,1191.0 636.1,1184.3 636.3,1179.0 636.4,1173.3 636.5,1194.4 636.7,1186.3 636.8,1176.3 636.9,1177.8 637.1,1191.6 637.2,1190.7 637.4,1179.6 637.5,1192.5 637.6,1181.3 637.8,1175.6 637.9,1183.3 638.0,1207.3 638.2,1173.5 638.3,1173.7 638.4,1171.1 638.6,1175.7 638.7,1197.9 638.8,1170.5 639.0,1180.1 639.1,1175.1 639.3,1184.8 639.4,1186.9 639.5,1185.9 639.7,1170.9 639.8,1183.2 639.9,1187.1 640.1,1196.9 640.2,1182.1 640.3,1186.6 640.5,1184.9 640.6,1178.0 640.7,1180.1 640.9,1186.8 641.0,1184.7 641.2,1186.1 641.3,1180.6 641.4,1179.6 641.6,1184.4 641.7,1193.9 641.8,1178.6 642.0,1177.9 642.1,1195.0 642.2,1182.3 642.4,1189.1 642.5,1205.0 642.6,1186.7 642.8,1177.7 642.9,1192.9 643.1,1192.0 643.2,1176.9 643.3,1195.4 643.5,1193.4 643.6,1188.2 643.7,1179.4 643.9,1179.9 644.0,1190.3 644.1,1188.4 644.3,1184.6 644.4,1188.3 644.5,1193.0 644.7,1195.3 644.8,1179.2 645.0,1187.2 645.1,1160.3 645.2,1179.9 645.4,1192.0 645.5,1185.8 645.6,1182.7 645.8,1181.3 645.9,1181.6 646.0,1181.8 646.2,1187.3 646.3,1180.5 646.4,1166.9 646.6,1190.2 646.7,1189.7 646.9,1181.2 647.0,1176.4 647.1,1180.7 647.3,1176.5 647.4,1187.7 647.5,1189.0 647.7,1182.6 647.8,1182.7 647.9,1174.1 648.1,1174.7 648.2,1204.6 648.3,1181.8 648.5,1194.1 648.6,1206.5 648.8,1184.2 648.9,1189.5 649.0,1190.9 649.2,1199.6 649.3,1197.8 649.4,1190.1 649.6,1201.9 649.7,1190.0 649.8,1187.4 650.0,1189.0 650.1,1185.1 650.2,1188.7 650.4,1198.4 650.5,1196.9 650.7,1186.4 650.8,1178.6 650.9,1185.3 651.1,1190.7 651.2,1184.5 651.3,1202.6 651.5,1196.1 651.6,1190.4 651.7,1186.6 651.9,1188.8 652.0,1187.6 652.2,1196.4 652.3,1190.9 652.4,1183.4 652.6,1201.6 652.7,1195.8 652.8,1188.5 653.0,1172.6 653.1,1179.8 653.2,1172.0 653.4,1173.2 653.5,1189.2 653.6,1185.2 653.8,1195.2 653.9,1174.7 654.1,1178.8 654.2,1180.2 654.3,1179.2 654.5,1180.1 654.6,1182.6 654.7,1181.7 654.9,1173.5 655.0,1190.3 655.1,1192.5 655.3,1183.0 655.4,1172.5 655.5,1179.8 655.7,1184.6 655.8,1175.6 656.0,1182.6 656.1,1200.7 656.2,1192.4 656.4,1202.7 656.5,1186.7 656.6,1188.5 656.8,1181.0 656.9,1166.0 657.0,1189.2 657.2,1183.9 657.3,1186.8 657.4,1208.5 657.6,1190.5 657.7,1190.3 657.9,1181.1 658.0,1191.1 658.1,1195.1 658.3,1178.5 658.4,1183.9 658.5,1191.9 658.7,1191.7 658.8,1187.9 658.9,1178.0 659.1,1173.4 659.2,1197.6 659.3,1176.3 659.5,1186.7 659.6,1184.3 659.8,1179.2 659.9,1195.8 660.0,1179.2 660.2,1198.0 660.3,1190.7 660.4,1194.4 660.6,1172.0 660.7,1172.4 660.8,1179.8 661.0,1182.1 661.1,1192.2 661.2,1172.4 661.4,1176.2 661.5,1180.6 661.7,1190.3 661.8,1193.0 661.9,1190.4 662.1,1178.2 662.2,1198.3 662.3,1188.8 662.5,1175.8 662.6,1182.1 662.7,1173.3 662.9,1184.9 663.0,1185.8 663.1,1177.0 663.3,1183.9 663.4,1186.1 663.6,1176.0 663.7,1201.2 663.8,1174.2 664.0,1191.8 664.1,1195.1 664.2,1181.2 664.4,1196.5 664.5,1199.6 664.6,1192.8 664.8,1189.1 664.9,1186.7 665.0,1184.7 665.2,1180.4 665.3,1190.4 665.5,1185.5 665.6,1190.2 665.7,1193.5 665.9,1184.2 666.0,1184.9 666.1,1172.3 666.3,1182.9 666.4,1195.0 666.5,1183.3 666.7,1191.0 666.8,1175.3 666.9,1203.8 667.1,1193.8 667.2,1193.4 667.4,1186.0 667.5,1188.3 667.6,1201.6 667.8,1204.3 667.9,1186.4 668.0,1174.6 668.2,1174.3 668.3,1190.4 668.4,1182.7 668.6,1194.4 668.7,1199.4 668.8,1176.2 669.0,1181.4 669.1,1190.1 669.3,1190.6 669.4,1179.3 669.5,1184.4 669.7,1189.1 669.8,1184.7 669.9,1186.9 670.1,1190.5 670.2,1192.4 670.3,1178.1 670.5,1189.7 670.6,1195.8 670.7,1169.4 670.9,1174.4 671.0,1180.7 671.2,1186.4 671.3,1184.6 671.4,1199.1 671.6,1186.7 671.7,1184.5 671.8,1188.0 672.0,1183.1 672.1,1193.6 672.2,1185.0 672.4,1200.7 672.5,1187.9 672.6,1193.1 672.8,1199.0 672.9,1191.2 673.1,1186.6 673.2,1192.0 673.3,1179.1 673.5,1192.6 673.6,1179.0 673.7,1181.5 673.9,1192.7 674.0,1174.5 674.1,1198.4 674.3,1182.0 674.4,1186.1 674.5,1179.9 674.7,1200.3 674.8,1197.5 675.0,1194.1 675.1,1187.1 675.2,1186.6 675.4,1187.2 675.5,1189.5 675.6,1193.2 675.8,1199.4 675.9,1191.1 676.0,1182.4 676.2,1178.2 676.3,1191.2 676.4,1177.3 676.6,1198.2 676.7,1180.7 676.9,1197.4 677.0,1184.9 677.1,1195.9 677.3,1196.1 677.4,1192.0 677.5,1175.4 677.7,1193.5 677.8,1182.6 677.9,1186.6 678.1,1186.4 678.2,1186.8 678.3,1184.2 678.5,1200.6 678.6,1190.1 678.8,1188.2 678.9,1196.4 679.0,1188.7 679.2,1200.3 679.3,1185.1 679.4,1197.1 679.6,1193.8 679.7,1184.6 679.8,1181.3 680.0,1196.2 680.1,1196.3 680.2,1182.9 680.4,1216.4 680.5,1180.0 680.7,1179.9 680.8,1200.0 680.9,1180.0 681.1,1187.4 681.2,1187.0 681.3,1210.8 681.5,1195.0 681.6,1191.8 681.7,1193.4 681.9,1193.1 682.0,1192.4 682.1,1214.9 682.3,1192.1 682.4,1196.3 682.6,1190.5 682.7,1193.7 682.8,1188.9 683.0,1185.8 683.1,1172.8 683.2,1195.1 683.4,1172.6 683.5,1189.9 683.6,1195.6 683.8,1200.7 683.9,1180.4 684.0,1200.7 684.2,1180.5 684.3,1184.8 684.5,1193.0 684.6,1193.7 684.7,1183.9 684.9,1185.9 685.0,1180.7 685.1,1187.4 685.3,1191.0 685.4,1181.1 685.5,1196.5 685.7,1178.8 685.8,1186.0 685.9,1196.5 686.1,1195.8 686.2,1189.3 686.4,1202.0 686.5,1174.5 686.6,1178.4 686.8,1196.8 686.9,1188.8 687.0,1173.5 687.2,1185.5 687.3,1197.8 687.4,1208.4 687.6,1203.6 687.7,1178.8 687.8,1186.5 688.0,1200.7 688.1,1184.2 688.3,1193.2 688.4,1196.0 688.5,1194.6 688.7,1193.8 688.8,1175.4 688.9,1199.0 689.1,1194.4 689.2,1178.9 689.3,1177.2 689.5,1199.7 689.6,1173.2 689.7,1182.1 689.9,1204.8 690.0,1176.2 690.2,1204.6 690.3,1185.7 690.4,1201.4 690.6,1206.9 690.7,1183.7 690.8,1187.5 691.0,1192.1 691.1,1189.3 691.2,1191.7 691.4,1193.3 691.5,1199.7 691.7,1184.9 691.8,1189.9 691.9,1191.8 692.1,1194.7 692.2,1191.6 692.3,1201.8 692.5,1191.2 692.6,1197.5 692.7,1177.7 692.9,1197.2 693.0,1192.0 693.1,1188.3 693.3,1182.0 693.4,1185.3 693.6,1188.5 693.7,1169.2 693.8,1188.1 694.0,1184.7 694.1,1162.8 694.2,1195.0 694.4,1178.7 694.5,1183.6 694.6,1198.7 694.8,1192.6 694.9,1179.4 695.0,1199.0 695.2,1187.8 695.3,1177.3 695.5,1187.7 695.6,1183.9 695.7,1192.6 695.9,1192.3 696.0,1192.1 696.1,1189.9 696.3,1181.1 696.4,1186.6 696.5,1169.9 696.7,1181.5 696.8,1184.0 696.9,1167.1 697.1,1188.1 697.2,1194.2 697.4,1184.7 697.5,1195.7 697.6,1182.5 697.8,1175.1 697.9,1181.8 698.0,1191.1 698.2,1188.9 698.3,1183.4 698.4,1177.5 698.6,1191.9 698.7,1192.2 698.8,1178.8 699.0,1185.9 699.1,1184.7 699.3,1183.5 699.4,1194.9 699.5,1188.7 699.7,1177.5 699.8,1188.0 699.9,1188.6 700.1,1184.5 700.2,1183.1 700.3,1164.6 700.5,1193.6 700.6,1185.6 700.7,1170.1 700.9,1187.5 701.0,1183.9 701.2,1199.7 701.3,1177.8 701.4,1179.8 701.6,1180.0 701.7,1188.2 701.8,1183.5 702.0,1186.8 702.1,1178.6 702.2,1186.2 702.4,1179.7 702.5,1198.8 702.6,1189.0 702.8,1211.4 702.9,1187.9 703.1,1180.2 703.2,1189.3 703.3,1166.3 703.5,1195.6 703.6,1190.1 703.7,1196.0 703.9,1192.9 704.0,1193.1 704.1,1202.0 704.3,1197.6 704.4,1170.5 704.5,1190.8 704.7,1180.0 704.8,1198.6 705.0,1188.6 705.1,1182.7 705.2,1189.1 705.4,1192.8 705.5,1188.3 705.6,1186.2 705.8,1179.5 705.9,1176.0 706.0,1198.9 706.2,1205.8 706.3,1188.8 706.4,1186.1 706.6,1179.6 706.7,1177.3 706.9,1192.2 707.0,1168.8 707.1,1184.4 707.3,1202.7 707.4,1178.8 707.5,1184.9 707.7,1185.4 707.8,1201.9 707.9,1190.5 708.1,1186.0 708.2,1188.9 708.3,1182.9 708.5,1178.7 708.6,1176.4 708.8,1179.7 708.9,1192.7 709.0,1176.6 709.2,1189.5 709.3,1207.9 709.4,1193.1 709.6,1204.8 709.7,1212.5 709.8,1190.8 710.0,1199.1 710.1,1192.7 710.2,1184.4 710.4,1206.5 710.5,1209.2 710.7,1191.6 710.8,1190.0 710.9,1195.5 711.1,1197.5 711.2,1207.4 711.3,1193.8 711.5,1199.7 711.6,1189.1 711.7,1184.7 711.9,1197.9 712.0,1188.9 712.1,1190.9 712.3,1186.4 712.4,1178.5 712.6,1185.6 712.7,1185.4 712.8,1184.0 713.0,1194.2 713.1,1189.8 713.2,1187.5 713.4,1179.2 713.5,1179.5 713.6,1170.7 713.8,1200.8 713.9,1191.6 714.0,1205.8 714.2,1194.8 714.3,1204.1 714.5,1179.4 714.6,1182.6 714.7,1198.1 714.9,1186.1 715.0,1182.5 715.1,1173.5 715.3,1181.5 715.4,1187.7 715.5,1189.7 715.7,1183.4 715.8,1185.3 715.9,1191.9 716.1,1198.9 716.2,1179.5 716.4,1194.9 716.5,1190.9 716.6,1182.1 716.8,1189.7 716.9,1178.8 717.0,1198.6 717.2,1182.0 717.3,1199.6 717.4,1202.4 717.6,1197.8 717.7,1187.1 717.8,1194.4 718.0,1217.8 718.1,1178.5 718.3,1198.5 718.4,1190.8 718.5,1187.7 718.7,1193.6 718.8,1186.7 718.9,1184.5 719.1,1190.9 719.2,1180.8 719.3,1195.0 719.5,1198.3 719.6,1186.9 719.7,1196.5 719.9,1185.1 720.0,1189.3 720.2,1192.2 720.3,1181.8 720.4,1183.0 720.6,1213.6 720.7,1190.2 720.8,1186.1 721.0,1182.9 721.1,1192.4 721.2,1198.5 721.4,1188.0 721.5,1182.5 721.6,1207.0 721.8,1202.3 721.9,1193.4 722.1,1211.3 722.2,1194.4 722.3,1181.5 722.5,1198.5 722.6,1188.1 722.7,1197.7 722.9,1186.1 723.0,1183.6 723.1,1178.3 723.3,1189.5 723.4,1180.8 723.5,1187.0 723.7,1195.0 723.8,1178.3 724.0,1197.0 724.1,1190.4 724.2,1170.7 724.4,1184.6 724.5,1198.2 724.6,1187.8 724.8,1194.5 724.9,1190.4 725.0,1202.5 725.2,1186.5 725.3,1201.6 725.4,1184.0 725.6,1183.8 725.7,1178.8 725.9,1167.3 726.0,1202.3 726.1,1197.8 726.3,1194.8 726.4,1191.4 726.5,1179.0 726.7,1189.5 726.8,1191.5 726.9,1195.9 727.1,1191.4 727.2,1189.4 727.3,1186.2 727.5,1198.1 727.6,1186.2 727.8,1180.8 727.9,1182.9 728.0,1196.5 728.2,1178.3 728.3,1178.1 728.4,1183.0 728.6,1197.0 728.7,1199.5 728.8,1186.9 729.0,1196.6 729.1,1199.8"/>
<rect x="101.75" y="783.00" width="655.85" height="462.50" fill="none" stroke="#000" stroke-width="1.9"/>
<path d="M132.00 1245.50V1254.50M267.40 1245.50V1254.50M402.80 1245.50V1254.50M538.20 1245.50V1254.50M673.60 1245.50V1254.50M101.75 1224.25H92.75M101.75 1144.00H92.75M101.75 1063.75H92.75M101.75 983.50H92.75M101.75 903.25H92.75M101.75 823.00H92.75" stroke="#000" stroke-width="1.9" fill="none"/>
<text x="132.00" y="1287.50" font-size="32.5" text-anchor="middle">0</text>
<text x="267.40" y="1287.50" font-size="32.5" text-anchor="middle">1</text>
<text x="402.80" y="1287.50" font-size="32.5" text-anchor="middle">2</text>
<text x="538.20" y="1287.50" font-size="32.5" text-anchor="middle">3</text>
<text x="673.60" y="1287.50" font-size="32.5" text-anchor="middle">4</text>
<text x="82.50" y="1235.25" font-size="32.5" text-anchor="end">8</text>
<text x="82.50" y="1155.00" font-size="32.5" text-anchor="end">9</text>
<text x="82.50" y="1074.75" font-size="32.5" text-anchor="end">10</text>
<text x="82.50" y="994.50" font-size="32.5" text-anchor="end">11</text>
<text x="82.50" y="914.25" font-size="32.5" text-anchor="end">12</text>
<text x="82.50" y="834.00" font-size="32.5" text-anchor="end">13</text>
<text x="429.0" y="1328.0" font-size="35" text-anchor="middle"><tspan font-style="italic">t</tspan>[<tspan font-style="italic">s</tspan>]</text>
<text transform="translate(35.0 1015.0) rotate(-90)" font-size="35" text-anchor="middle"><tspan font-style="italic">u</tspan><tspan font-size="24" dy="6">1</tspan><tspan dy="-6">[</tspan><tspan font-style="italic">m</tspan>/<tspan font-style="italic">s</tspan>]</text>
<text x="365.0" y="1420.5" font-size="49" text-anchor="middle">(b)</text>
<defs><clipPath id="cc"><rect x="998.00" y="783.00" width="571.50" height="445.50"/></clipPath></defs>
<polyline clip-path="url(#cc)" fill="none" stroke="#1f77b4" stroke-width="3.2" stroke-linejoin="round" points="998.0,1222.2 1000.0,1222.1 1002.0,1222.4 1004.0,1223.9 1006.0,1223.3 1008.0,1222.4 1010.0,1222.1 1012.0,1222.7 1014.0,1223.5 1016.0,1223.9 1018.0,1223.7 1020.0,1223.5 1022.0,1223.9 1024.0,1224.7 1026.0,1225.1 1028.0,1224.6 1030.0,1223.7 1032.0,1223.1 1034.0,1223.1 1036.0,1223.4 1038.0,1223.3 1040.0,1222.7 1042.0,1222.2 1044.0,1222.6 1046.0,1223.6 1048.0,1224.3 1050.0,1224.4 1052.0,1224.0 1054.0,1223.9 1056.0,1224.3 1058.0,1224.7 1060.0,1224.5 1062.0,1223.6 1064.0,1222.7 1066.0,1222.5 1068.0,1222.9 1070.0,1223.3 1072.0,1223.1 1074.0,1222.7 1076.0,1222.8 1078.0,1223.6 1080.0,1224.6 1082.0,1224.9 1084.0,1224.5 1086.0,1223.9 1088.0,1223.8 1090.0,1224.1 1092.0,1224.2 1094.0,1223.6 1096.0,1222.6 1098.0,1222.2 1100.0,1222.5 1102.0,1223.3 1104.0,1223.6 1106.0,1223.4 1108.0,1223.2 1110.0,1223.7 1112.0,1224.5 1114.0,1225.1 1116.0,1224.8 1118.0,1224.0 1120.0,1223.4 1122.0,1223.4 1124.0,1223.7 1126.0,1223.5 1128.0,1222.8 1130.0,1222.2 1132.0,1222.3 1134.0,1223.2 1136.0,1224.0 1138.0,1224.2 1140.0,1223.9 1142.0,1223.8 1144.0,1224.3 1146.0,1224.9 1148.0,1224.8 1150.0,1224.0 1152.0,1223.1 1154.0,1222.7 1156.0,1223.0 1158.0,1223.3 1160.0,1223.1 1162.0,1222.6 1164.0,1222.5 1166.0,1223.2 1168.0,1224.2 1170.0,1224.7 1172.0,1224.5 1174.0,1224.0 1176.0,1223.9 1178.0,1224.3 1180.0,1223.3 1191.7,1224.2 1200.5,1222.7 1209.4,1223.3 1215.2,1222.1 1216.7,1220.4 1218.7,1213.0 1221.1,1216.9 1223.4,1208.6 1225.5,1145.5 1227.5,1141.1 1229.3,1104.4 1231.7,1155.8 1234.6,1095.6 1237.2,1161.7 1240.2,1218.9 1242.2,1202.8 1244.0,1210.1 1246.3,1196.9 1248.4,1185.7 1250.4,1194.0 1251.9,1216.0 1254.0,1220.4 1256.3,1221.8 1258.7,1216.9 1261.6,1223.3 1265.1,1218.9 1268.6,1213.0 1273.3,1216.0 1278.3,1223.3 1282.7,1217.4 1286.3,1205.1 1290.1,1221.8 1294.5,1220.4 1297.4,1223.3 1301.8,1218.9 1306.2,1224.8 1312.1,1220.4 1316.5,1221.8 1320.9,1214.5 1323.8,1216.0 1328.2,1224.8 1334.1,1220.4 1341.4,1213.0 1347.3,1221.8 1351.7,1213.0 1355.5,1214.5 1359.6,1202.8 1363.4,1208.6 1367.8,1223.3 1373.7,1205.7 1376.1,1214.5 1379.6,1204.2 1384.0,1205.7 1385.5,1208.6 1388.4,1176.3 1392.2,1119.1 1394.3,1195.4 1397.8,850.5 1400.1,1094.2 1401.6,1182.2 1403.1,1152.9 1406.0,1210.1 1408.4,1189.6 1411.9,1214.5 1414.8,1223.3 1417.7,1213.0 1420.7,1213.0 1423.6,1220.4 1428.0,1221.8 1433.0,1220.4 1436.8,1224.8 1444.2,1220.4 1450.0,1224.8 1461.8,1223.9 1476.4,1223.3 1482.3,1225.7 1502.9,1225.1 1532.2,1225.4 1567.4,1225.7"/>
<rect x="998.00" y="783.00" width="571.50" height="445.50" fill="none" stroke="#000" stroke-width="1.9"/>
<path d="M998.00 1228.50V1237.50M1112.30 1228.50V1237.50M1226.60 1228.50V1237.50M1340.90 1228.50V1237.50M1455.20 1228.50V1237.50M1569.50 1228.50V1237.50M998.00 1226.25H989.00M998.00 1087.50H989.00M998.00 948.75H989.00M998.00 810.00H989.00" stroke="#000" stroke-width="1.9" fill="none"/>
<text x="998.00" y="1271.00" font-size="32.5" text-anchor="middle">100</text>
<text x="1112.30" y="1271.00" font-size="32.5" text-anchor="middle">200</text>
<text x="1226.60" y="1271.00" font-size="32.5" text-anchor="middle">300</text>
<text x="1340.90" y="1271.00" font-size="32.5" text-anchor="middle">400</text>
<text x="1455.20" y="1271.00" font-size="32.5" text-anchor="middle">500</text>
<text x="1569.50" y="1271.00" font-size="32.5" text-anchor="middle">600</text>
<text x="977.50" y="1237.25" font-size="32.5" text-anchor="end">0.000</text>
<text x="977.50" y="1098.50" font-size="32.5" text-anchor="end">0.005</text>
<text x="977.50" y="959.75" font-size="32.5" text-anchor="end">0.010</text>
<text x="977.50" y="821.00" font-size="32.5" text-anchor="end">0.015</text>
<text x="1285.5" y="1325.0" font-size="48" letter-spacing="4.5" text-anchor="middle"><tspan font-style="italic">f</tspan>[<tspan font-style="italic">Hz</tspan>]</text>
<text transform="translate(884.0 1002.5) rotate(-90)" font-size="50" letter-spacing="2.5" text-anchor="middle"><tspan font-style="italic">PSD</tspan> m<tspan font-size="34" dy="-19">2</tspan><tspan dy="19">/s</tspan></text>
<text x="1200.5" y="1420.5" font-size="49" text-anchor="middle">(c)</text>
</svg></body></html>
